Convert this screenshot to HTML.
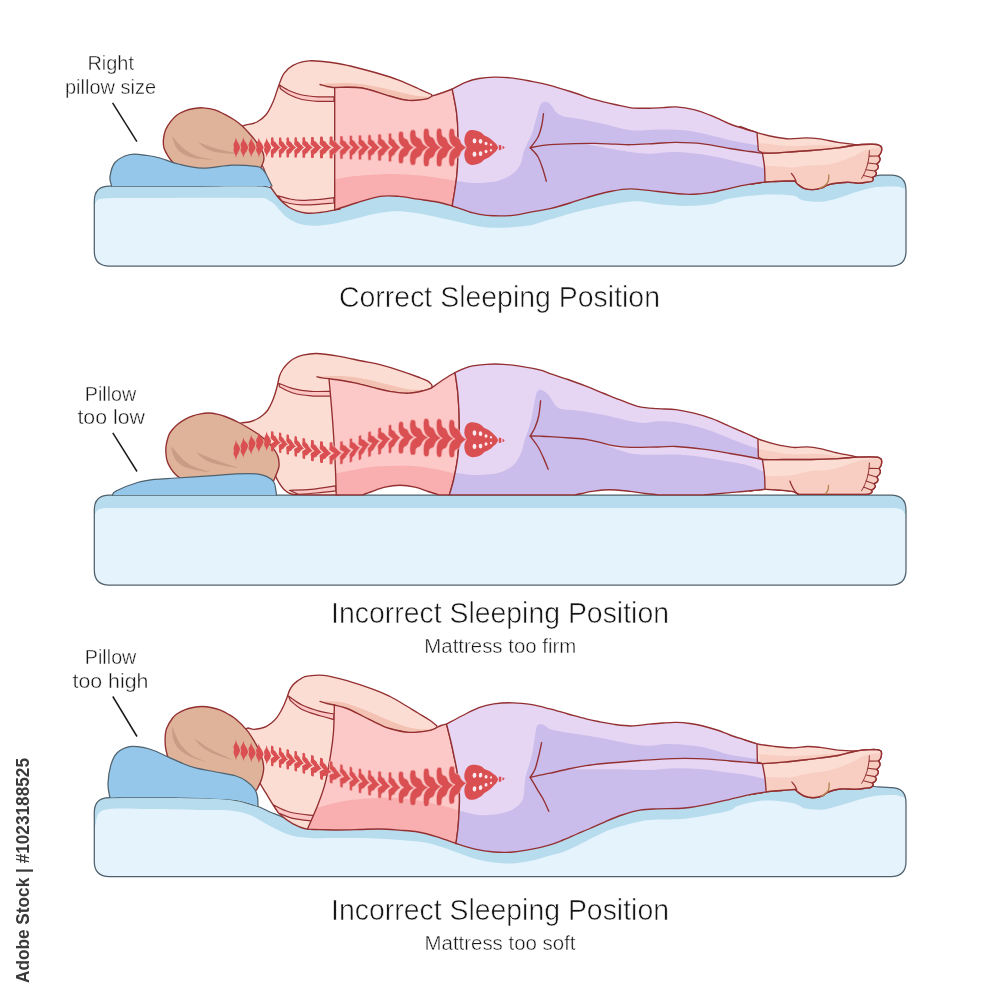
<!DOCTYPE html>
<html><head><meta charset="utf-8"><title>Sleeping positions</title>
<style>
html,body{margin:0;padding:0;background:#fff;}
body{width:1000px;height:1000px;overflow:hidden;font-family:"Liberation Sans",sans-serif;}
svg{display:block;}
svg text{font-family:"Liberation Sans",sans-serif;}
</style></head><body>
<svg width="1000" height="1000" viewBox="0 0 1000 1000">
<rect width="1000" height="1000" fill="#ffffff"/>
<clipPath id="f1mat"><path d="M94.3,201.0 Q94.3,186.0 109.3,186.0 L110.0,186.0 C125.0,186.0 174.7,186.0 200.0,186.0 C225.3,186.0 249.3,184.8 262.0,186.0 C274.7,187.2 271.5,189.8 276.0,193.0 C280.5,196.2 284.2,202.1 289.0,205.0 C293.8,207.9 297.5,210.1 305.0,210.5 C312.5,210.9 325.5,209.2 334.0,207.5 C342.5,205.8 348.0,202.7 356.0,200.5 C364.0,198.3 372.7,195.5 382.0,194.5 C391.3,193.5 402.8,193.7 412.0,194.5 C421.2,195.3 430.3,198.0 437.0,199.5 C443.7,201.0 446.3,201.8 452.0,203.5 C457.7,205.2 465.2,208.4 471.0,210.0 C476.8,211.6 480.0,212.5 487.0,213.0 C494.0,213.5 505.5,213.7 513.0,213.0 C520.5,212.3 525.8,210.2 532.0,209.0 C538.2,207.8 541.0,208.3 550.0,206.0 C559.0,203.7 572.5,198.3 586.0,195.0 C599.5,191.7 619.0,187.0 631.0,186.0 C643.0,185.0 649.0,188.1 658.0,189.0 C667.0,189.9 676.0,191.4 685.0,191.5 C694.0,191.6 704.5,190.4 712.0,189.5 C719.5,188.6 723.7,187.3 730.0,186.0 C736.3,184.7 744.0,183.0 750.0,181.5 C756.0,180.0 759.2,178.6 766.0,177.0 C772.8,175.4 785.3,170.8 791.0,172.0 C796.7,173.2 796.5,181.5 800.0,184.0 C803.5,186.5 807.5,187.2 812.0,187.0 C816.5,186.8 819.7,184.0 827.0,183.0 C834.3,182.0 848.8,182.0 856.0,181.0 C863.2,180.0 866.0,178.0 870.0,177.0 C874.0,176.0 876.6,175.5 880.0,175.2 C883.4,174.9 888.8,175.2 890.5,175.2 L891.0,175.2 Q906.0,175.2 906.0,190.2 L906.0,251.0 Q906.0,266.0 891.0,266.0 L109.3,266.0 Q94.3,266.0 94.3,251.0 Z"/></clipPath>
<path d="M94.3,201.0 Q94.3,186.0 109.3,186.0 L110.0,186.0 C125.0,186.0 174.7,186.0 200.0,186.0 C225.3,186.0 249.3,184.8 262.0,186.0 C274.7,187.2 271.5,189.8 276.0,193.0 C280.5,196.2 284.2,202.1 289.0,205.0 C293.8,207.9 297.5,210.1 305.0,210.5 C312.5,210.9 325.5,209.2 334.0,207.5 C342.5,205.8 348.0,202.7 356.0,200.5 C364.0,198.3 372.7,195.5 382.0,194.5 C391.3,193.5 402.8,193.7 412.0,194.5 C421.2,195.3 430.3,198.0 437.0,199.5 C443.7,201.0 446.3,201.8 452.0,203.5 C457.7,205.2 465.2,208.4 471.0,210.0 C476.8,211.6 480.0,212.5 487.0,213.0 C494.0,213.5 505.5,213.7 513.0,213.0 C520.5,212.3 525.8,210.2 532.0,209.0 C538.2,207.8 541.0,208.3 550.0,206.0 C559.0,203.7 572.5,198.3 586.0,195.0 C599.5,191.7 619.0,187.0 631.0,186.0 C643.0,185.0 649.0,188.1 658.0,189.0 C667.0,189.9 676.0,191.4 685.0,191.5 C694.0,191.6 704.5,190.4 712.0,189.5 C719.5,188.6 723.7,187.3 730.0,186.0 C736.3,184.7 744.0,183.0 750.0,181.5 C756.0,180.0 759.2,178.6 766.0,177.0 C772.8,175.4 785.3,170.8 791.0,172.0 C796.7,173.2 796.5,181.5 800.0,184.0 C803.5,186.5 807.5,187.2 812.0,187.0 C816.5,186.8 819.7,184.0 827.0,183.0 C834.3,182.0 848.8,182.0 856.0,181.0 C863.2,180.0 866.0,178.0 870.0,177.0 C874.0,176.0 876.6,175.5 880.0,175.2 C883.4,174.9 888.8,175.2 890.5,175.2 L891.0,175.2 Q906.0,175.2 906.0,190.2 L906.0,251.0 Q906.0,266.0 891.0,266.0 L109.3,266.0 Q94.3,266.0 94.3,251.0 Z" fill="#e4f3fc"/>
<path d="M92.3,146.0 L908.0,135.2 L908.0,190.0 L908.0,190.0 C906.7,189.5 902.7,187.6 900.0,187.0 C897.3,186.4 896.3,186.4 892.0,186.5 C887.7,186.6 880.0,186.5 874.0,187.4 C868.0,188.3 862.0,190.2 856.0,192.0 C850.0,193.8 844.0,196.6 838.0,198.2 C832.0,199.8 826.0,201.5 820.0,201.8 C814.0,202.1 806.5,201.1 802.0,200.0 C797.5,198.9 799.0,196.4 793.0,195.5 C787.0,194.6 776.5,194.1 766.0,194.6 C755.5,195.1 739.0,196.9 730.0,198.5 C721.0,200.1 719.5,202.8 712.0,204.0 C704.5,205.2 694.0,206.0 685.0,206.0 C676.0,206.0 667.0,204.8 658.0,204.0 C649.0,203.2 643.0,200.5 631.0,201.4 C619.0,202.3 599.5,206.5 586.0,209.5 C572.5,212.5 560.2,216.7 550.0,219.4 C539.8,222.2 535.5,224.7 525.0,226.0 C514.5,227.3 499.5,228.5 487.0,227.5 C474.5,226.5 462.5,222.5 450.0,220.0 C437.5,217.5 423.3,213.8 412.0,212.5 C400.7,211.2 395.3,210.6 382.0,212.5 C368.7,214.4 344.8,221.9 332.0,224.0 C319.2,226.1 312.5,226.1 305.0,225.0 C297.5,223.9 292.8,221.5 287.0,217.5 C281.2,213.5 276.2,204.2 270.0,201.0 C263.8,197.8 270.0,198.5 250.0,198.0 C230.0,197.5 174.3,197.9 150.0,198.0 C125.7,198.1 113.2,197.6 104.0,198.6 C94.8,199.6 97.3,201.1 95.0,204.0 C92.7,206.9 90.8,214.0 90.0,216.0 L92.3,216.0 Z" fill="#b7dcee" clip-path="url(#f1mat)"/>
<path d="M94.3,201.0 Q94.3,186.0 109.3,186.0 L110.0,186.0 C125.0,186.0 174.7,186.0 200.0,186.0 C225.3,186.0 249.3,184.8 262.0,186.0 C274.7,187.2 271.5,189.8 276.0,193.0 C280.5,196.2 284.2,202.1 289.0,205.0 C293.8,207.9 297.5,210.1 305.0,210.5 C312.5,210.9 325.5,209.2 334.0,207.5 C342.5,205.8 348.0,202.7 356.0,200.5 C364.0,198.3 372.7,195.5 382.0,194.5 C391.3,193.5 402.8,193.7 412.0,194.5 C421.2,195.3 430.3,198.0 437.0,199.5 C443.7,201.0 446.3,201.8 452.0,203.5 C457.7,205.2 465.2,208.4 471.0,210.0 C476.8,211.6 480.0,212.5 487.0,213.0 C494.0,213.5 505.5,213.7 513.0,213.0 C520.5,212.3 525.8,210.2 532.0,209.0 C538.2,207.8 541.0,208.3 550.0,206.0 C559.0,203.7 572.5,198.3 586.0,195.0 C599.5,191.7 619.0,187.0 631.0,186.0 C643.0,185.0 649.0,188.1 658.0,189.0 C667.0,189.9 676.0,191.4 685.0,191.5 C694.0,191.6 704.5,190.4 712.0,189.5 C719.5,188.6 723.7,187.3 730.0,186.0 C736.3,184.7 744.0,183.0 750.0,181.5 C756.0,180.0 759.2,178.6 766.0,177.0 C772.8,175.4 785.3,170.8 791.0,172.0 C796.7,173.2 796.5,181.5 800.0,184.0 C803.5,186.5 807.5,187.2 812.0,187.0 C816.5,186.8 819.7,184.0 827.0,183.0 C834.3,182.0 848.8,182.0 856.0,181.0 C863.2,180.0 866.0,178.0 870.0,177.0 C874.0,176.0 876.6,175.5 880.0,175.2 C883.4,174.9 888.8,175.2 890.5,175.2 L891.0,175.2 Q906.0,175.2 906.0,190.2 L906.0,251.0 Q906.0,266.0 891.0,266.0 L109.3,266.0 Q94.3,266.0 94.3,251.0 Z" fill="none" stroke="#50616d" stroke-width="1.25"/>
<path d="M740.0,126.5 C742.8,127.5 751.2,130.8 757.0,132.6 C762.8,134.3 769.6,136.0 775.0,137.0 C780.4,138.0 784.3,138.7 789.4,138.8 C794.5,139.0 800.5,137.9 805.6,137.9 C810.7,137.9 814.6,138.1 820.0,138.8 C825.4,139.6 832.6,141.5 838.0,142.4 C843.4,143.3 848.7,143.5 852.4,144.2 C856.1,144.9 858.7,146.1 860.0,146.5 C859.7,147.4 868.0,150.6 858.0,152.0 C848.0,153.4 819.7,155.3 800.0,155.0 C780.3,154.7 750.0,150.8 740.0,150.0 Z" fill="#fcddd3" stroke="#932f30" stroke-width="1.35" stroke-linejoin="round"/>
<path d="M750.0,152.0 C752.1,152.2 756.7,153.1 762.4,153.2 C768.1,153.2 775.9,152.8 784.0,152.3 C792.1,151.9 802.0,151.2 811.0,150.5 C820.0,149.8 830.5,148.7 838.0,147.8 C845.5,146.9 850.6,145.6 856.0,145.0 C861.4,144.4 866.8,144.3 870.4,144.2 C874.0,144.1 876.4,144.5 877.6,144.6 C878.2,144.9 880.3,145.6 881.0,146.5 C881.7,147.4 881.8,148.8 881.7,150.0 C881.6,151.2 881.0,152.5 880.5,153.5 C880.0,154.5 878.8,155.6 878.5,156.0 C878.8,156.4 879.9,157.6 880.0,158.5 C880.1,159.4 879.9,160.4 879.4,161.3 C878.9,162.2 877.2,163.6 876.7,164.0 C877.0,164.4 878.2,165.5 878.3,166.3 C878.4,167.1 878.0,168.2 877.5,169.0 C877.0,169.8 875.4,170.7 875.0,171.0 C875.2,171.4 876.3,172.5 876.3,173.3 C876.3,174.1 875.7,175.3 875.0,176.0 C874.3,176.7 872.7,177.2 872.2,177.5 C872.4,177.8 873.4,178.8 873.3,179.5 C873.2,180.2 872.4,181.1 871.5,181.5 C870.6,181.9 868.3,181.9 867.7,182.0 C866.2,182.2 861.7,183.2 858.4,183.2 C855.1,183.2 851.4,182.2 848.0,182.2 C844.6,182.2 841.3,182.6 838.0,183.0 C834.7,183.4 830.7,184.0 828.0,184.8 C825.3,185.6 824.5,187.0 822.0,187.8 C819.5,188.6 816.0,189.5 813.0,189.6 C810.0,189.7 806.5,189.2 804.0,188.3 C801.5,187.4 799.2,185.4 797.7,184.2 C796.2,182.9 795.5,181.4 795.0,180.8 C793.5,180.8 789.3,180.9 786.0,181.0 C782.7,181.1 778.5,181.3 775.0,181.5 C771.5,181.7 769.2,181.6 765.0,182.0 C760.8,182.4 752.5,183.8 750.0,184.2 Z" fill="#fcddd3" stroke="#932f30" stroke-width="1.35" stroke-linejoin="round"/>
<path d="M759.0,143.0 C764.2,143.5 779.8,145.7 790.0,146.0 C800.2,146.3 810.8,144.9 820.0,145.0 C829.2,145.1 839.0,146.3 845.0,146.5 C851.0,146.7 856.8,145.7 856.0,146.0 C855.2,146.3 847.5,147.7 840.0,148.5 C832.5,149.3 820.3,150.3 811.0,151.0 C801.7,151.7 792.5,152.5 784.0,152.8 C775.5,153.1 764.0,153.0 760.0,153.0 Z" fill="#f4c4b5" opacity="0.6"/>
<clipPath id="f1ft"><path d="M750.0,152.0 C752.1,152.2 756.7,153.1 762.4,153.2 C768.1,153.2 775.9,152.8 784.0,152.3 C792.1,151.9 802.0,151.2 811.0,150.5 C820.0,149.8 830.5,148.7 838.0,147.8 C845.5,146.9 850.6,145.6 856.0,145.0 C861.4,144.4 866.8,144.3 870.4,144.2 C874.0,144.1 876.4,144.5 877.6,144.6 C878.2,144.9 880.3,145.6 881.0,146.5 C881.7,147.4 881.8,148.8 881.7,150.0 C881.6,151.2 881.0,152.5 880.5,153.5 C880.0,154.5 878.8,155.6 878.5,156.0 C878.8,156.4 879.9,157.6 880.0,158.5 C880.1,159.4 879.9,160.4 879.4,161.3 C878.9,162.2 877.2,163.6 876.7,164.0 C877.0,164.4 878.2,165.5 878.3,166.3 C878.4,167.1 878.0,168.2 877.5,169.0 C877.0,169.8 875.4,170.7 875.0,171.0 C875.2,171.4 876.3,172.5 876.3,173.3 C876.3,174.1 875.7,175.3 875.0,176.0 C874.3,176.7 872.7,177.2 872.2,177.5 C872.4,177.8 873.4,178.8 873.3,179.5 C873.2,180.2 872.4,181.1 871.5,181.5 C870.6,181.9 868.3,181.9 867.7,182.0 C866.2,182.2 861.7,183.2 858.4,183.2 C855.1,183.2 851.4,182.2 848.0,182.2 C844.6,182.2 841.3,182.6 838.0,183.0 C834.7,183.4 830.7,184.0 828.0,184.8 C825.3,185.6 824.5,187.0 822.0,187.8 C819.5,188.6 816.0,189.5 813.0,189.6 C810.0,189.7 806.5,189.2 804.0,188.3 C801.5,187.4 799.2,185.4 797.7,184.2 C796.2,182.9 795.5,181.4 795.0,180.8 C793.5,180.8 789.3,180.9 786.0,181.0 C782.7,181.1 778.5,181.3 775.0,181.5 C771.5,181.7 769.2,181.6 765.0,182.0 C760.8,182.4 752.5,183.8 750.0,184.2 Z"/></clipPath>
<path d="M760.0,165.0 C763.3,165.2 774.5,166.1 780.0,166.5 C785.5,166.9 788.7,167.7 793.0,167.6 C797.3,167.5 799.3,166.4 805.6,165.8 C811.9,165.2 823.0,165.5 830.8,164.0 C838.6,162.5 846.5,159.1 852.4,156.8 C858.3,154.5 860.6,151.6 866.0,150.0 C871.4,148.4 881.8,147.9 885.0,147.5 L885.0,195.0 L760.0,195.0 Z" fill="#f4c4b5" opacity="0.6" clip-path="url(#f1ft)"/>
<path d="M750.0,152.0 C752.1,152.2 756.7,153.1 762.4,153.2 C768.1,153.2 775.9,152.8 784.0,152.3 C792.1,151.9 802.0,151.2 811.0,150.5 C820.0,149.8 830.5,148.7 838.0,147.8 C845.5,146.9 850.6,145.6 856.0,145.0 C861.4,144.4 866.8,144.3 870.4,144.2 C874.0,144.1 876.4,144.5 877.6,144.6 C878.2,144.9 880.3,145.6 881.0,146.5 C881.7,147.4 881.8,148.8 881.7,150.0 C881.6,151.2 881.0,152.5 880.5,153.5 C880.0,154.5 878.8,155.6 878.5,156.0 C878.8,156.4 879.9,157.6 880.0,158.5 C880.1,159.4 879.9,160.4 879.4,161.3 C878.9,162.2 877.2,163.6 876.7,164.0 C877.0,164.4 878.2,165.5 878.3,166.3 C878.4,167.1 878.0,168.2 877.5,169.0 C877.0,169.8 875.4,170.7 875.0,171.0 C875.2,171.4 876.3,172.5 876.3,173.3 C876.3,174.1 875.7,175.3 875.0,176.0 C874.3,176.7 872.7,177.2 872.2,177.5 C872.4,177.8 873.4,178.8 873.3,179.5 C873.2,180.2 872.4,181.1 871.5,181.5 C870.6,181.9 868.3,181.9 867.7,182.0 C866.2,182.2 861.7,183.2 858.4,183.2 C855.1,183.2 851.4,182.2 848.0,182.2 C844.6,182.2 841.3,182.6 838.0,183.0 C834.7,183.4 830.7,184.0 828.0,184.8 C825.3,185.6 824.5,187.0 822.0,187.8 C819.5,188.6 816.0,189.5 813.0,189.6 C810.0,189.7 806.5,189.2 804.0,188.3 C801.5,187.4 799.2,185.4 797.7,184.2 C796.2,182.9 795.5,181.4 795.0,180.8 C793.5,180.8 789.3,180.9 786.0,181.0 C782.7,181.1 778.5,181.3 775.0,181.5 C771.5,181.7 769.2,181.6 765.0,182.0 C760.8,182.4 752.5,183.8 750.0,184.2 Z" fill="none" stroke="#932f30" stroke-width="1.35" stroke-linejoin="round"/>
<path d="M869.4,150.7 C869.3,151.9 869.2,155.3 868.8,157.9 C868.4,160.5 867.8,163.6 867.0,166.3 C866.2,169.0 864.9,172.1 864.0,174.1 C863.1,176.1 862.0,177.6 861.6,178.3" fill="none" stroke="#932f30" stroke-width="1.0" stroke-linecap="round"/>
<path d="M791.4,173.4 C791.8,174.0 793.2,175.7 794.0,177.0 C794.8,178.3 795.7,180.3 796.0,181.0" fill="none" stroke="#932f30" stroke-width="1.25" stroke-linecap="round"/>
<path d="M828.8,175.0 C828.7,176.0 828.9,179.2 828.3,181.0 C827.7,182.8 826.4,184.3 825.0,185.5 C823.6,186.7 820.8,187.8 820.0,188.3" fill="none" stroke="#b5824d" stroke-width="1.3" stroke-linecap="round"/>
<path d="M878.5,156.0 L869.3,156.1" fill="none" stroke="#932f30" stroke-width="1.1" stroke-linecap="round"/>
<path d="M876.7,164.0 L868.0,163.0" fill="none" stroke="#932f30" stroke-width="1.1" stroke-linecap="round"/>
<path d="M875.0,171.0 L866.0,169.7" fill="none" stroke="#932f30" stroke-width="1.1" stroke-linecap="round"/>
<path d="M872.2,177.5 L863.5,175.5" fill="none" stroke="#932f30" stroke-width="1.1" stroke-linecap="round"/>
<path d="M241.0,126.5 C241.8,126.2 243.3,125.7 246.0,124.9 C248.7,124.2 253.7,123.7 257.0,122.0 C260.3,120.3 263.3,118.1 266.0,114.8 C268.7,111.5 270.9,106.8 273.0,102.0 C275.1,97.2 276.8,90.8 278.6,86.0 C280.4,81.2 281.6,76.9 284.0,73.4 C286.4,70.0 288.8,67.4 293.0,65.3 C297.2,63.2 301.5,61.1 309.0,60.8 C316.5,60.5 329.2,62.1 338.0,63.5 C346.8,64.9 353.3,66.8 362.0,69.0 C370.7,71.2 383.7,75.0 390.0,77.0 C396.3,79.0 395.3,78.8 400.0,80.7 C404.7,82.6 412.8,86.2 418.0,88.5 C423.2,90.8 429.2,93.5 431.5,94.5 C431.6,95.0 433.0,96.7 432.0,97.5 C431.0,98.3 429.5,98.7 425.6,99.2 C421.7,99.7 414.5,100.9 408.5,100.4 C402.5,99.9 397.2,98.1 389.5,96.0 C381.8,93.9 370.2,89.5 362.0,88.0 C353.8,86.5 343.7,87.2 340.0,87.0 L340.0,209.0 C336.7,209.6 325.7,211.8 320.0,212.5 C314.3,213.2 310.7,213.8 305.6,213.0 C300.5,212.2 294.2,210.4 289.4,207.5 C284.6,204.6 280.2,199.9 276.8,195.8 C273.4,191.7 271.0,187.8 268.7,183.0 C266.4,178.2 265.3,170.8 263.0,167.0 C260.7,163.2 256.3,161.2 255.0,160.0 Z" fill="#fcddd3" stroke="#932f30" stroke-width="1.35" stroke-linejoin="round"/>
<path d="M321.0,84.0 C325.0,83.8 336.8,82.8 345.0,83.0 C353.2,83.2 361.7,84.2 370.0,85.5 C378.3,86.8 387.7,89.3 395.0,91.0 C402.3,92.7 408.5,94.5 414.0,95.5 C419.5,96.5 426.1,96.5 428.0,97.0 C429.9,97.5 428.9,98.1 425.6,98.6 C422.4,99.0 414.5,100.2 408.5,99.7 C402.5,99.2 397.2,97.4 389.5,95.3 C381.8,93.2 371.2,88.7 362.0,87.3 C352.8,85.9 338.7,87.0 334.0,87.0 Z" fill="#f3c2b3"/>
<path d="M279.5,85.0 C281.2,86.0 286.2,89.3 290.0,91.0 C293.8,92.7 297.3,94.0 302.0,95.0 C306.7,96.0 312.7,96.5 318.0,96.8 C323.3,97.1 331.3,96.8 334.0,96.8 L334.0,101.3 C331.3,101.3 323.3,101.6 318.0,101.3 C312.7,101.0 306.7,100.5 302.0,99.5 C297.3,98.5 293.6,96.8 290.0,95.0 C286.4,93.2 282.0,89.8 280.4,88.7 Z" fill="#fbc6c4" stroke="#932f30" stroke-width="1.2" stroke-linejoin="round"/>
<path d="M277.7,195.8 C279.8,196.3 285.9,198.2 290.0,199.0 C294.1,199.8 297.3,200.2 302.0,200.3 C306.7,200.4 312.7,199.9 318.0,199.5 C323.3,199.1 331.3,197.9 334.0,197.6 L334.0,203.0 C331.3,203.2 323.3,204.0 318.0,204.3 C312.7,204.6 306.7,204.9 302.0,204.8 C297.3,204.7 293.3,204.1 290.0,203.5 C286.7,202.9 283.3,201.4 282.0,201.0 Z" fill="#fbc6c4" stroke="#932f30" stroke-width="1.2" stroke-linejoin="round"/>
<clipPath id="f1pan"><path d="M334.7,87.5 C339.2,87.6 352.9,86.6 362.0,88.0 C371.1,89.4 381.8,93.9 389.5,96.0 C397.2,98.1 402.5,99.9 408.5,100.4 C414.5,100.9 421.7,99.9 425.6,99.2 C429.5,98.5 430.9,96.5 432.0,96.0 C433.3,95.6 436.6,94.7 440.0,93.5 C443.4,92.3 450.2,89.8 452.2,89.0 C452.9,92.8 455.5,104.2 456.5,112.0 C457.5,119.8 457.9,125.2 458.0,135.5 C458.1,145.8 458.0,161.8 457.0,173.5 C456.0,185.2 453.0,200.6 452.2,206.0 C449.7,205.3 442.7,203.1 437.0,202.0 C431.3,200.9 424.3,200.1 418.0,199.2 C411.7,198.3 405.3,196.9 399.0,196.4 C392.7,195.9 387.2,195.3 380.0,196.4 C372.8,197.5 363.6,200.7 356.0,203.0 C348.4,205.3 338.2,208.8 334.7,210.0 Z"/></clipPath>
<path d="M334.7,87.5 C339.2,87.6 352.9,86.6 362.0,88.0 C371.1,89.4 381.8,93.9 389.5,96.0 C397.2,98.1 402.5,99.9 408.5,100.4 C414.5,100.9 421.7,99.9 425.6,99.2 C429.5,98.5 430.9,96.5 432.0,96.0 C433.3,95.6 436.6,94.7 440.0,93.5 C443.4,92.3 450.2,89.8 452.2,89.0 C452.9,92.8 455.5,104.2 456.5,112.0 C457.5,119.8 457.9,125.2 458.0,135.5 C458.1,145.8 458.0,161.8 457.0,173.5 C456.0,185.2 453.0,200.6 452.2,206.0 C449.7,205.3 442.7,203.1 437.0,202.0 C431.3,200.9 424.3,200.1 418.0,199.2 C411.7,198.3 405.3,196.9 399.0,196.4 C392.7,195.9 387.2,195.3 380.0,196.4 C372.8,197.5 363.6,200.7 356.0,203.0 C348.4,205.3 338.2,208.8 334.7,210.0 Z" fill="#fcc9c8"/>
<path d="M328.0,180.5 C328.9,180.3 328.8,180.3 333.5,179.6 C338.2,178.8 346.6,176.9 356.0,176.0 C365.4,175.1 379.3,174.1 390.0,174.0 C400.7,173.9 410.8,174.7 420.0,175.5 C429.2,176.3 438.8,178.0 445.0,179.0 C451.2,180.0 454.2,180.8 457.5,181.5 C460.8,182.2 463.8,182.8 465.0,183.0 L465.0,263.0 L328.0,260.5 Z" fill="#f9afaf" clip-path="url(#f1pan)"/>
<path d="M334.7,87.5 C339.2,87.6 352.9,86.6 362.0,88.0 C371.1,89.4 381.8,93.9 389.5,96.0 C397.2,98.1 402.5,99.9 408.5,100.4 C414.5,100.9 421.7,99.9 425.6,99.2 C429.5,98.5 430.9,96.5 432.0,96.0 C433.3,95.6 436.6,94.7 440.0,93.5 C443.4,92.3 450.2,89.8 452.2,89.0 C452.9,92.8 455.5,104.2 456.5,112.0 C457.5,119.8 457.9,125.2 458.0,135.5 C458.1,145.8 458.0,161.8 457.0,173.5 C456.0,185.2 453.0,200.6 452.2,206.0 C449.7,205.3 442.7,203.1 437.0,202.0 C431.3,200.9 424.3,200.1 418.0,199.2 C411.7,198.3 405.3,196.9 399.0,196.4 C392.7,195.9 387.2,195.3 380.0,196.4 C372.8,197.5 363.6,200.7 356.0,203.0 C348.4,205.3 338.2,208.8 334.7,210.0 Z" fill="none" stroke="#932f30" stroke-width="1.35" stroke-linejoin="round"/>
<path d="M320.0,84.5 C321.2,84.8 324.8,86.0 327.0,86.5 C329.2,87.0 332.4,87.3 333.5,87.5" fill="none" stroke="#932f30" stroke-width="1.35" stroke-linecap="round"/>
<clipPath id="f1pt"><path d="M452.2,89.0 C454.4,87.9 461.1,84.0 465.5,82.3 C469.9,80.5 474.1,79.3 478.9,78.5 C483.6,77.7 488.3,77.3 494.0,77.2 C499.7,77.1 506.7,77.4 513.0,78.1 C519.3,78.8 525.8,80.2 532.0,81.4 C538.2,82.6 542.8,83.4 550.0,85.3 C557.2,87.2 567.5,90.6 575.0,93.0 C582.5,95.4 588.3,97.8 595.0,99.7 C601.7,101.6 609.0,103.2 615.0,104.5 C621.0,105.8 625.3,107.2 631.0,107.8 C636.7,108.4 643.7,108.2 649.0,108.2 C654.3,108.2 658.5,107.8 663.0,107.6 C667.5,107.4 670.8,106.6 676.0,106.9 C681.2,107.2 688.0,108.1 694.0,109.6 C700.0,111.1 706.0,113.5 712.0,115.9 C718.0,118.3 724.5,121.8 730.0,124.0 C735.5,126.2 740.5,127.6 745.0,129.0 C749.5,130.4 755.0,132.0 757.0,132.6 L758.4,150.5 L762.4,153.2 C762.8,155.5 764.1,162.2 764.5,167.0 C764.9,171.8 764.9,179.5 765.0,182.0 C762.5,182.4 755.8,183.1 750.0,184.2 C744.2,185.2 736.3,186.9 730.0,188.3 C723.7,189.7 717.0,191.5 712.0,192.4 C707.0,193.3 704.5,193.5 700.0,193.8 C695.5,194.1 692.0,194.6 685.0,194.2 C678.0,193.8 667.0,192.4 658.0,191.5 C649.0,190.6 639.0,188.8 631.0,188.8 C623.0,188.8 617.5,190.0 610.0,191.5 C602.5,193.0 592.7,195.9 586.0,197.8 C579.3,199.7 576.0,201.2 570.0,203.0 C564.0,204.8 556.3,207.1 550.0,208.6 C543.7,210.1 538.2,210.7 532.0,211.8 C525.8,212.9 520.6,214.8 513.0,215.4 C505.4,216.0 493.4,215.9 486.5,215.4 C479.6,214.9 477.0,214.1 471.3,212.5 C465.6,210.9 455.4,207.1 452.2,206.0 C453.0,200.6 456.0,185.2 457.0,173.5 C458.0,161.8 458.1,145.8 458.0,135.5 C457.9,125.2 457.5,119.8 456.5,112.0 C455.5,104.2 452.9,92.8 452.2,89.0 Z"/></clipPath>
<path d="M452.2,89.0 C454.4,87.9 461.1,84.0 465.5,82.3 C469.9,80.5 474.1,79.3 478.9,78.5 C483.6,77.7 488.3,77.3 494.0,77.2 C499.7,77.1 506.7,77.4 513.0,78.1 C519.3,78.8 525.8,80.2 532.0,81.4 C538.2,82.6 542.8,83.4 550.0,85.3 C557.2,87.2 567.5,90.6 575.0,93.0 C582.5,95.4 588.3,97.8 595.0,99.7 C601.7,101.6 609.0,103.2 615.0,104.5 C621.0,105.8 625.3,107.2 631.0,107.8 C636.7,108.4 643.7,108.2 649.0,108.2 C654.3,108.2 658.5,107.8 663.0,107.6 C667.5,107.4 670.8,106.6 676.0,106.9 C681.2,107.2 688.0,108.1 694.0,109.6 C700.0,111.1 706.0,113.5 712.0,115.9 C718.0,118.3 724.5,121.8 730.0,124.0 C735.5,126.2 740.5,127.6 745.0,129.0 C749.5,130.4 755.0,132.0 757.0,132.6 L758.4,150.5 L762.4,153.2 C762.8,155.5 764.1,162.2 764.5,167.0 C764.9,171.8 764.9,179.5 765.0,182.0 C762.5,182.4 755.8,183.1 750.0,184.2 C744.2,185.2 736.3,186.9 730.0,188.3 C723.7,189.7 717.0,191.5 712.0,192.4 C707.0,193.3 704.5,193.5 700.0,193.8 C695.5,194.1 692.0,194.6 685.0,194.2 C678.0,193.8 667.0,192.4 658.0,191.5 C649.0,190.6 639.0,188.8 631.0,188.8 C623.0,188.8 617.5,190.0 610.0,191.5 C602.5,193.0 592.7,195.9 586.0,197.8 C579.3,199.7 576.0,201.2 570.0,203.0 C564.0,204.8 556.3,207.1 550.0,208.6 C543.7,210.1 538.2,210.7 532.0,211.8 C525.8,212.9 520.6,214.8 513.0,215.4 C505.4,216.0 493.4,215.9 486.5,215.4 C479.6,214.9 477.0,214.1 471.3,212.5 C465.6,210.9 455.4,207.1 452.2,206.0 C453.0,200.6 456.0,185.2 457.0,173.5 C458.0,161.8 458.1,145.8 458.0,135.5 C457.9,125.2 457.5,119.8 456.5,112.0 C455.5,104.2 452.9,92.8 452.2,89.0 Z" fill="#e6d5f3"/>
<path d="M450.0,180.0 C451.2,180.2 452.8,180.5 457.0,181.0 C461.2,181.5 468.2,183.0 475.0,183.0 C481.8,183.0 491.7,182.6 498.0,181.0 C504.3,179.4 509.2,176.3 513.0,173.5 C516.8,170.7 518.9,167.5 520.6,164.0 C522.4,160.5 522.3,156.3 523.5,152.6 C524.7,148.9 526.6,145.2 528.0,142.0 C529.4,138.8 530.8,136.8 532.0,133.6 C533.2,130.4 534.0,126.5 535.0,123.0 C536.0,119.5 537.0,115.5 537.8,112.7 C538.6,109.9 539.2,107.7 540.0,106.0 C540.8,104.3 541.3,103.0 542.5,102.3 C543.7,101.6 545.6,101.5 547.0,102.0 C548.4,102.5 549.3,103.2 551.0,105.0 C552.7,106.8 554.8,111.1 557.0,113.0 C559.2,114.9 560.7,115.6 564.0,116.5 C567.3,117.4 570.3,117.3 577.0,118.6 C583.7,119.8 595.0,122.0 604.0,124.0 C613.0,126.0 622.0,129.4 631.0,130.3 C640.0,131.2 649.0,129.4 658.0,129.4 C667.0,129.4 676.0,129.2 685.0,130.3 C694.0,131.4 704.5,134.0 712.0,135.7 C719.5,137.3 723.7,138.8 730.0,140.2 C736.3,141.6 744.7,143.0 750.0,144.0 C755.3,145.0 760.0,145.7 762.0,146.0 L775.0,146.0 L775.0,230.0 L440.0,230.0 Z" fill="#cbbdeb" clip-path="url(#f1pt)"/>
<path d="M585.0,143.5 C586.7,143.5 590.0,143.3 595.0,143.4 C600.0,143.5 609.0,144.0 615.0,144.2 C621.0,144.4 624.3,144.8 631.0,144.7 C637.7,144.6 647.5,143.9 655.0,143.5 C662.5,143.1 668.0,142.3 676.0,142.4 C684.0,142.5 694.0,142.8 703.0,143.8 C712.0,144.8 722.2,147.2 730.0,148.5 C737.8,149.8 744.6,150.7 750.0,151.5 C755.4,152.3 760.3,152.9 762.4,153.2 L764.0,168.0 C761.7,167.4 755.7,165.8 750.0,164.5 C744.3,163.2 737.8,161.7 730.0,160.0 C722.2,158.3 712.0,155.9 703.0,154.6 C694.0,153.3 685.0,152.2 676.0,152.0 C667.0,151.8 656.5,153.7 649.0,153.7 C641.5,153.7 638.5,153.1 631.0,152.0 C623.5,150.9 611.7,148.8 604.0,147.4 C596.3,146.0 588.2,144.2 585.0,143.5 Z" fill="#e6d5f3" clip-path="url(#f1pt)"/>
<path d="M452.2,89.0 C454.4,87.9 461.1,84.0 465.5,82.3 C469.9,80.5 474.1,79.3 478.9,78.5 C483.6,77.7 488.3,77.3 494.0,77.2 C499.7,77.1 506.7,77.4 513.0,78.1 C519.3,78.8 525.8,80.2 532.0,81.4 C538.2,82.6 542.8,83.4 550.0,85.3 C557.2,87.2 567.5,90.6 575.0,93.0 C582.5,95.4 588.3,97.8 595.0,99.7 C601.7,101.6 609.0,103.2 615.0,104.5 C621.0,105.8 625.3,107.2 631.0,107.8 C636.7,108.4 643.7,108.2 649.0,108.2 C654.3,108.2 658.5,107.8 663.0,107.6 C667.5,107.4 670.8,106.6 676.0,106.9 C681.2,107.2 688.0,108.1 694.0,109.6 C700.0,111.1 706.0,113.5 712.0,115.9 C718.0,118.3 724.5,121.8 730.0,124.0 C735.5,126.2 740.5,127.6 745.0,129.0 C749.5,130.4 755.0,132.0 757.0,132.6 L758.4,150.5 L762.4,153.2 C762.8,155.5 764.1,162.2 764.5,167.0 C764.9,171.8 764.9,179.5 765.0,182.0 C762.5,182.4 755.8,183.1 750.0,184.2 C744.2,185.2 736.3,186.9 730.0,188.3 C723.7,189.7 717.0,191.5 712.0,192.4 C707.0,193.3 704.5,193.5 700.0,193.8 C695.5,194.1 692.0,194.6 685.0,194.2 C678.0,193.8 667.0,192.4 658.0,191.5 C649.0,190.6 639.0,188.8 631.0,188.8 C623.0,188.8 617.5,190.0 610.0,191.5 C602.5,193.0 592.7,195.9 586.0,197.8 C579.3,199.7 576.0,201.2 570.0,203.0 C564.0,204.8 556.3,207.1 550.0,208.6 C543.7,210.1 538.2,210.7 532.0,211.8 C525.8,212.9 520.6,214.8 513.0,215.4 C505.4,216.0 493.4,215.9 486.5,215.4 C479.6,214.9 477.0,214.1 471.3,212.5 C465.6,210.9 455.4,207.1 452.2,206.0 C453.0,200.6 456.0,185.2 457.0,173.5 C458.0,161.8 458.1,145.8 458.0,135.5 C457.9,125.2 457.5,119.8 456.5,112.0 C455.5,104.2 452.9,92.8 452.2,89.0 Z" fill="none" stroke="#932f30" stroke-width="1.35" stroke-linejoin="round"/>
<path d="M530.2,147.8 C531.8,147.5 536.7,146.3 540.0,145.8 C543.3,145.3 544.2,145.1 550.0,144.7 C555.8,144.3 567.5,143.8 575.0,143.6 C582.5,143.4 588.3,143.3 595.0,143.4 C601.7,143.5 609.0,144.0 615.0,144.2 C621.0,144.4 624.3,144.8 631.0,144.7 C637.7,144.6 647.5,143.9 655.0,143.5 C662.5,143.1 668.0,142.3 676.0,142.4 C684.0,142.5 694.0,142.8 703.0,143.8 C712.0,144.8 722.2,147.2 730.0,148.5 C737.8,149.8 744.6,150.7 750.0,151.5 C755.4,152.3 760.3,152.9 762.4,153.2" fill="none" stroke="#932f30" stroke-width="1.35" stroke-linecap="round" stroke-linejoin="round"/>
<path d="M543.5,113.7 C543.2,115.8 542.6,122.0 541.6,126.0 C540.6,130.0 539.7,133.9 537.8,137.5 C535.9,141.1 531.5,146.1 530.2,147.8 C531.5,149.2 535.8,153.1 537.8,156.5 C539.8,159.9 541.1,163.9 542.5,168.0 C543.9,172.1 545.7,179.0 546.3,181.2" fill="none" stroke="#932f30" stroke-width="1.35" stroke-linecap="round" stroke-linejoin="round"/>
<clipPath id="f1hd"><path d="M260.6,168.4 C258.8,168.5 253.6,168.9 250.0,169.0 C246.4,169.1 242.8,168.8 239.0,169.0 C235.2,169.2 231.0,169.7 227.0,170.0 C223.0,170.3 220.0,170.8 215.0,171.0 C210.0,171.2 201.7,171.2 197.0,171.0 C192.3,170.8 190.0,170.6 187.0,170.0 C184.0,169.4 181.3,168.8 179.0,167.5 C176.7,166.2 174.8,164.3 173.0,162.5 C171.2,160.7 169.7,158.8 168.2,156.4 C166.7,154.0 164.8,150.8 164.0,148.0 C163.2,145.2 163.2,142.6 163.4,139.6 C163.7,136.6 164.3,133.0 165.5,130.0 C166.7,127.0 168.7,124.1 170.6,121.6 C172.5,119.1 174.6,116.8 177.0,115.0 C179.4,113.2 182.2,111.9 185.0,110.8 C187.8,109.7 191.0,109.0 194.0,108.5 C197.0,108.0 199.5,107.6 203.0,107.8 C206.5,108.0 211.0,108.5 215.0,109.8 C219.0,111.1 223.8,113.9 227.0,115.6 C230.2,117.3 232.1,118.4 234.5,120.0 C236.9,121.6 239.2,123.2 241.4,125.2 C243.7,127.2 245.8,129.6 248.0,132.0 C250.2,134.4 252.8,137.3 254.6,139.6 C256.4,141.9 257.6,143.8 259.0,146.0 C260.4,148.2 262.2,150.5 263.0,152.8 C263.8,155.1 264.2,157.4 263.8,160.0 C263.4,162.6 261.1,167.0 260.6,168.4 Z"/></clipPath>
<path d="M260.6,168.4 C258.8,168.5 253.6,168.9 250.0,169.0 C246.4,169.1 242.8,168.8 239.0,169.0 C235.2,169.2 231.0,169.7 227.0,170.0 C223.0,170.3 220.0,170.8 215.0,171.0 C210.0,171.2 201.7,171.2 197.0,171.0 C192.3,170.8 190.0,170.6 187.0,170.0 C184.0,169.4 181.3,168.8 179.0,167.5 C176.7,166.2 174.8,164.3 173.0,162.5 C171.2,160.7 169.7,158.8 168.2,156.4 C166.7,154.0 164.8,150.8 164.0,148.0 C163.2,145.2 163.2,142.6 163.4,139.6 C163.7,136.6 164.3,133.0 165.5,130.0 C166.7,127.0 168.7,124.1 170.6,121.6 C172.5,119.1 174.6,116.8 177.0,115.0 C179.4,113.2 182.2,111.9 185.0,110.8 C187.8,109.7 191.0,109.0 194.0,108.5 C197.0,108.0 199.5,107.6 203.0,107.8 C206.5,108.0 211.0,108.5 215.0,109.8 C219.0,111.1 223.8,113.9 227.0,115.6 C230.2,117.3 232.1,118.4 234.5,120.0 C236.9,121.6 239.2,123.2 241.4,125.2 C243.7,127.2 245.8,129.6 248.0,132.0 C250.2,134.4 252.8,137.3 254.6,139.6 C256.4,141.9 257.6,143.8 259.0,146.0 C260.4,148.2 262.2,150.5 263.0,152.8 C263.8,155.1 264.2,157.4 263.8,160.0 C263.4,162.6 261.1,167.0 260.6,168.4 Z" fill="#deb39a"/>
<path d="M172.0,136.0 C172.7,137.8 174.0,143.9 176.0,147.0 C178.0,150.1 180.5,152.6 184.0,154.5 C187.5,156.4 192.2,157.7 197.0,158.5 C201.8,159.3 212.8,159.8 213.0,159.5 C213.2,159.2 202.3,157.9 198.0,156.5 C193.7,155.1 190.0,152.9 187.0,151.0 C184.0,149.1 182.5,147.5 180.0,145.0 C177.5,142.5 173.3,137.5 172.0,136.0 Z" fill="#c99c86" clip-path="url(#f1hd)"/>
<path d="M198.0,142.0 C199.3,143.1 202.7,146.8 206.0,148.5 C209.3,150.2 212.3,151.6 218.0,152.5 C223.7,153.4 239.3,154.4 240.0,154.0 C240.7,153.6 227.0,151.2 222.0,150.0 C217.0,148.8 214.0,147.8 210.0,146.5 C206.0,145.2 200.0,142.8 198.0,142.0 Z" fill="#c99c86" clip-path="url(#f1hd)"/>
<path d="M260.6,168.4 C258.8,168.5 253.6,168.9 250.0,169.0 C246.4,169.1 242.8,168.8 239.0,169.0 C235.2,169.2 231.0,169.7 227.0,170.0 C223.0,170.3 220.0,170.8 215.0,171.0 C210.0,171.2 201.7,171.2 197.0,171.0 C192.3,170.8 190.0,170.6 187.0,170.0 C184.0,169.4 181.3,168.8 179.0,167.5 C176.7,166.2 174.8,164.3 173.0,162.5 C171.2,160.7 169.7,158.8 168.2,156.4 C166.7,154.0 164.8,150.8 164.0,148.0 C163.2,145.2 163.2,142.6 163.4,139.6 C163.7,136.6 164.3,133.0 165.5,130.0 C166.7,127.0 168.7,124.1 170.6,121.6 C172.5,119.1 174.6,116.8 177.0,115.0 C179.4,113.2 182.2,111.9 185.0,110.8 C187.8,109.7 191.0,109.0 194.0,108.5 C197.0,108.0 199.5,107.6 203.0,107.8 C206.5,108.0 211.0,108.5 215.0,109.8 C219.0,111.1 223.8,113.9 227.0,115.6 C230.2,117.3 232.1,118.4 234.5,120.0 C236.9,121.6 239.2,123.2 241.4,125.2 C243.7,127.2 245.8,129.6 248.0,132.0 C250.2,134.4 252.8,137.3 254.6,139.6 C256.4,141.9 257.6,143.8 259.0,146.0 C260.4,148.2 262.2,150.5 263.0,152.8 C263.8,155.1 264.2,157.4 263.8,160.0 C263.4,162.6 261.1,167.0 260.6,168.4 Z" fill="none" stroke="#932f30" stroke-width="1.35" stroke-linejoin="round"/>
<path d="M111.6,186.0 C111.3,184.4 109.4,180.5 110.0,176.6 C110.6,172.7 111.7,166.2 115.0,162.5 C118.3,158.8 124.6,155.7 130.0,154.5 C135.4,153.3 142.5,154.9 147.5,155.5 C152.5,156.1 154.9,156.6 160.0,158.0 C165.1,159.4 171.0,162.3 178.0,164.0 C185.0,165.7 193.0,168.0 202.0,168.2 C211.0,168.4 223.0,165.5 232.0,165.2 C241.0,164.9 251.0,165.8 256.0,166.4 C261.0,167.0 260.4,167.6 262.0,168.8 C263.6,170.0 264.6,171.6 265.8,173.5 C267.0,175.4 268.0,177.9 269.0,180.0 C270.0,182.1 271.5,185.0 272.0,186.0 Z" fill="#94c7ea"/>
<path d="M111.6,186.0 C111.3,184.4 109.4,180.5 110.0,176.6 C110.6,172.7 111.7,166.2 115.0,162.5 C118.3,158.8 124.6,155.7 130.0,154.5 C135.4,153.3 142.5,154.9 147.5,155.5 C152.5,156.1 154.9,156.6 160.0,158.0 C165.1,159.4 171.0,162.3 178.0,164.0 C185.0,165.7 193.0,168.0 202.0,168.2 C211.0,168.4 223.0,165.5 232.0,165.2 C241.0,164.9 251.0,165.8 256.0,166.4 C261.0,167.0 260.4,167.6 262.0,168.8 C263.6,170.0 264.6,171.6 265.8,173.5 C267.0,175.4 268.0,177.9 269.0,180.0 C270.0,182.1 271.5,185.0 272.0,186.0" fill="none" stroke="#50616d" stroke-width="1.25" stroke-linejoin="round" stroke-linecap="round"/>
<path transform="translate(233.0,147.5) skewY(0.0) scale(7.00,10.50)" d="M0.42,-1 C0.46,-0.78 0.56,-0.62 0.74,-0.45 C0.86,-0.33 0.95,-0.15 1.02,0 C0.95,0.15 0.86,0.33 0.74,0.45 C0.56,0.62 0.46,0.78 0.42,1 C0.38,0.78 0.3,0.62 0.16,0.45 C0.06,0.33 0.04,0.15 0.16,0 C0.04,-0.15 0.06,-0.33 0.16,-0.45 C0.3,-0.62 0.38,-0.78 0.42,-1 Z" fill="#d94f52"/>
<path transform="translate(240.0,147.5) skewY(0.0) scale(8.00,10.38)" d="M0.42,-1 C0.46,-0.78 0.56,-0.62 0.74,-0.45 C0.86,-0.33 0.95,-0.15 1.02,0 C0.95,0.15 0.86,0.33 0.74,0.45 C0.56,0.62 0.46,0.78 0.42,1 C0.38,0.78 0.3,0.62 0.16,0.45 C0.06,0.33 0.04,0.15 0.16,0 C0.04,-0.15 0.06,-0.33 0.16,-0.45 C0.3,-0.62 0.38,-0.78 0.42,-1 Z" fill="#d94f52"/>
<path transform="translate(248.0,147.5) skewY(0.0) scale(7.50,10.24)" d="M0.42,-1 C0.46,-0.78 0.56,-0.62 0.74,-0.45 C0.86,-0.33 0.95,-0.15 1.02,0 C0.95,0.15 0.86,0.33 0.74,0.45 C0.56,0.62 0.46,0.78 0.42,1 C0.38,0.78 0.3,0.62 0.16,0.45 C0.06,0.33 0.04,0.15 0.16,0 C0.04,-0.15 0.06,-0.33 0.16,-0.45 C0.3,-0.62 0.38,-0.78 0.42,-1 Z" fill="#d94f52"/>
<path transform="translate(255.5,147.5) skewY(0.0) scale(8.00,10.11)" d="M0.42,-1 C0.46,-0.78 0.56,-0.62 0.74,-0.45 C0.86,-0.33 0.95,-0.15 1.02,0 C0.95,0.15 0.86,0.33 0.74,0.45 C0.56,0.62 0.46,0.78 0.42,1 C0.38,0.78 0.3,0.62 0.16,0.45 C0.06,0.33 0.04,0.15 0.16,0 C0.04,-0.15 0.06,-0.33 0.16,-0.45 C0.3,-0.62 0.38,-0.78 0.42,-1 Z" fill="#d94f52"/>
<path transform="translate(263.5,147.5) skewY(0.0) scale(7.50,9.99)" d="M0.42,-1 C0.46,-0.78 0.56,-0.62 0.74,-0.45 C0.86,-0.33 0.95,-0.15 1.02,0 C0.95,0.15 0.86,0.33 0.74,0.45 C0.56,0.62 0.46,0.78 0.42,1 C0.38,0.78 0.3,0.62 0.16,0.45 C0.06,0.33 0.04,0.15 0.16,0 C0.04,-0.15 0.06,-0.33 0.16,-0.45 C0.3,-0.62 0.38,-0.78 0.42,-1 Z" fill="#d94f52"/>
<path transform="translate(271.0,147.5) skewY(0.0) scale(8.00,9.94)" d="M0.000,-0.930 C0.010,-0.943 0.020,-0.997 0.060,-1.010 C0.100,-1.023 0.198,-1.023 0.240,-1.010 C0.282,-0.997 0.297,-0.982 0.310,-0.930 C0.323,-0.878 0.302,-0.755 0.320,-0.700 C0.338,-0.645 0.377,-0.627 0.420,-0.600 C0.463,-0.573 0.533,-0.577 0.580,-0.540 C0.627,-0.503 0.653,-0.430 0.700,-0.380 C0.747,-0.330 0.810,-0.283 0.860,-0.240 C0.910,-0.197 0.943,-0.160 1.000,-0.120 C1.057,-0.080 1.167,-0.020 1.200,0.000 C1.167,0.020 1.057,0.080 1.000,0.120 C0.943,0.160 0.910,0.197 0.860,0.240 C0.810,0.283 0.747,0.330 0.700,0.380 C0.653,0.430 0.627,0.503 0.580,0.540 C0.533,0.577 0.463,0.573 0.420,0.600 C0.377,0.627 0.338,0.645 0.320,0.700 C0.302,0.755 0.323,0.878 0.310,0.930 C0.297,0.982 0.282,0.997 0.240,1.010 C0.198,1.023 0.100,1.023 0.060,1.010 C0.020,0.997 0.010,0.943 0.000,0.930 C0.000,0.900 0.002,0.813 0.000,0.750 C-0.002,0.687 -0.005,0.622 -0.010,0.550 C-0.015,0.478 -0.057,0.385 -0.030,0.320 C-0.003,0.255 0.078,0.213 0.150,0.160 C0.222,0.107 0.358,0.027 0.400,0.000 C0.358,-0.027 0.222,-0.107 0.150,-0.160 C0.078,-0.213 -0.003,-0.255 -0.030,-0.320 C-0.057,-0.385 -0.015,-0.478 -0.010,-0.550 C-0.005,-0.622 -0.002,-0.687 0.000,-0.750 C0.002,-0.813 0.000,-0.900 0.000,-0.930 Z" fill="#d94f52"/>
<path transform="translate(279.0,147.5) skewY(0.0) scale(7.50,9.88)" d="M0.000,-0.930 C0.010,-0.943 0.020,-0.997 0.060,-1.010 C0.100,-1.023 0.198,-1.023 0.240,-1.010 C0.282,-0.997 0.297,-0.982 0.310,-0.930 C0.323,-0.878 0.302,-0.755 0.320,-0.700 C0.338,-0.645 0.377,-0.627 0.420,-0.600 C0.463,-0.573 0.533,-0.577 0.580,-0.540 C0.627,-0.503 0.653,-0.430 0.700,-0.380 C0.747,-0.330 0.810,-0.283 0.860,-0.240 C0.910,-0.197 0.943,-0.160 1.000,-0.120 C1.057,-0.080 1.167,-0.020 1.200,0.000 C1.167,0.020 1.057,0.080 1.000,0.120 C0.943,0.160 0.910,0.197 0.860,0.240 C0.810,0.283 0.747,0.330 0.700,0.380 C0.653,0.430 0.627,0.503 0.580,0.540 C0.533,0.577 0.463,0.573 0.420,0.600 C0.377,0.627 0.338,0.645 0.320,0.700 C0.302,0.755 0.323,0.878 0.310,0.930 C0.297,0.982 0.282,0.997 0.240,1.010 C0.198,1.023 0.100,1.023 0.060,1.010 C0.020,0.997 0.010,0.943 0.000,0.930 C0.000,0.900 0.002,0.813 0.000,0.750 C-0.002,0.687 -0.005,0.622 -0.010,0.550 C-0.015,0.478 -0.057,0.385 -0.030,0.320 C-0.003,0.255 0.078,0.213 0.150,0.160 C0.222,0.107 0.358,0.027 0.400,0.000 C0.358,-0.027 0.222,-0.107 0.150,-0.160 C0.078,-0.213 -0.003,-0.255 -0.030,-0.320 C-0.057,-0.385 -0.015,-0.478 -0.010,-0.550 C-0.005,-0.622 -0.002,-0.687 0.000,-0.750 C0.002,-0.813 0.000,-0.900 0.000,-0.930 Z" fill="#d94f52"/>
<path transform="translate(286.5,147.5) skewY(0.0) scale(8.00,9.83)" d="M0.000,-0.930 C0.010,-0.943 0.020,-0.997 0.060,-1.010 C0.100,-1.023 0.198,-1.023 0.240,-1.010 C0.282,-0.997 0.297,-0.982 0.310,-0.930 C0.323,-0.878 0.302,-0.755 0.320,-0.700 C0.338,-0.645 0.377,-0.627 0.420,-0.600 C0.463,-0.573 0.533,-0.577 0.580,-0.540 C0.627,-0.503 0.653,-0.430 0.700,-0.380 C0.747,-0.330 0.810,-0.283 0.860,-0.240 C0.910,-0.197 0.943,-0.160 1.000,-0.120 C1.057,-0.080 1.167,-0.020 1.200,0.000 C1.167,0.020 1.057,0.080 1.000,0.120 C0.943,0.160 0.910,0.197 0.860,0.240 C0.810,0.283 0.747,0.330 0.700,0.380 C0.653,0.430 0.627,0.503 0.580,0.540 C0.533,0.577 0.463,0.573 0.420,0.600 C0.377,0.627 0.338,0.645 0.320,0.700 C0.302,0.755 0.323,0.878 0.310,0.930 C0.297,0.982 0.282,0.997 0.240,1.010 C0.198,1.023 0.100,1.023 0.060,1.010 C0.020,0.997 0.010,0.943 0.000,0.930 C0.000,0.900 0.002,0.813 0.000,0.750 C-0.002,0.687 -0.005,0.622 -0.010,0.550 C-0.015,0.478 -0.057,0.385 -0.030,0.320 C-0.003,0.255 0.078,0.213 0.150,0.160 C0.222,0.107 0.358,0.027 0.400,0.000 C0.358,-0.027 0.222,-0.107 0.150,-0.160 C0.078,-0.213 -0.003,-0.255 -0.030,-0.320 C-0.057,-0.385 -0.015,-0.478 -0.010,-0.550 C-0.005,-0.622 -0.002,-0.687 0.000,-0.750 C0.002,-0.813 0.000,-0.900 0.000,-0.930 Z" fill="#d94f52"/>
<path transform="translate(294.5,147.5) skewY(0.0) scale(8.00,9.93)" d="M0.000,-0.930 C0.010,-0.943 0.020,-0.997 0.060,-1.010 C0.100,-1.023 0.198,-1.023 0.240,-1.010 C0.282,-0.997 0.297,-0.982 0.310,-0.930 C0.323,-0.878 0.302,-0.755 0.320,-0.700 C0.338,-0.645 0.377,-0.627 0.420,-0.600 C0.463,-0.573 0.533,-0.577 0.580,-0.540 C0.627,-0.503 0.653,-0.430 0.700,-0.380 C0.747,-0.330 0.810,-0.283 0.860,-0.240 C0.910,-0.197 0.943,-0.160 1.000,-0.120 C1.057,-0.080 1.167,-0.020 1.200,0.000 C1.167,0.020 1.057,0.080 1.000,0.120 C0.943,0.160 0.910,0.197 0.860,0.240 C0.810,0.283 0.747,0.330 0.700,0.380 C0.653,0.430 0.627,0.503 0.580,0.540 C0.533,0.577 0.463,0.573 0.420,0.600 C0.377,0.627 0.338,0.645 0.320,0.700 C0.302,0.755 0.323,0.878 0.310,0.930 C0.297,0.982 0.282,0.997 0.240,1.010 C0.198,1.023 0.100,1.023 0.060,1.010 C0.020,0.997 0.010,0.943 0.000,0.930 C0.000,0.900 0.002,0.813 0.000,0.750 C-0.002,0.687 -0.005,0.622 -0.010,0.550 C-0.015,0.478 -0.057,0.385 -0.030,0.320 C-0.003,0.255 0.078,0.213 0.150,0.160 C0.222,0.107 0.358,0.027 0.400,0.000 C0.358,-0.027 0.222,-0.107 0.150,-0.160 C0.078,-0.213 -0.003,-0.255 -0.030,-0.320 C-0.057,-0.385 -0.015,-0.478 -0.010,-0.550 C-0.005,-0.622 -0.002,-0.687 0.000,-0.750 C0.002,-0.813 0.000,-0.900 0.000,-0.930 Z" fill="#d94f52"/>
<path transform="translate(302.5,147.5) skewY(0.0) scale(8.50,10.16)" d="M0.000,-0.930 C0.010,-0.943 0.020,-0.997 0.060,-1.010 C0.100,-1.023 0.198,-1.023 0.240,-1.010 C0.282,-0.997 0.297,-0.982 0.310,-0.930 C0.323,-0.878 0.302,-0.755 0.320,-0.700 C0.338,-0.645 0.377,-0.627 0.420,-0.600 C0.463,-0.573 0.533,-0.577 0.580,-0.540 C0.627,-0.503 0.653,-0.430 0.700,-0.380 C0.747,-0.330 0.810,-0.283 0.860,-0.240 C0.910,-0.197 0.943,-0.160 1.000,-0.120 C1.057,-0.080 1.167,-0.020 1.200,0.000 C1.167,0.020 1.057,0.080 1.000,0.120 C0.943,0.160 0.910,0.197 0.860,0.240 C0.810,0.283 0.747,0.330 0.700,0.380 C0.653,0.430 0.627,0.503 0.580,0.540 C0.533,0.577 0.463,0.573 0.420,0.600 C0.377,0.627 0.338,0.645 0.320,0.700 C0.302,0.755 0.323,0.878 0.310,0.930 C0.297,0.982 0.282,0.997 0.240,1.010 C0.198,1.023 0.100,1.023 0.060,1.010 C0.020,0.997 0.010,0.943 0.000,0.930 C0.000,0.900 0.002,0.813 0.000,0.750 C-0.002,0.687 -0.005,0.622 -0.010,0.550 C-0.015,0.478 -0.057,0.385 -0.030,0.320 C-0.003,0.255 0.078,0.213 0.150,0.160 C0.222,0.107 0.358,0.027 0.400,0.000 C0.358,-0.027 0.222,-0.107 0.150,-0.160 C0.078,-0.213 -0.003,-0.255 -0.030,-0.320 C-0.057,-0.385 -0.015,-0.478 -0.010,-0.550 C-0.005,-0.622 -0.002,-0.687 0.000,-0.750 C0.002,-0.813 0.000,-0.900 0.000,-0.930 Z" fill="#d94f52"/>
<path transform="translate(311.0,147.5) skewY(0.0) scale(9.00,10.41)" d="M0.000,-0.930 C0.010,-0.943 0.020,-0.997 0.060,-1.010 C0.100,-1.023 0.198,-1.023 0.240,-1.010 C0.282,-0.997 0.297,-0.982 0.310,-0.930 C0.323,-0.878 0.302,-0.755 0.320,-0.700 C0.338,-0.645 0.377,-0.627 0.420,-0.600 C0.463,-0.573 0.533,-0.577 0.580,-0.540 C0.627,-0.503 0.653,-0.430 0.700,-0.380 C0.747,-0.330 0.810,-0.283 0.860,-0.240 C0.910,-0.197 0.943,-0.160 1.000,-0.120 C1.057,-0.080 1.167,-0.020 1.200,0.000 C1.167,0.020 1.057,0.080 1.000,0.120 C0.943,0.160 0.910,0.197 0.860,0.240 C0.810,0.283 0.747,0.330 0.700,0.380 C0.653,0.430 0.627,0.503 0.580,0.540 C0.533,0.577 0.463,0.573 0.420,0.600 C0.377,0.627 0.338,0.645 0.320,0.700 C0.302,0.755 0.323,0.878 0.310,0.930 C0.297,0.982 0.282,0.997 0.240,1.010 C0.198,1.023 0.100,1.023 0.060,1.010 C0.020,0.997 0.010,0.943 0.000,0.930 C0.000,0.900 0.002,0.813 0.000,0.750 C-0.002,0.687 -0.005,0.622 -0.010,0.550 C-0.015,0.478 -0.057,0.385 -0.030,0.320 C-0.003,0.255 0.078,0.213 0.150,0.160 C0.222,0.107 0.358,0.027 0.400,0.000 C0.358,-0.027 0.222,-0.107 0.150,-0.160 C0.078,-0.213 -0.003,-0.255 -0.030,-0.320 C-0.057,-0.385 -0.015,-0.478 -0.010,-0.550 C-0.005,-0.622 -0.002,-0.687 0.000,-0.750 C0.002,-0.813 0.000,-0.900 0.000,-0.930 Z" fill="#d94f52"/>
<path transform="translate(320.0,147.5) skewY(0.0) scale(9.50,10.67)" d="M0.000,-0.930 C0.010,-0.943 0.020,-0.997 0.060,-1.010 C0.100,-1.023 0.198,-1.023 0.240,-1.010 C0.282,-0.997 0.297,-0.982 0.310,-0.930 C0.323,-0.878 0.302,-0.755 0.320,-0.700 C0.338,-0.645 0.377,-0.627 0.420,-0.600 C0.463,-0.573 0.533,-0.577 0.580,-0.540 C0.627,-0.503 0.653,-0.430 0.700,-0.380 C0.747,-0.330 0.810,-0.283 0.860,-0.240 C0.910,-0.197 0.943,-0.160 1.000,-0.120 C1.057,-0.080 1.167,-0.020 1.200,0.000 C1.167,0.020 1.057,0.080 1.000,0.120 C0.943,0.160 0.910,0.197 0.860,0.240 C0.810,0.283 0.747,0.330 0.700,0.380 C0.653,0.430 0.627,0.503 0.580,0.540 C0.533,0.577 0.463,0.573 0.420,0.600 C0.377,0.627 0.338,0.645 0.320,0.700 C0.302,0.755 0.323,0.878 0.310,0.930 C0.297,0.982 0.282,0.997 0.240,1.010 C0.198,1.023 0.100,1.023 0.060,1.010 C0.020,0.997 0.010,0.943 0.000,0.930 C0.000,0.900 0.002,0.813 0.000,0.750 C-0.002,0.687 -0.005,0.622 -0.010,0.550 C-0.015,0.478 -0.057,0.385 -0.030,0.320 C-0.003,0.255 0.078,0.213 0.150,0.160 C0.222,0.107 0.358,0.027 0.400,0.000 C0.358,-0.027 0.222,-0.107 0.150,-0.160 C0.078,-0.213 -0.003,-0.255 -0.030,-0.320 C-0.057,-0.385 -0.015,-0.478 -0.010,-0.550 C-0.005,-0.622 -0.002,-0.687 0.000,-0.750 C0.002,-0.813 0.000,-0.900 0.000,-0.930 Z" fill="#d94f52"/>
<path transform="translate(329.5,147.5) skewY(0.0) scale(10.50,10.94)" d="M0.000,-0.930 C0.010,-0.943 0.020,-0.997 0.060,-1.010 C0.100,-1.023 0.198,-1.023 0.240,-1.010 C0.282,-0.997 0.297,-0.982 0.310,-0.930 C0.323,-0.878 0.302,-0.755 0.320,-0.700 C0.338,-0.645 0.377,-0.627 0.420,-0.600 C0.463,-0.573 0.533,-0.577 0.580,-0.540 C0.627,-0.503 0.653,-0.430 0.700,-0.380 C0.747,-0.330 0.810,-0.283 0.860,-0.240 C0.910,-0.197 0.943,-0.160 1.000,-0.120 C1.057,-0.080 1.167,-0.020 1.200,0.000 C1.167,0.020 1.057,0.080 1.000,0.120 C0.943,0.160 0.910,0.197 0.860,0.240 C0.810,0.283 0.747,0.330 0.700,0.380 C0.653,0.430 0.627,0.503 0.580,0.540 C0.533,0.577 0.463,0.573 0.420,0.600 C0.377,0.627 0.338,0.645 0.320,0.700 C0.302,0.755 0.323,0.878 0.310,0.930 C0.297,0.982 0.282,0.997 0.240,1.010 C0.198,1.023 0.100,1.023 0.060,1.010 C0.020,0.997 0.010,0.943 0.000,0.930 C0.000,0.900 0.002,0.813 0.000,0.750 C-0.002,0.687 -0.005,0.622 -0.010,0.550 C-0.015,0.478 -0.057,0.385 -0.030,0.320 C-0.003,0.255 0.078,0.213 0.150,0.160 C0.222,0.107 0.358,0.027 0.400,0.000 C0.358,-0.027 0.222,-0.107 0.150,-0.160 C0.078,-0.213 -0.003,-0.255 -0.030,-0.320 C-0.057,-0.385 -0.015,-0.478 -0.010,-0.550 C-0.005,-0.622 -0.002,-0.687 0.000,-0.750 C0.002,-0.813 0.000,-0.900 0.000,-0.930 Z" fill="#d94f52" stroke="#f5b4b3" stroke-width="0.7" vector-effect="non-scaling-stroke"/>
<path transform="translate(340.0,147.5) skewY(0.0) scale(9.50,11.38)" d="M0.000,-0.930 C0.010,-0.943 0.020,-0.997 0.060,-1.010 C0.100,-1.023 0.198,-1.023 0.240,-1.010 C0.282,-0.997 0.297,-0.982 0.310,-0.930 C0.323,-0.878 0.302,-0.755 0.320,-0.700 C0.338,-0.645 0.377,-0.627 0.420,-0.600 C0.463,-0.573 0.533,-0.577 0.580,-0.540 C0.627,-0.503 0.653,-0.430 0.700,-0.380 C0.747,-0.330 0.810,-0.283 0.860,-0.240 C0.910,-0.197 0.943,-0.160 1.000,-0.120 C1.057,-0.080 1.167,-0.020 1.200,0.000 C1.167,0.020 1.057,0.080 1.000,0.120 C0.943,0.160 0.910,0.197 0.860,0.240 C0.810,0.283 0.747,0.330 0.700,0.380 C0.653,0.430 0.627,0.503 0.580,0.540 C0.533,0.577 0.463,0.573 0.420,0.600 C0.377,0.627 0.338,0.645 0.320,0.700 C0.302,0.755 0.323,0.878 0.310,0.930 C0.297,0.982 0.282,0.997 0.240,1.010 C0.198,1.023 0.100,1.023 0.060,1.010 C0.020,0.997 0.010,0.943 0.000,0.930 C0.000,0.900 0.002,0.813 0.000,0.750 C-0.002,0.687 -0.005,0.622 -0.010,0.550 C-0.015,0.478 -0.057,0.385 -0.030,0.320 C-0.003,0.255 0.078,0.213 0.150,0.160 C0.222,0.107 0.358,0.027 0.400,0.000 C0.358,-0.027 0.222,-0.107 0.150,-0.160 C0.078,-0.213 -0.003,-0.255 -0.030,-0.320 C-0.057,-0.385 -0.015,-0.478 -0.010,-0.550 C-0.005,-0.622 -0.002,-0.687 0.000,-0.750 C0.002,-0.813 0.000,-0.900 0.000,-0.930 Z" fill="#d94f52" stroke="#f5b4b3" stroke-width="0.7" vector-effect="non-scaling-stroke"/>
<path transform="translate(349.5,147.5) skewY(0.0) scale(9.00,11.80)" d="M0.000,-0.930 C0.010,-0.943 0.020,-0.997 0.060,-1.010 C0.100,-1.023 0.198,-1.023 0.240,-1.010 C0.282,-0.997 0.297,-0.982 0.310,-0.930 C0.323,-0.878 0.302,-0.755 0.320,-0.700 C0.338,-0.645 0.377,-0.627 0.420,-0.600 C0.463,-0.573 0.533,-0.577 0.580,-0.540 C0.627,-0.503 0.653,-0.430 0.700,-0.380 C0.747,-0.330 0.810,-0.283 0.860,-0.240 C0.910,-0.197 0.943,-0.160 1.000,-0.120 C1.057,-0.080 1.167,-0.020 1.200,0.000 C1.167,0.020 1.057,0.080 1.000,0.120 C0.943,0.160 0.910,0.197 0.860,0.240 C0.810,0.283 0.747,0.330 0.700,0.380 C0.653,0.430 0.627,0.503 0.580,0.540 C0.533,0.577 0.463,0.573 0.420,0.600 C0.377,0.627 0.338,0.645 0.320,0.700 C0.302,0.755 0.323,0.878 0.310,0.930 C0.297,0.982 0.282,0.997 0.240,1.010 C0.198,1.023 0.100,1.023 0.060,1.010 C0.020,0.997 0.010,0.943 0.000,0.930 C0.000,0.900 0.002,0.813 0.000,0.750 C-0.002,0.687 -0.005,0.622 -0.010,0.550 C-0.015,0.478 -0.057,0.385 -0.030,0.320 C-0.003,0.255 0.078,0.213 0.150,0.160 C0.222,0.107 0.358,0.027 0.400,0.000 C0.358,-0.027 0.222,-0.107 0.150,-0.160 C0.078,-0.213 -0.003,-0.255 -0.030,-0.320 C-0.057,-0.385 -0.015,-0.478 -0.010,-0.550 C-0.005,-0.622 -0.002,-0.687 0.000,-0.750 C0.002,-0.813 0.000,-0.900 0.000,-0.930 Z" fill="#d94f52" stroke="#f5b4b3" stroke-width="0.7" vector-effect="non-scaling-stroke"/>
<path transform="translate(358.5,147.5) skewY(0.0) scale(9.50,12.14)" d="M0.000,-0.930 C0.010,-0.943 0.020,-0.997 0.060,-1.010 C0.100,-1.023 0.198,-1.023 0.240,-1.010 C0.282,-0.997 0.297,-0.982 0.310,-0.930 C0.323,-0.878 0.302,-0.755 0.320,-0.700 C0.338,-0.645 0.377,-0.627 0.420,-0.600 C0.463,-0.573 0.533,-0.577 0.580,-0.540 C0.627,-0.503 0.653,-0.430 0.700,-0.380 C0.747,-0.330 0.810,-0.283 0.860,-0.240 C0.910,-0.197 0.943,-0.160 1.000,-0.120 C1.057,-0.080 1.167,-0.020 1.200,0.000 C1.167,0.020 1.057,0.080 1.000,0.120 C0.943,0.160 0.910,0.197 0.860,0.240 C0.810,0.283 0.747,0.330 0.700,0.380 C0.653,0.430 0.627,0.503 0.580,0.540 C0.533,0.577 0.463,0.573 0.420,0.600 C0.377,0.627 0.338,0.645 0.320,0.700 C0.302,0.755 0.323,0.878 0.310,0.930 C0.297,0.982 0.282,0.997 0.240,1.010 C0.198,1.023 0.100,1.023 0.060,1.010 C0.020,0.997 0.010,0.943 0.000,0.930 C0.000,0.900 0.002,0.813 0.000,0.750 C-0.002,0.687 -0.005,0.622 -0.010,0.550 C-0.015,0.478 -0.057,0.385 -0.030,0.320 C-0.003,0.255 0.078,0.213 0.150,0.160 C0.222,0.107 0.358,0.027 0.400,0.000 C0.358,-0.027 0.222,-0.107 0.150,-0.160 C0.078,-0.213 -0.003,-0.255 -0.030,-0.320 C-0.057,-0.385 -0.015,-0.478 -0.010,-0.550 C-0.005,-0.622 -0.002,-0.687 0.000,-0.750 C0.002,-0.813 0.000,-0.900 0.000,-0.930 Z" fill="#d94f52" stroke="#f5b4b3" stroke-width="0.7" vector-effect="non-scaling-stroke"/>
<path transform="translate(368.0,147.5) skewY(0.0) scale(10.00,12.50)" d="M0.000,-0.930 C0.010,-0.943 0.020,-0.997 0.060,-1.010 C0.100,-1.023 0.198,-1.023 0.240,-1.010 C0.282,-0.997 0.297,-0.982 0.310,-0.930 C0.323,-0.878 0.302,-0.755 0.320,-0.700 C0.338,-0.645 0.377,-0.627 0.420,-0.600 C0.463,-0.573 0.533,-0.577 0.580,-0.540 C0.627,-0.503 0.653,-0.430 0.700,-0.380 C0.747,-0.330 0.810,-0.283 0.860,-0.240 C0.910,-0.197 0.943,-0.160 1.000,-0.120 C1.057,-0.080 1.167,-0.020 1.200,0.000 C1.167,0.020 1.057,0.080 1.000,0.120 C0.943,0.160 0.910,0.197 0.860,0.240 C0.810,0.283 0.747,0.330 0.700,0.380 C0.653,0.430 0.627,0.503 0.580,0.540 C0.533,0.577 0.463,0.573 0.420,0.600 C0.377,0.627 0.338,0.645 0.320,0.700 C0.302,0.755 0.323,0.878 0.310,0.930 C0.297,0.982 0.282,0.997 0.240,1.010 C0.198,1.023 0.100,1.023 0.060,1.010 C0.020,0.997 0.010,0.943 0.000,0.930 C0.000,0.900 0.002,0.813 0.000,0.750 C-0.002,0.687 -0.005,0.622 -0.010,0.550 C-0.015,0.478 -0.057,0.385 -0.030,0.320 C-0.003,0.255 0.078,0.213 0.150,0.160 C0.222,0.107 0.358,0.027 0.400,0.000 C0.358,-0.027 0.222,-0.107 0.150,-0.160 C0.078,-0.213 -0.003,-0.255 -0.030,-0.320 C-0.057,-0.385 -0.015,-0.478 -0.010,-0.550 C-0.005,-0.622 -0.002,-0.687 0.000,-0.750 C0.002,-0.813 0.000,-0.900 0.000,-0.930 Z" fill="#d94f52" stroke="#f5b4b3" stroke-width="0.7" vector-effect="non-scaling-stroke"/>
<path transform="translate(378.0,147.5) skewY(0.0) scale(10.50,13.23)" d="M0.000,-0.930 C0.010,-0.943 0.020,-0.997 0.060,-1.010 C0.100,-1.023 0.198,-1.023 0.240,-1.010 C0.282,-0.997 0.297,-0.982 0.310,-0.930 C0.323,-0.878 0.302,-0.755 0.320,-0.700 C0.338,-0.645 0.377,-0.627 0.420,-0.600 C0.463,-0.573 0.533,-0.577 0.580,-0.540 C0.627,-0.503 0.653,-0.430 0.700,-0.380 C0.747,-0.330 0.810,-0.283 0.860,-0.240 C0.910,-0.197 0.943,-0.160 1.000,-0.120 C1.057,-0.080 1.167,-0.020 1.200,0.000 C1.167,0.020 1.057,0.080 1.000,0.120 C0.943,0.160 0.910,0.197 0.860,0.240 C0.810,0.283 0.747,0.330 0.700,0.380 C0.653,0.430 0.627,0.503 0.580,0.540 C0.533,0.577 0.463,0.573 0.420,0.600 C0.377,0.627 0.338,0.645 0.320,0.700 C0.302,0.755 0.323,0.878 0.310,0.930 C0.297,0.982 0.282,0.997 0.240,1.010 C0.198,1.023 0.100,1.023 0.060,1.010 C0.020,0.997 0.010,0.943 0.000,0.930 C0.000,0.900 0.002,0.813 0.000,0.750 C-0.002,0.687 -0.005,0.622 -0.010,0.550 C-0.015,0.478 -0.057,0.385 -0.030,0.320 C-0.003,0.255 0.078,0.213 0.150,0.160 C0.222,0.107 0.358,0.027 0.400,0.000 C0.358,-0.027 0.222,-0.107 0.150,-0.160 C0.078,-0.213 -0.003,-0.255 -0.030,-0.320 C-0.057,-0.385 -0.015,-0.478 -0.010,-0.550 C-0.005,-0.622 -0.002,-0.687 0.000,-0.750 C0.002,-0.813 0.000,-0.900 0.000,-0.930 Z" fill="#d94f52" stroke="#f5b4b3" stroke-width="0.7" vector-effect="non-scaling-stroke"/>
<path transform="translate(388.5,147.5) skewY(0.0) scale(10.00,14.00)" d="M0.000,-0.930 C0.010,-0.943 0.020,-0.997 0.060,-1.010 C0.100,-1.023 0.198,-1.023 0.240,-1.010 C0.282,-0.997 0.297,-0.982 0.310,-0.930 C0.323,-0.878 0.302,-0.755 0.320,-0.700 C0.338,-0.645 0.377,-0.627 0.420,-0.600 C0.463,-0.573 0.533,-0.577 0.580,-0.540 C0.627,-0.503 0.653,-0.430 0.700,-0.380 C0.747,-0.330 0.810,-0.283 0.860,-0.240 C0.910,-0.197 0.943,-0.160 1.000,-0.120 C1.057,-0.080 1.167,-0.020 1.200,0.000 C1.167,0.020 1.057,0.080 1.000,0.120 C0.943,0.160 0.910,0.197 0.860,0.240 C0.810,0.283 0.747,0.330 0.700,0.380 C0.653,0.430 0.627,0.503 0.580,0.540 C0.533,0.577 0.463,0.573 0.420,0.600 C0.377,0.627 0.338,0.645 0.320,0.700 C0.302,0.755 0.323,0.878 0.310,0.930 C0.297,0.982 0.282,0.997 0.240,1.010 C0.198,1.023 0.100,1.023 0.060,1.010 C0.020,0.997 0.010,0.943 0.000,0.930 C0.000,0.900 0.002,0.813 0.000,0.750 C-0.002,0.687 -0.005,0.622 -0.010,0.550 C-0.015,0.478 -0.057,0.385 -0.030,0.320 C-0.003,0.255 0.078,0.213 0.150,0.160 C0.222,0.107 0.358,0.027 0.400,0.000 C0.358,-0.027 0.222,-0.107 0.150,-0.160 C0.078,-0.213 -0.003,-0.255 -0.030,-0.320 C-0.057,-0.385 -0.015,-0.478 -0.010,-0.550 C-0.005,-0.622 -0.002,-0.687 0.000,-0.750 C0.002,-0.813 0.000,-0.900 0.000,-0.930 Z" fill="#d94f52" stroke="#f5b4b3" stroke-width="0.7" vector-effect="non-scaling-stroke"/>
<path transform="translate(398.5,147.5) skewY(0.0) scale(11.50,15.57)" d="M0.030,-0.940 C0.045,-0.955 0.072,-1.017 0.120,-1.030 C0.168,-1.043 0.270,-1.038 0.320,-1.020 C0.370,-1.002 0.400,-0.970 0.420,-0.920 C0.440,-0.870 0.423,-0.773 0.440,-0.720 C0.457,-0.667 0.473,-0.630 0.520,-0.600 C0.567,-0.570 0.663,-0.573 0.720,-0.540 C0.777,-0.507 0.822,-0.450 0.860,-0.400 C0.898,-0.350 0.907,-0.288 0.950,-0.240 C0.993,-0.192 1.050,-0.150 1.120,-0.110 C1.190,-0.070 1.328,-0.018 1.370,0.000 C1.328,0.018 1.190,0.070 1.120,0.110 C1.050,0.150 0.993,0.192 0.950,0.240 C0.907,0.288 0.898,0.350 0.860,0.400 C0.822,0.450 0.777,0.507 0.720,0.540 C0.663,0.573 0.567,0.570 0.520,0.600 C0.473,0.630 0.457,0.667 0.440,0.720 C0.423,0.773 0.440,0.870 0.420,0.920 C0.400,0.970 0.370,1.002 0.320,1.020 C0.270,1.038 0.168,1.043 0.120,1.030 C0.072,1.017 0.045,0.955 0.030,0.940 C0.023,0.908 -0.005,0.820 -0.010,0.750 C-0.015,0.680 -0.013,0.595 0.000,0.520 C0.013,0.445 0.030,0.368 0.070,0.300 C0.110,0.232 0.173,0.160 0.240,0.110 C0.307,0.060 0.432,0.018 0.470,0.000 C0.432,-0.018 0.307,-0.060 0.240,-0.110 C0.173,-0.160 0.110,-0.232 0.070,-0.300 C0.030,-0.368 0.013,-0.445 0.000,-0.520 C-0.013,-0.595 -0.015,-0.680 -0.010,-0.750 C-0.005,-0.820 0.023,-0.908 0.030,-0.940 Z" fill="#d94f52" stroke="#f5b4b3" stroke-width="0.7" vector-effect="non-scaling-stroke"/>
<path transform="translate(410.0,147.5) skewY(0.0) scale(13.50,17.05)" d="M0.030,-0.940 C0.045,-0.955 0.072,-1.017 0.120,-1.030 C0.168,-1.043 0.270,-1.038 0.320,-1.020 C0.370,-1.002 0.400,-0.970 0.420,-0.920 C0.440,-0.870 0.423,-0.773 0.440,-0.720 C0.457,-0.667 0.473,-0.630 0.520,-0.600 C0.567,-0.570 0.663,-0.573 0.720,-0.540 C0.777,-0.507 0.822,-0.450 0.860,-0.400 C0.898,-0.350 0.907,-0.288 0.950,-0.240 C0.993,-0.192 1.050,-0.150 1.120,-0.110 C1.190,-0.070 1.328,-0.018 1.370,0.000 C1.328,0.018 1.190,0.070 1.120,0.110 C1.050,0.150 0.993,0.192 0.950,0.240 C0.907,0.288 0.898,0.350 0.860,0.400 C0.822,0.450 0.777,0.507 0.720,0.540 C0.663,0.573 0.567,0.570 0.520,0.600 C0.473,0.630 0.457,0.667 0.440,0.720 C0.423,0.773 0.440,0.870 0.420,0.920 C0.400,0.970 0.370,1.002 0.320,1.020 C0.270,1.038 0.168,1.043 0.120,1.030 C0.072,1.017 0.045,0.955 0.030,0.940 C0.023,0.908 -0.005,0.820 -0.010,0.750 C-0.015,0.680 -0.013,0.595 0.000,0.520 C0.013,0.445 0.030,0.368 0.070,0.300 C0.110,0.232 0.173,0.160 0.240,0.110 C0.307,0.060 0.432,0.018 0.470,0.000 C0.432,-0.018 0.307,-0.060 0.240,-0.110 C0.173,-0.160 0.110,-0.232 0.070,-0.300 C0.030,-0.368 0.013,-0.445 0.000,-0.520 C-0.013,-0.595 -0.015,-0.680 -0.010,-0.750 C-0.005,-0.820 0.023,-0.908 0.030,-0.940 Z" fill="#d94f52" stroke="#f5b4b3" stroke-width="0.7" vector-effect="non-scaling-stroke"/>
<path transform="translate(423.5,147.5) skewY(0.0) scale(13.00,18.38)" d="M0.030,-0.940 C0.045,-0.955 0.072,-1.017 0.120,-1.030 C0.168,-1.043 0.270,-1.038 0.320,-1.020 C0.370,-1.002 0.400,-0.970 0.420,-0.920 C0.440,-0.870 0.423,-0.773 0.440,-0.720 C0.457,-0.667 0.473,-0.630 0.520,-0.600 C0.567,-0.570 0.663,-0.573 0.720,-0.540 C0.777,-0.507 0.822,-0.450 0.860,-0.400 C0.898,-0.350 0.907,-0.288 0.950,-0.240 C0.993,-0.192 1.050,-0.150 1.120,-0.110 C1.190,-0.070 1.328,-0.018 1.370,0.000 C1.328,0.018 1.190,0.070 1.120,0.110 C1.050,0.150 0.993,0.192 0.950,0.240 C0.907,0.288 0.898,0.350 0.860,0.400 C0.822,0.450 0.777,0.507 0.720,0.540 C0.663,0.573 0.567,0.570 0.520,0.600 C0.473,0.630 0.457,0.667 0.440,0.720 C0.423,0.773 0.440,0.870 0.420,0.920 C0.400,0.970 0.370,1.002 0.320,1.020 C0.270,1.038 0.168,1.043 0.120,1.030 C0.072,1.017 0.045,0.955 0.030,0.940 C0.023,0.908 -0.005,0.820 -0.010,0.750 C-0.015,0.680 -0.013,0.595 0.000,0.520 C0.013,0.445 0.030,0.368 0.070,0.300 C0.110,0.232 0.173,0.160 0.240,0.110 C0.307,0.060 0.432,0.018 0.470,0.000 C0.432,-0.018 0.307,-0.060 0.240,-0.110 C0.173,-0.160 0.110,-0.232 0.070,-0.300 C0.030,-0.368 0.013,-0.445 0.000,-0.520 C-0.013,-0.595 -0.015,-0.680 -0.010,-0.750 C-0.005,-0.820 0.023,-0.908 0.030,-0.940 Z" fill="#d94f52" stroke="#f5b4b3" stroke-width="0.7" vector-effect="non-scaling-stroke"/>
<path transform="translate(436.5,147.5) skewY(0.0) scale(12.50,18.50)" d="M0.030,-0.940 C0.045,-0.955 0.072,-1.017 0.120,-1.030 C0.168,-1.043 0.270,-1.038 0.320,-1.020 C0.370,-1.002 0.400,-0.970 0.420,-0.920 C0.440,-0.870 0.423,-0.773 0.440,-0.720 C0.457,-0.667 0.473,-0.630 0.520,-0.600 C0.567,-0.570 0.663,-0.573 0.720,-0.540 C0.777,-0.507 0.822,-0.450 0.860,-0.400 C0.898,-0.350 0.907,-0.288 0.950,-0.240 C0.993,-0.192 1.050,-0.150 1.120,-0.110 C1.190,-0.070 1.328,-0.018 1.370,0.000 C1.328,0.018 1.190,0.070 1.120,0.110 C1.050,0.150 0.993,0.192 0.950,0.240 C0.907,0.288 0.898,0.350 0.860,0.400 C0.822,0.450 0.777,0.507 0.720,0.540 C0.663,0.573 0.567,0.570 0.520,0.600 C0.473,0.630 0.457,0.667 0.440,0.720 C0.423,0.773 0.440,0.870 0.420,0.920 C0.400,0.970 0.370,1.002 0.320,1.020 C0.270,1.038 0.168,1.043 0.120,1.030 C0.072,1.017 0.045,0.955 0.030,0.940 C0.023,0.908 -0.005,0.820 -0.010,0.750 C-0.015,0.680 -0.013,0.595 0.000,0.520 C0.013,0.445 0.030,0.368 0.070,0.300 C0.110,0.232 0.173,0.160 0.240,0.110 C0.307,0.060 0.432,0.018 0.470,0.000 C0.432,-0.018 0.307,-0.060 0.240,-0.110 C0.173,-0.160 0.110,-0.232 0.070,-0.300 C0.030,-0.368 0.013,-0.445 0.000,-0.520 C-0.013,-0.595 -0.015,-0.680 -0.010,-0.750 C-0.005,-0.820 0.023,-0.908 0.030,-0.940 Z" fill="#d94f52" stroke="#f5b4b3" stroke-width="0.7" vector-effect="non-scaling-stroke"/>
<path transform="translate(449.0,147.5) skewY(0.0) scale(13.00,18.20)" d="M0.030,-0.940 C0.045,-0.955 0.072,-1.017 0.120,-1.030 C0.168,-1.043 0.270,-1.038 0.320,-1.020 C0.370,-1.002 0.400,-0.970 0.420,-0.920 C0.440,-0.870 0.423,-0.773 0.440,-0.720 C0.457,-0.667 0.473,-0.630 0.520,-0.600 C0.567,-0.570 0.663,-0.573 0.720,-0.540 C0.777,-0.507 0.822,-0.450 0.860,-0.400 C0.898,-0.350 0.907,-0.288 0.950,-0.240 C0.993,-0.192 1.050,-0.150 1.120,-0.110 C1.190,-0.070 1.328,-0.018 1.370,0.000 C1.328,0.018 1.190,0.070 1.120,0.110 C1.050,0.150 0.993,0.192 0.950,0.240 C0.907,0.288 0.898,0.350 0.860,0.400 C0.822,0.450 0.777,0.507 0.720,0.540 C0.663,0.573 0.567,0.570 0.520,0.600 C0.473,0.630 0.457,0.667 0.440,0.720 C0.423,0.773 0.440,0.870 0.420,0.920 C0.400,0.970 0.370,1.002 0.320,1.020 C0.270,1.038 0.168,1.043 0.120,1.030 C0.072,1.017 0.045,0.955 0.030,0.940 C0.023,0.908 -0.005,0.820 -0.010,0.750 C-0.015,0.680 -0.013,0.595 0.000,0.520 C0.013,0.445 0.030,0.368 0.070,0.300 C0.110,0.232 0.173,0.160 0.240,0.110 C0.307,0.060 0.432,0.018 0.470,0.000 C0.432,-0.018 0.307,-0.060 0.240,-0.110 C0.173,-0.160 0.110,-0.232 0.070,-0.300 C0.030,-0.368 0.013,-0.445 0.000,-0.520 C-0.013,-0.595 -0.015,-0.680 -0.010,-0.750 C-0.005,-0.820 0.023,-0.908 0.030,-0.940 Z" fill="#d94f52" stroke="#f5b4b3" stroke-width="0.7" vector-effect="non-scaling-stroke"/>
<g transform="translate(464.6,147.5) skewY(0.0) scale(41.00,18.20)"><path d="M0.054,0.000 C0.045,-0.041 0.009,-0.153 0.000,-0.245 C-0.009,-0.337 -0.009,-0.453 0.000,-0.550 C0.009,-0.647 0.027,-0.757 0.054,-0.825 C0.081,-0.892 0.121,-0.938 0.161,-0.955 C0.201,-0.972 0.255,-0.947 0.295,-0.925 C0.335,-0.903 0.371,-0.869 0.402,-0.825 C0.433,-0.781 0.456,-0.702 0.483,-0.660 C0.510,-0.618 0.536,-0.609 0.563,-0.575 C0.590,-0.541 0.619,-0.499 0.644,-0.455 C0.669,-0.411 0.691,-0.351 0.711,-0.310 C0.731,-0.269 0.749,-0.250 0.765,-0.210 C0.781,-0.170 0.796,-0.105 0.805,-0.070 C0.814,-0.035 0.818,-0.012 0.820,0.000 C0.818,0.012 0.814,0.035 0.805,0.070 C0.796,0.105 0.781,0.170 0.765,0.210 C0.749,0.250 0.731,0.269 0.711,0.310 C0.691,0.351 0.669,0.411 0.644,0.455 C0.619,0.499 0.590,0.541 0.563,0.575 C0.536,0.609 0.510,0.618 0.483,0.660 C0.456,0.702 0.433,0.781 0.402,0.825 C0.371,0.869 0.335,0.903 0.295,0.925 C0.255,0.947 0.201,0.972 0.161,0.955 C0.121,0.938 0.081,0.892 0.054,0.825 C0.027,0.757 0.009,0.647 0.000,0.550 C-0.009,0.453 -0.009,0.337 0.000,0.245 C0.009,0.153 0.045,0.041 0.054,0.000 Z" fill="#d94f52"/><path d="M0.835,-0.15 L0.895,-0.13 L0.895,0.13 L0.835,0.15 Z M0.925,-0.085 L0.962,-0.055 L0.962,0.055 L0.925,0.085 Z M0.975,-0.035 L0.995,0 L0.975,0.035 Z" fill="#d94f52"/><ellipse cx="0.241" cy="-0.370" rx="0.046" ry="0.145" fill="#fbeaf0"/><ellipse cx="0.241" cy="0.370" rx="0.046" ry="0.145" fill="#fbeaf0"/><ellipse cx="0.389" cy="-0.340" rx="0.044" ry="0.130" fill="#fbeaf0"/><ellipse cx="0.389" cy="0.340" rx="0.044" ry="0.130" fill="#fbeaf0"/><ellipse cx="0.523" cy="-0.220" rx="0.036" ry="0.100" fill="#fbeaf0"/><ellipse cx="0.523" cy="0.220" rx="0.036" ry="0.100" fill="#fbeaf0"/><ellipse cx="0.644" cy="-0.155" rx="0.025" ry="0.068" fill="#fbeaf0"/><ellipse cx="0.644" cy="0.155" rx="0.025" ry="0.068" fill="#fbeaf0"/></g>
<line x1="112.6" y1="102.8" x2="136.9" y2="141.6" stroke="#1a1a1a" stroke-width="1.5"/>
<clipPath id="f2mat"><path d="M94.3,510.0 Q94.3,495.0 109.3,495.0 L110.0,495.0 C240.1,495.0 760.4,495.0 890.5,495.0 L891.0,495.0 Q906.0,495.0 906.0,510.0 L906.0,570.0 Q906.0,585.0 891.0,585.0 L109.3,585.0 Q94.3,585.0 94.3,570.0 Z"/></clipPath>
<path d="M94.3,510.0 Q94.3,495.0 109.3,495.0 L110.0,495.0 C240.1,495.0 760.4,495.0 890.5,495.0 L891.0,495.0 Q906.0,495.0 906.0,510.0 L906.0,570.0 Q906.0,585.0 891.0,585.0 L109.3,585.0 Q94.3,585.0 94.3,570.0 Z" fill="#e4f3fc"/>
<path d="M92.3,455.0 L908.0,455.0 L908.0,526.0 L910.0,526.0 C909.2,524.0 907.3,516.9 905.0,514.0 C902.7,511.1 905.2,509.6 896.0,508.6 C886.8,507.6 974.3,508.1 850.0,508.0 C725.7,507.9 274.3,507.9 150.0,508.0 C25.7,508.1 113.2,507.6 104.0,508.6 C94.8,509.6 97.3,511.1 95.0,514.0 C92.7,516.9 90.8,524.0 90.0,526.0 L92.3,526.0 Z" fill="#b7dcee" clip-path="url(#f2mat)"/>
<path d="M94.3,510.0 Q94.3,495.0 109.3,495.0 L110.0,495.0 C240.1,495.0 760.4,495.0 890.5,495.0 L891.0,495.0 Q906.0,495.0 906.0,510.0 L906.0,570.0 Q906.0,585.0 891.0,585.0 L109.3,585.0 Q94.3,585.0 94.3,570.0 Z" fill="none" stroke="#50616d" stroke-width="1.25"/>
<path d="M740.0,431.0 C743.0,432.3 752.1,436.6 757.9,438.8 C763.7,441.0 769.1,442.8 775.0,444.2 C780.9,445.6 787.6,446.9 793.0,447.4 C798.4,447.8 802.9,446.7 807.4,446.9 C811.9,447.1 814.9,447.6 820.0,448.7 C825.1,449.8 832.6,452.0 838.0,453.2 C843.4,454.4 848.7,455.0 852.4,455.9 C856.1,456.8 858.7,458.1 860.0,458.5 C859.7,459.4 868.0,462.8 858.0,464.0 C848.0,465.2 819.7,466.7 800.0,466.0 C780.3,465.3 750.0,461.0 740.0,460.0 Z" fill="#fcddd3" stroke="#932f30" stroke-width="1.35" stroke-linejoin="round"/>
<path d="M750.0,458.0 C752.1,458.2 756.7,459.2 762.4,459.5 C768.1,459.8 775.9,459.5 784.0,459.5 C792.1,459.5 802.0,459.6 811.0,459.5 C820.0,459.4 830.5,459.0 838.0,458.6 C845.5,458.2 850.6,457.5 856.0,457.2 C861.4,456.9 866.8,456.8 870.4,456.8 C874.0,456.8 876.4,457.1 877.6,457.2 C878.2,457.5 880.3,458.2 881.0,459.0 C881.7,459.8 881.7,460.8 881.7,462.0 C881.7,463.2 881.2,464.9 880.8,466.0 C880.3,467.1 879.3,468.1 879.0,468.5 C879.2,468.9 880.2,470.1 880.3,471.0 C880.4,471.9 880.2,473.0 879.6,474.0 C879.0,475.0 877.2,476.5 876.7,477.0 C876.9,477.4 878.0,478.7 878.0,479.5 C878.0,480.3 877.7,481.3 877.0,482.0 C876.3,482.7 874.5,483.5 874.0,483.8 C874.2,484.2 875.3,485.2 875.3,486.0 C875.3,486.8 874.7,487.8 874.0,488.5 C873.3,489.2 871.8,489.8 871.3,490.1 C871.4,490.4 872.3,491.4 872.0,492.0 C871.7,492.6 870.7,493.4 869.5,493.8 C868.3,494.2 865.8,494.3 865.0,494.4 L799.0,494.4 C798.5,494.1 797.0,493.3 796.0,492.8 C795.0,492.3 795.5,492.0 793.2,491.6 C790.9,491.2 786.7,490.8 782.0,490.4 C777.3,490.0 770.3,489.3 765.0,489.4 C759.7,489.5 752.5,490.7 750.0,491.0 Z" fill="#fcddd3" stroke="#932f30" stroke-width="1.35" stroke-linejoin="round"/>
<path d="M759.0,449.0 C764.2,449.8 779.8,453.2 790.0,454.0 C800.2,454.8 810.8,453.4 820.0,454.0 C829.2,454.6 839.0,456.8 845.0,457.5 C851.0,458.2 857.2,457.7 856.0,458.0 C854.8,458.3 845.5,458.9 838.0,459.3 C830.5,459.7 820.0,460.1 811.0,460.2 C802.0,460.3 792.5,460.2 784.0,460.2 C775.5,460.2 764.0,460.0 760.0,460.0 Z" fill="#f4c4b5" opacity="0.6"/>
<clipPath id="f2ft"><path d="M750.0,458.0 C752.1,458.2 756.7,459.2 762.4,459.5 C768.1,459.8 775.9,459.5 784.0,459.5 C792.1,459.5 802.0,459.6 811.0,459.5 C820.0,459.4 830.5,459.0 838.0,458.6 C845.5,458.2 850.6,457.5 856.0,457.2 C861.4,456.9 866.8,456.8 870.4,456.8 C874.0,456.8 876.4,457.1 877.6,457.2 C878.2,457.5 880.3,458.2 881.0,459.0 C881.7,459.8 881.7,460.8 881.7,462.0 C881.7,463.2 881.2,464.9 880.8,466.0 C880.3,467.1 879.3,468.1 879.0,468.5 C879.2,468.9 880.2,470.1 880.3,471.0 C880.4,471.9 880.2,473.0 879.6,474.0 C879.0,475.0 877.2,476.5 876.7,477.0 C876.9,477.4 878.0,478.7 878.0,479.5 C878.0,480.3 877.7,481.3 877.0,482.0 C876.3,482.7 874.5,483.5 874.0,483.8 C874.2,484.2 875.3,485.2 875.3,486.0 C875.3,486.8 874.7,487.8 874.0,488.5 C873.3,489.2 871.8,489.8 871.3,490.1 C871.4,490.4 872.3,491.4 872.0,492.0 C871.7,492.6 870.7,493.4 869.5,493.8 C868.3,494.2 865.8,494.3 865.0,494.4 L799.0,494.4 C798.5,494.1 797.0,493.3 796.0,492.8 C795.0,492.3 795.5,492.0 793.2,491.6 C790.9,491.2 786.7,490.8 782.0,490.4 C777.3,490.0 770.3,489.3 765.0,489.4 C759.7,489.5 752.5,490.7 750.0,491.0 Z"/></clipPath>
<path d="M760.0,476.0 C763.3,476.0 774.5,476.2 780.0,476.0 C785.5,475.8 787.8,475.8 793.0,475.0 C798.2,474.2 804.7,471.9 811.0,471.0 C817.3,470.1 823.9,470.8 830.8,469.5 C837.7,468.2 846.5,464.7 852.4,463.0 C858.3,461.3 860.6,460.3 866.0,459.5 C871.4,458.7 881.8,458.2 885.0,458.0 L885.0,500.0 L760.0,500.0 Z" fill="#f4c4b5" opacity="0.6" clip-path="url(#f2ft)"/>
<path d="M750.0,458.0 C752.1,458.2 756.7,459.2 762.4,459.5 C768.1,459.8 775.9,459.5 784.0,459.5 C792.1,459.5 802.0,459.6 811.0,459.5 C820.0,459.4 830.5,459.0 838.0,458.6 C845.5,458.2 850.6,457.5 856.0,457.2 C861.4,456.9 866.8,456.8 870.4,456.8 C874.0,456.8 876.4,457.1 877.6,457.2 C878.2,457.5 880.3,458.2 881.0,459.0 C881.7,459.8 881.7,460.8 881.7,462.0 C881.7,463.2 881.2,464.9 880.8,466.0 C880.3,467.1 879.3,468.1 879.0,468.5 C879.2,468.9 880.2,470.1 880.3,471.0 C880.4,471.9 880.2,473.0 879.6,474.0 C879.0,475.0 877.2,476.5 876.7,477.0 C876.9,477.4 878.0,478.7 878.0,479.5 C878.0,480.3 877.7,481.3 877.0,482.0 C876.3,482.7 874.5,483.5 874.0,483.8 C874.2,484.2 875.3,485.2 875.3,486.0 C875.3,486.8 874.7,487.8 874.0,488.5 C873.3,489.2 871.8,489.8 871.3,490.1 C871.4,490.4 872.3,491.4 872.0,492.0 C871.7,492.6 870.7,493.4 869.5,493.8 C868.3,494.2 865.8,494.3 865.0,494.4 L799.0,494.4 C798.5,494.1 797.0,493.3 796.0,492.8 C795.0,492.3 795.5,492.0 793.2,491.6 C790.9,491.2 786.7,490.8 782.0,490.4 C777.3,490.0 770.3,489.3 765.0,489.4 C759.7,489.5 752.5,490.7 750.0,491.0 Z" fill="none" stroke="#932f30" stroke-width="1.35" stroke-linejoin="round"/>
<path d="M869.4,463.0 C869.3,464.2 869.2,467.6 868.8,470.2 C868.4,472.8 867.8,475.9 867.0,478.6 C866.2,481.3 864.9,484.4 864.0,486.4 C863.1,488.4 862.0,489.9 861.6,490.6" fill="none" stroke="#932f30" stroke-width="1.0" stroke-linecap="round"/>
<path d="M790.0,481.2 C790.2,481.8 790.9,483.7 791.5,485.0 C792.1,486.3 792.8,487.8 793.5,489.0 C794.2,490.2 795.2,491.6 796.0,492.5 C796.8,493.4 798.1,494.1 798.5,494.4" fill="none" stroke="#932f30" stroke-width="1.25" stroke-linecap="round"/>
<path d="M828.5,485.5 C828.4,486.2 828.5,488.6 828.0,490.0 C827.5,491.4 825.8,493.2 825.4,493.8" fill="none" stroke="#b5824d" stroke-width="1.3" stroke-linecap="round"/>
<path d="M879.0,468.5 L869.3,468.4" fill="none" stroke="#932f30" stroke-width="1.1" stroke-linecap="round"/>
<path d="M876.7,477.0 L868.0,474.5" fill="none" stroke="#932f30" stroke-width="1.1" stroke-linecap="round"/>
<path d="M874.0,483.8 L866.0,481.0" fill="none" stroke="#932f30" stroke-width="1.1" stroke-linecap="round"/>
<path d="M871.3,490.1 L863.5,487.0" fill="none" stroke="#932f30" stroke-width="1.1" stroke-linecap="round"/>
<path d="M238.0,424.5 C238.6,424.2 239.7,423.2 241.5,422.8 C243.3,422.4 246.4,422.6 249.0,422.0 C251.6,421.4 254.7,420.2 257.0,419.0 C259.3,417.8 261.2,416.5 263.0,415.0 C264.8,413.5 266.3,412.2 267.8,410.0 C269.3,407.8 270.8,404.7 272.0,402.0 C273.2,399.3 274.1,396.8 275.0,394.0 C275.9,391.2 276.8,388.0 277.5,385.0 C278.2,382.0 278.6,378.7 279.5,376.0 C280.4,373.3 281.6,371.1 283.0,369.0 C284.4,366.9 285.8,365.1 287.6,363.4 C289.4,361.6 291.6,359.9 294.0,358.5 C296.4,357.1 298.3,356.1 302.0,355.3 C305.7,354.5 310.4,353.4 316.4,353.5 C322.4,353.6 330.4,354.9 338.0,356.2 C345.6,357.4 355.0,359.6 362.0,361.0 C369.0,362.4 373.8,363.1 380.0,364.7 C386.2,366.3 392.7,368.3 399.0,370.4 C405.3,372.4 413.2,375.2 418.0,377.0 C422.8,378.8 425.2,379.6 427.5,380.9 C429.8,382.2 431.0,384.1 431.7,384.7 C431.7,385.2 432.8,387.0 431.5,388.0 C430.2,389.0 427.5,389.7 423.7,390.6 C419.9,391.5 414.2,393.1 408.5,393.2 C402.8,393.3 395.2,392.2 389.5,391.3 C383.8,390.4 379.6,389.1 374.0,387.7 C368.4,386.3 361.3,384.4 356.0,383.2 C350.7,382.0 345.0,381.0 342.0,380.5 C339.0,380.0 338.7,380.1 338.0,380.0 L340.0,494.8 C336.7,494.8 326.7,494.8 320.0,494.8 C313.3,494.8 304.8,494.7 300.0,494.6 C295.2,494.5 293.9,494.9 291.2,494.0 C288.5,493.1 286.1,491.4 284.0,489.4 C281.9,487.4 280.1,484.4 278.6,482.0 C277.1,479.6 275.6,476.2 275.0,475.0 Z" fill="#fcddd3" stroke="#932f30" stroke-width="1.35" stroke-linejoin="round"/>
<path d="M318.0,376.5 C322.0,376.4 334.2,375.6 342.0,376.0 C349.8,376.4 357.0,377.5 365.0,379.0 C373.0,380.5 382.5,383.2 390.0,385.0 C397.5,386.8 404.0,388.8 410.0,389.5 C416.0,390.2 423.7,389.4 426.0,389.5 C428.3,389.6 426.6,389.5 423.7,390.0 C420.8,390.5 414.2,392.4 408.5,392.5 C402.8,392.6 395.2,391.5 389.5,390.6 C383.8,389.7 379.6,388.4 374.0,387.0 C368.4,385.6 363.5,384.0 356.0,382.5 C348.5,381.0 333.5,378.8 329.0,378.0 Z" fill="#f3c2b3"/>
<path d="M278.6,383.2 C281.0,384.1 287.6,387.2 293.0,388.6 C298.4,390.0 304.7,390.9 311.0,391.3 C317.3,391.8 327.7,391.3 331.0,391.3 L331.5,396.2 C328.1,396.1 317.4,396.3 311.0,395.8 C304.6,395.3 298.2,394.5 293.0,393.0 C287.8,391.5 281.8,387.8 279.5,386.8 Z" fill="#fbc6c4" stroke="#932f30" stroke-width="1.2" stroke-linejoin="round"/>
<path d="M289.4,490.3 C293.0,490.1 303.3,490.1 311.0,489.4 C318.7,488.6 331.4,486.4 335.5,485.8 L336.0,490.8 C332.7,491.2 322.7,492.4 316.4,493.0 C310.1,493.6 301.4,494.2 298.4,494.4 Z" fill="#fbc6c4" stroke="#932f30" stroke-width="1.2" stroke-linejoin="round"/>
<clipPath id="f2pan"><path d="M329.0,378.7 C331.2,379.0 337.5,379.8 342.0,380.5 C346.5,381.2 350.7,382.0 356.0,383.2 C361.3,384.4 368.4,386.3 374.0,387.7 C379.6,389.1 383.8,390.4 389.5,391.3 C395.2,392.2 402.8,393.3 408.5,393.2 C414.2,393.1 419.9,391.5 423.7,390.6 C427.5,389.7 430.2,388.4 431.5,388.0 C433.4,386.7 438.8,382.6 442.7,380.0 C446.6,377.4 452.9,373.8 455.0,372.5 C455.5,376.2 457.3,386.2 458.0,395.0 C458.7,403.8 459.3,415.0 459.3,425.0 C459.3,435.0 458.9,446.2 458.0,455.0 C457.1,463.8 455.4,471.4 454.0,478.0 C452.6,484.6 450.2,492.0 449.4,494.8 L438.4,494.8 C436.7,494.2 431.9,492.8 428.0,491.5 C424.1,490.2 419.7,488.2 415.0,487.2 C410.3,486.1 405.0,485.2 400.0,485.2 C395.0,485.2 389.7,486.1 385.0,487.2 C380.3,488.2 375.7,490.2 372.0,491.5 C368.3,492.8 364.3,494.2 362.8,494.8 L336.2,494.8 C336.1,490.0 335.9,478.3 335.3,466.0 C334.7,453.7 333.7,435.6 332.6,421.0 C331.6,406.4 329.6,385.8 329.0,378.7 Z"/></clipPath>
<path d="M329.0,378.7 C331.2,379.0 337.5,379.8 342.0,380.5 C346.5,381.2 350.7,382.0 356.0,383.2 C361.3,384.4 368.4,386.3 374.0,387.7 C379.6,389.1 383.8,390.4 389.5,391.3 C395.2,392.2 402.8,393.3 408.5,393.2 C414.2,393.1 419.9,391.5 423.7,390.6 C427.5,389.7 430.2,388.4 431.5,388.0 C433.4,386.7 438.8,382.6 442.7,380.0 C446.6,377.4 452.9,373.8 455.0,372.5 C455.5,376.2 457.3,386.2 458.0,395.0 C458.7,403.8 459.3,415.0 459.3,425.0 C459.3,435.0 458.9,446.2 458.0,455.0 C457.1,463.8 455.4,471.4 454.0,478.0 C452.6,484.6 450.2,492.0 449.4,494.8 L438.4,494.8 C436.7,494.2 431.9,492.8 428.0,491.5 C424.1,490.2 419.7,488.2 415.0,487.2 C410.3,486.1 405.0,485.2 400.0,485.2 C395.0,485.2 389.7,486.1 385.0,487.2 C380.3,488.2 375.7,490.2 372.0,491.5 C368.3,492.8 364.3,494.2 362.8,494.8 L336.2,494.8 C336.1,490.0 335.9,478.3 335.3,466.0 C334.7,453.7 333.7,435.6 332.6,421.0 C331.6,406.4 329.6,385.8 329.0,378.7 Z" fill="#fcc9c8"/>
<path d="M326.0,474.0 C327.7,473.9 331.2,473.9 336.2,473.2 C341.2,472.4 349.4,470.6 356.0,469.5 C362.6,468.4 366.7,467.2 376.0,466.6 C385.3,466.0 402.2,465.6 412.0,466.0 C421.8,466.4 429.0,468.0 435.0,469.0 C441.0,470.0 443.0,470.7 448.0,472.0 C453.0,473.3 462.2,476.2 465.0,477.0 L465.0,557.0 L326.0,554.0 Z" fill="#f9afaf" clip-path="url(#f2pan)"/>
<path d="M329.0,378.7 C331.2,379.0 337.5,379.8 342.0,380.5 C346.5,381.2 350.7,382.0 356.0,383.2 C361.3,384.4 368.4,386.3 374.0,387.7 C379.6,389.1 383.8,390.4 389.5,391.3 C395.2,392.2 402.8,393.3 408.5,393.2 C414.2,393.1 419.9,391.5 423.7,390.6 C427.5,389.7 430.2,388.4 431.5,388.0 C433.4,386.7 438.8,382.6 442.7,380.0 C446.6,377.4 452.9,373.8 455.0,372.5 C455.5,376.2 457.3,386.2 458.0,395.0 C458.7,403.8 459.3,415.0 459.3,425.0 C459.3,435.0 458.9,446.2 458.0,455.0 C457.1,463.8 455.4,471.4 454.0,478.0 C452.6,484.6 450.2,492.0 449.4,494.8 L438.4,494.8 C436.7,494.2 431.9,492.8 428.0,491.5 C424.1,490.2 419.7,488.2 415.0,487.2 C410.3,486.1 405.0,485.2 400.0,485.2 C395.0,485.2 389.7,486.1 385.0,487.2 C380.3,488.2 375.7,490.2 372.0,491.5 C368.3,492.8 364.3,494.2 362.8,494.8 L336.2,494.8 C336.1,490.0 335.9,478.3 335.3,466.0 C334.7,453.7 333.7,435.6 332.6,421.0 C331.6,406.4 329.6,385.8 329.0,378.7 Z" fill="none" stroke="#932f30" stroke-width="1.35" stroke-linejoin="round"/>
<path d="M317.0,376.8 C317.8,377.0 320.0,377.6 322.0,377.9 C324.0,378.2 327.8,378.6 329.0,378.7" fill="none" stroke="#932f30" stroke-width="1.35" stroke-linecap="round"/>
<clipPath id="f2pt"><path d="M455.0,372.5 C457.4,371.5 464.1,368.0 469.4,366.6 C474.6,365.2 480.8,364.7 486.5,364.3 C492.2,363.9 497.6,363.9 503.6,364.3 C509.6,364.7 516.3,365.6 522.6,366.6 C528.9,367.6 537.0,369.2 541.6,370.4 C546.2,371.6 545.6,372.1 550.0,373.6 C554.4,375.1 562.0,377.4 568.0,379.5 C574.0,381.6 580.0,383.9 586.0,386.2 C592.0,388.5 598.0,391.1 604.0,393.5 C610.0,395.9 616.0,398.4 622.0,400.6 C628.0,402.8 634.0,405.5 640.0,406.9 C646.0,408.2 652.0,408.2 658.0,408.7 C664.0,409.1 670.0,408.9 676.0,409.6 C682.0,410.4 688.0,411.7 694.0,413.2 C700.0,414.7 706.0,416.4 712.0,418.6 C718.0,420.8 724.5,424.1 730.0,426.5 C735.5,428.9 740.4,430.9 745.0,433.0 C749.6,435.1 755.8,437.8 757.9,438.8 L758.4,457.2 L762.4,459.5 C762.8,462.1 764.1,470.1 764.5,475.0 C764.9,479.9 764.9,486.8 765.0,489.2 C762.2,489.5 753.8,490.4 748.0,491.0 C742.2,491.6 735.5,492.1 730.0,492.6 C724.5,493.1 719.5,493.6 715.0,494.0 C710.5,494.4 705.0,494.7 703.0,494.8 L658.0,494.8 C655.8,494.6 649.7,494.1 645.0,493.5 C640.3,492.9 635.9,491.9 630.0,491.3 C624.1,490.7 615.7,489.7 609.4,489.7 C603.1,489.7 596.6,490.7 592.0,491.3 C587.4,491.9 584.8,492.9 582.0,493.5 C579.2,494.1 576.2,494.6 575.0,494.8 L449.4,494.8 C450.2,492.0 452.6,484.6 454.0,478.0 C455.4,471.4 457.1,463.8 458.0,455.0 C458.9,446.2 459.3,435.0 459.3,425.0 C459.3,415.0 458.7,403.8 458.0,395.0 C457.3,386.2 455.5,376.2 455.0,372.5 Z"/></clipPath>
<path d="M455.0,372.5 C457.4,371.5 464.1,368.0 469.4,366.6 C474.6,365.2 480.8,364.7 486.5,364.3 C492.2,363.9 497.6,363.9 503.6,364.3 C509.6,364.7 516.3,365.6 522.6,366.6 C528.9,367.6 537.0,369.2 541.6,370.4 C546.2,371.6 545.6,372.1 550.0,373.6 C554.4,375.1 562.0,377.4 568.0,379.5 C574.0,381.6 580.0,383.9 586.0,386.2 C592.0,388.5 598.0,391.1 604.0,393.5 C610.0,395.9 616.0,398.4 622.0,400.6 C628.0,402.8 634.0,405.5 640.0,406.9 C646.0,408.2 652.0,408.2 658.0,408.7 C664.0,409.1 670.0,408.9 676.0,409.6 C682.0,410.4 688.0,411.7 694.0,413.2 C700.0,414.7 706.0,416.4 712.0,418.6 C718.0,420.8 724.5,424.1 730.0,426.5 C735.5,428.9 740.4,430.9 745.0,433.0 C749.6,435.1 755.8,437.8 757.9,438.8 L758.4,457.2 L762.4,459.5 C762.8,462.1 764.1,470.1 764.5,475.0 C764.9,479.9 764.9,486.8 765.0,489.2 C762.2,489.5 753.8,490.4 748.0,491.0 C742.2,491.6 735.5,492.1 730.0,492.6 C724.5,493.1 719.5,493.6 715.0,494.0 C710.5,494.4 705.0,494.7 703.0,494.8 L658.0,494.8 C655.8,494.6 649.7,494.1 645.0,493.5 C640.3,492.9 635.9,491.9 630.0,491.3 C624.1,490.7 615.7,489.7 609.4,489.7 C603.1,489.7 596.6,490.7 592.0,491.3 C587.4,491.9 584.8,492.9 582.0,493.5 C579.2,494.1 576.2,494.6 575.0,494.8 L449.4,494.8 C450.2,492.0 452.6,484.6 454.0,478.0 C455.4,471.4 457.1,463.8 458.0,455.0 C458.9,446.2 459.3,435.0 459.3,425.0 C459.3,415.0 458.7,403.8 458.0,395.0 C457.3,386.2 455.5,376.2 455.0,372.5 Z" fill="#e6d5f3"/>
<path d="M449.0,473.0 C450.2,473.0 451.7,472.7 456.0,473.0 C460.3,473.3 468.0,475.0 475.0,475.0 C482.0,475.0 491.7,474.6 498.0,473.0 C504.3,471.4 509.2,468.7 513.0,465.5 C516.8,462.3 518.8,458.1 520.7,454.0 C522.6,449.9 523.4,444.5 524.5,440.8 C525.6,437.1 526.5,434.9 527.5,432.0 C528.5,429.1 529.4,426.7 530.2,423.7 C531.0,420.7 531.7,417.2 532.3,414.0 C532.9,410.8 533.5,407.4 534.0,404.6 C534.5,401.9 535.0,399.6 535.5,397.5 C536.0,395.4 536.2,393.6 536.8,392.3 C537.4,391.1 538.2,390.4 539.0,390.0 C539.8,389.6 540.4,389.6 541.6,390.0 C542.8,390.4 544.6,391.3 546.0,392.5 C547.4,393.7 548.2,394.6 550.0,397.0 C551.8,399.4 554.5,404.9 557.0,407.0 C559.5,409.1 561.7,408.9 565.0,409.5 C568.3,410.1 570.5,409.6 577.0,410.5 C583.5,411.4 595.0,413.2 604.0,415.0 C613.0,416.8 624.4,420.0 631.0,421.3 C637.6,422.6 639.1,423.0 643.6,423.0 C648.1,423.0 652.6,421.4 658.0,421.3 C663.4,421.2 670.0,421.4 676.0,422.2 C682.0,422.9 688.0,424.3 694.0,425.8 C700.0,427.3 706.0,429.1 712.0,431.2 C718.0,433.3 723.7,435.9 730.0,438.4 C736.3,440.9 744.2,444.0 750.0,446.0 C755.8,448.0 762.5,449.8 765.0,450.5 L775.0,450.5 L775.0,510.0 L440.0,510.0 Z" fill="#cbbdeb" clip-path="url(#f2pt)"/>
<path d="M596.0,441.3 C596.7,441.5 597.2,441.6 600.0,442.3 C602.8,443.0 607.8,444.8 613.0,445.6 C618.2,446.5 623.5,447.2 631.0,447.4 C638.5,447.6 650.5,447.1 658.0,447.0 C665.5,446.9 668.5,446.1 676.0,446.5 C683.5,446.9 694.0,448.0 703.0,449.2 C712.0,450.4 722.2,452.2 730.0,453.5 C737.8,454.8 744.6,456.0 750.0,457.0 C755.4,458.0 760.3,459.1 762.4,459.5 L764.0,472.0 C761.7,471.0 755.7,467.7 750.0,466.0 C744.3,464.3 737.8,463.2 730.0,461.8 C722.2,460.4 712.0,458.5 703.0,457.3 C694.0,456.1 686.5,455.1 676.0,454.6 C665.5,454.2 649.0,455.2 640.0,454.6 C631.0,454.0 629.3,453.2 622.0,451.0 C614.7,448.8 600.3,442.9 596.0,441.3 Z" fill="#e6d5f3" clip-path="url(#f2pt)"/>
<path d="M455.0,372.5 C457.4,371.5 464.1,368.0 469.4,366.6 C474.6,365.2 480.8,364.7 486.5,364.3 C492.2,363.9 497.6,363.9 503.6,364.3 C509.6,364.7 516.3,365.6 522.6,366.6 C528.9,367.6 537.0,369.2 541.6,370.4 C546.2,371.6 545.6,372.1 550.0,373.6 C554.4,375.1 562.0,377.4 568.0,379.5 C574.0,381.6 580.0,383.9 586.0,386.2 C592.0,388.5 598.0,391.1 604.0,393.5 C610.0,395.9 616.0,398.4 622.0,400.6 C628.0,402.8 634.0,405.5 640.0,406.9 C646.0,408.2 652.0,408.2 658.0,408.7 C664.0,409.1 670.0,408.9 676.0,409.6 C682.0,410.4 688.0,411.7 694.0,413.2 C700.0,414.7 706.0,416.4 712.0,418.6 C718.0,420.8 724.5,424.1 730.0,426.5 C735.5,428.9 740.4,430.9 745.0,433.0 C749.6,435.1 755.8,437.8 757.9,438.8 L758.4,457.2 L762.4,459.5 C762.8,462.1 764.1,470.1 764.5,475.0 C764.9,479.9 764.9,486.8 765.0,489.2 C762.2,489.5 753.8,490.4 748.0,491.0 C742.2,491.6 735.5,492.1 730.0,492.6 C724.5,493.1 719.5,493.6 715.0,494.0 C710.5,494.4 705.0,494.7 703.0,494.8 L658.0,494.8 C655.8,494.6 649.7,494.1 645.0,493.5 C640.3,492.9 635.9,491.9 630.0,491.3 C624.1,490.7 615.7,489.7 609.4,489.7 C603.1,489.7 596.6,490.7 592.0,491.3 C587.4,491.9 584.8,492.9 582.0,493.5 C579.2,494.1 576.2,494.6 575.0,494.8 L449.4,494.8 C450.2,492.0 452.6,484.6 454.0,478.0 C455.4,471.4 457.1,463.8 458.0,455.0 C458.9,446.2 459.3,435.0 459.3,425.0 C459.3,415.0 458.7,403.8 458.0,395.0 C457.3,386.2 455.5,376.2 455.0,372.5 Z" fill="none" stroke="#932f30" stroke-width="1.35" stroke-linejoin="round"/>
<path d="M530.2,436.0 C531.8,436.0 536.7,436.1 540.0,436.2 C543.3,436.3 545.0,436.3 550.0,436.6 C555.0,436.9 564.0,437.6 570.0,438.0 C576.0,438.4 581.0,438.6 586.0,439.3 C591.0,440.0 595.5,441.2 600.0,442.3 C604.5,443.4 607.8,444.8 613.0,445.6 C618.2,446.5 623.5,447.2 631.0,447.4 C638.5,447.6 650.5,447.1 658.0,447.0 C665.5,446.9 668.5,446.1 676.0,446.5 C683.5,446.9 694.0,448.0 703.0,449.2 C712.0,450.4 722.2,452.2 730.0,453.5 C737.8,454.8 744.6,456.0 750.0,457.0 C755.4,458.0 760.3,459.1 762.4,459.5" fill="none" stroke="#932f30" stroke-width="1.35" stroke-linecap="round" stroke-linejoin="round"/>
<path d="M540.6,400.8 C540.3,403.3 539.6,411.6 538.7,416.0 C537.8,420.4 536.4,424.1 535.0,427.4 C533.6,430.7 531.0,434.6 530.2,436.0 C531.5,437.8 535.6,442.9 537.8,446.5 C540.0,450.1 541.8,454.1 543.5,457.9 C545.2,461.7 547.4,467.4 548.2,469.3" fill="none" stroke="#932f30" stroke-width="1.35" stroke-linecap="round" stroke-linejoin="round"/>
<clipPath id="f2hd"><path d="M273.8,480.6 C271.5,480.8 267.3,481.6 260.0,482.0 C252.7,482.4 240.0,483.0 230.0,483.0 C220.0,483.0 208.3,482.8 200.0,482.0 C191.7,481.2 185.2,480.9 180.0,478.0 C174.8,475.1 170.9,469.1 168.5,464.4 C166.1,459.7 165.8,454.3 165.8,449.6 C165.8,444.9 167.4,439.4 168.5,436.0 C169.6,432.6 170.9,431.5 172.5,429.5 C174.1,427.5 175.9,425.7 178.0,424.0 C180.1,422.3 182.5,420.7 185.0,419.3 C187.5,417.9 190.2,416.7 192.8,415.8 C195.4,414.9 197.8,414.3 200.5,413.8 C203.2,413.3 206.2,412.9 209.0,413.0 C211.8,413.1 214.3,413.6 217.0,414.2 C219.7,414.8 221.6,415.1 225.2,416.5 C228.8,417.9 233.7,419.9 238.7,422.5 C243.7,425.1 251.0,429.5 255.0,432.0 C259.0,434.5 260.0,435.5 262.5,437.5 C265.0,439.5 267.8,441.9 269.8,444.0 C271.8,446.1 273.1,447.9 274.5,450.0 C275.9,452.1 277.1,454.2 277.9,456.3 C278.6,458.4 278.9,460.5 279.0,462.5 C279.1,464.5 279.4,465.5 278.5,468.5 C277.6,471.5 274.6,478.6 273.8,480.6 Z"/></clipPath>
<path d="M273.8,480.6 C271.5,480.8 267.3,481.6 260.0,482.0 C252.7,482.4 240.0,483.0 230.0,483.0 C220.0,483.0 208.3,482.8 200.0,482.0 C191.7,481.2 185.2,480.9 180.0,478.0 C174.8,475.1 170.9,469.1 168.5,464.4 C166.1,459.7 165.8,454.3 165.8,449.6 C165.8,444.9 167.4,439.4 168.5,436.0 C169.6,432.6 170.9,431.5 172.5,429.5 C174.1,427.5 175.9,425.7 178.0,424.0 C180.1,422.3 182.5,420.7 185.0,419.3 C187.5,417.9 190.2,416.7 192.8,415.8 C195.4,414.9 197.8,414.3 200.5,413.8 C203.2,413.3 206.2,412.9 209.0,413.0 C211.8,413.1 214.3,413.6 217.0,414.2 C219.7,414.8 221.6,415.1 225.2,416.5 C228.8,417.9 233.7,419.9 238.7,422.5 C243.7,425.1 251.0,429.5 255.0,432.0 C259.0,434.5 260.0,435.5 262.5,437.5 C265.0,439.5 267.8,441.9 269.8,444.0 C271.8,446.1 273.1,447.9 274.5,450.0 C275.9,452.1 277.1,454.2 277.9,456.3 C278.6,458.4 278.9,460.5 279.0,462.5 C279.1,464.5 279.4,465.5 278.5,468.5 C277.6,471.5 274.6,478.6 273.8,480.6 Z" fill="#deb39a"/>
<path d="M171.0,446.0 C171.5,447.8 172.3,453.8 174.0,457.0 C175.7,460.2 177.8,462.9 181.0,465.0 C184.2,467.1 188.2,468.3 193.0,469.5 C197.8,470.7 209.5,472.3 210.0,472.0 C210.5,471.7 200.0,469.2 196.0,467.5 C192.0,465.8 188.8,464.1 186.0,462.0 C183.2,459.9 181.5,457.7 179.0,455.0 C176.5,452.3 172.3,447.5 171.0,446.0 Z" fill="#c99c86" clip-path="url(#f2hd)"/>
<path d="M196.0,452.0 C197.3,453.2 200.7,457.0 204.0,459.0 C207.3,461.0 210.3,462.5 216.0,464.0 C221.7,465.5 237.2,468.3 238.0,468.0 C238.8,467.7 225.8,463.8 221.0,462.0 C216.2,460.2 213.2,459.2 209.0,457.5 C204.8,455.8 198.2,452.9 196.0,452.0 Z" fill="#c99c86" clip-path="url(#f2hd)"/>
<path d="M273.8,480.6 C271.5,480.8 267.3,481.6 260.0,482.0 C252.7,482.4 240.0,483.0 230.0,483.0 C220.0,483.0 208.3,482.8 200.0,482.0 C191.7,481.2 185.2,480.9 180.0,478.0 C174.8,475.1 170.9,469.1 168.5,464.4 C166.1,459.7 165.8,454.3 165.8,449.6 C165.8,444.9 167.4,439.4 168.5,436.0 C169.6,432.6 170.9,431.5 172.5,429.5 C174.1,427.5 175.9,425.7 178.0,424.0 C180.1,422.3 182.5,420.7 185.0,419.3 C187.5,417.9 190.2,416.7 192.8,415.8 C195.4,414.9 197.8,414.3 200.5,413.8 C203.2,413.3 206.2,412.9 209.0,413.0 C211.8,413.1 214.3,413.6 217.0,414.2 C219.7,414.8 221.6,415.1 225.2,416.5 C228.8,417.9 233.7,419.9 238.7,422.5 C243.7,425.1 251.0,429.5 255.0,432.0 C259.0,434.5 260.0,435.5 262.5,437.5 C265.0,439.5 267.8,441.9 269.8,444.0 C271.8,446.1 273.1,447.9 274.5,450.0 C275.9,452.1 277.1,454.2 277.9,456.3 C278.6,458.4 278.9,460.5 279.0,462.5 C279.1,464.5 279.4,465.5 278.5,468.5 C277.6,471.5 274.6,478.6 273.8,480.6 Z" fill="none" stroke="#932f30" stroke-width="1.35" stroke-linejoin="round"/>
<path d="M112.5,495.0 C113.1,494.3 111.8,493.1 116.0,491.0 C120.2,488.9 131.0,484.4 137.5,482.5 C144.0,480.6 148.5,480.1 155.0,479.3 C161.5,478.6 167.6,478.6 176.6,478.0 C185.6,477.4 199.1,476.6 209.0,475.9 C218.9,475.2 228.1,474.2 236.0,473.9 C243.9,473.6 251.1,473.4 256.3,473.9 C261.5,474.3 264.1,475.2 267.0,476.6 C269.9,478.0 272.3,479.8 273.8,482.0 C275.3,484.2 275.4,487.8 275.8,490.0 C276.2,492.2 276.4,494.2 276.5,495.0 Z" fill="#94c7ea"/>
<path d="M112.5,495.0 C113.1,494.3 111.8,493.1 116.0,491.0 C120.2,488.9 131.0,484.4 137.5,482.5 C144.0,480.6 148.5,480.1 155.0,479.3 C161.5,478.6 167.6,478.6 176.6,478.0 C185.6,477.4 199.1,476.6 209.0,475.9 C218.9,475.2 228.1,474.2 236.0,473.9 C243.9,473.6 251.1,473.4 256.3,473.9 C261.5,474.3 264.1,475.2 267.0,476.6 C269.9,478.0 272.3,479.8 273.8,482.0 C275.3,484.2 275.4,487.8 275.8,490.0 C276.2,492.2 276.4,494.2 276.5,495.0" fill="none" stroke="#50616d" stroke-width="1.25" stroke-linejoin="round" stroke-linecap="round"/>
<path transform="translate(233.0,451.2) skewY(-19.1) scale(7.00,10.50)" d="M0.42,-1 C0.46,-0.78 0.56,-0.62 0.74,-0.45 C0.86,-0.33 0.95,-0.15 1.02,0 C0.95,0.15 0.86,0.33 0.74,0.45 C0.56,0.62 0.46,0.78 0.42,1 C0.38,0.78 0.3,0.62 0.16,0.45 C0.06,0.33 0.04,0.15 0.16,0 C0.04,-0.15 0.06,-0.33 0.16,-0.45 C0.3,-0.62 0.38,-0.78 0.42,-1 Z" fill="#d94f52"/>
<path transform="translate(240.0,448.8) skewY(-20.6) scale(8.00,10.38)" d="M0.42,-1 C0.46,-0.78 0.56,-0.62 0.74,-0.45 C0.86,-0.33 0.95,-0.15 1.02,0 C0.95,0.15 0.86,0.33 0.74,0.45 C0.56,0.62 0.46,0.78 0.42,1 C0.38,0.78 0.3,0.62 0.16,0.45 C0.06,0.33 0.04,0.15 0.16,0 C0.04,-0.15 0.06,-0.33 0.16,-0.45 C0.3,-0.62 0.38,-0.78 0.42,-1 Z" fill="#d94f52"/>
<path transform="translate(248.0,445.8) skewY(-18.0) scale(7.50,10.24)" d="M0.42,-1 C0.46,-0.78 0.56,-0.62 0.74,-0.45 C0.86,-0.33 0.95,-0.15 1.02,0 C0.95,0.15 0.86,0.33 0.74,0.45 C0.56,0.62 0.46,0.78 0.42,1 C0.38,0.78 0.3,0.62 0.16,0.45 C0.06,0.33 0.04,0.15 0.16,0 C0.04,-0.15 0.06,-0.33 0.16,-0.45 C0.3,-0.62 0.38,-0.78 0.42,-1 Z" fill="#d94f52"/>
<path transform="translate(255.5,443.4) skewY(-13.5) scale(8.00,10.11)" d="M0.42,-1 C0.46,-0.78 0.56,-0.62 0.74,-0.45 C0.86,-0.33 0.95,-0.15 1.02,0 C0.95,0.15 0.86,0.33 0.74,0.45 C0.56,0.62 0.46,0.78 0.42,1 C0.38,0.78 0.3,0.62 0.16,0.45 C0.06,0.33 0.04,0.15 0.16,0 C0.04,-0.15 0.06,-0.33 0.16,-0.45 C0.3,-0.62 0.38,-0.78 0.42,-1 Z" fill="#d94f52"/>
<path transform="translate(263.5,441.5) skewY(-2.8) scale(7.50,9.99)" d="M0.42,-1 C0.46,-0.78 0.56,-0.62 0.74,-0.45 C0.86,-0.33 0.95,-0.15 1.02,0 C0.95,0.15 0.86,0.33 0.74,0.45 C0.56,0.62 0.46,0.78 0.42,1 C0.38,0.78 0.3,0.62 0.16,0.45 C0.06,0.33 0.04,0.15 0.16,0 C0.04,-0.15 0.06,-0.33 0.16,-0.45 C0.3,-0.62 0.38,-0.78 0.42,-1 Z" fill="#d94f52"/>
<path transform="translate(271.0,441.1) skewY(10.1) scale(8.00,9.94)" d="M0.000,-0.930 C0.010,-0.943 0.020,-0.997 0.060,-1.010 C0.100,-1.023 0.198,-1.023 0.240,-1.010 C0.282,-0.997 0.297,-0.982 0.310,-0.930 C0.323,-0.878 0.302,-0.755 0.320,-0.700 C0.338,-0.645 0.377,-0.627 0.420,-0.600 C0.463,-0.573 0.533,-0.577 0.580,-0.540 C0.627,-0.503 0.653,-0.430 0.700,-0.380 C0.747,-0.330 0.810,-0.283 0.860,-0.240 C0.910,-0.197 0.943,-0.160 1.000,-0.120 C1.057,-0.080 1.167,-0.020 1.200,0.000 C1.167,0.020 1.057,0.080 1.000,0.120 C0.943,0.160 0.910,0.197 0.860,0.240 C0.810,0.283 0.747,0.330 0.700,0.380 C0.653,0.430 0.627,0.503 0.580,0.540 C0.533,0.577 0.463,0.573 0.420,0.600 C0.377,0.627 0.338,0.645 0.320,0.700 C0.302,0.755 0.323,0.878 0.310,0.930 C0.297,0.982 0.282,0.997 0.240,1.010 C0.198,1.023 0.100,1.023 0.060,1.010 C0.020,0.997 0.010,0.943 0.000,0.930 C0.000,0.900 0.002,0.813 0.000,0.750 C-0.002,0.687 -0.005,0.622 -0.010,0.550 C-0.015,0.478 -0.057,0.385 -0.030,0.320 C-0.003,0.255 0.078,0.213 0.150,0.160 C0.222,0.107 0.358,0.027 0.400,0.000 C0.358,-0.027 0.222,-0.107 0.150,-0.160 C0.078,-0.213 -0.003,-0.255 -0.030,-0.320 C-0.057,-0.385 -0.015,-0.478 -0.010,-0.550 C-0.005,-0.622 -0.002,-0.687 0.000,-0.750 C0.002,-0.813 0.000,-0.900 0.000,-0.930 Z" fill="#d94f52"/>
<path transform="translate(279.0,442.5) skewY(12.5) scale(7.50,9.88)" d="M0.000,-0.930 C0.010,-0.943 0.020,-0.997 0.060,-1.010 C0.100,-1.023 0.198,-1.023 0.240,-1.010 C0.282,-0.997 0.297,-0.982 0.310,-0.930 C0.323,-0.878 0.302,-0.755 0.320,-0.700 C0.338,-0.645 0.377,-0.627 0.420,-0.600 C0.463,-0.573 0.533,-0.577 0.580,-0.540 C0.627,-0.503 0.653,-0.430 0.700,-0.380 C0.747,-0.330 0.810,-0.283 0.860,-0.240 C0.910,-0.197 0.943,-0.160 1.000,-0.120 C1.057,-0.080 1.167,-0.020 1.200,0.000 C1.167,0.020 1.057,0.080 1.000,0.120 C0.943,0.160 0.910,0.197 0.860,0.240 C0.810,0.283 0.747,0.330 0.700,0.380 C0.653,0.430 0.627,0.503 0.580,0.540 C0.533,0.577 0.463,0.573 0.420,0.600 C0.377,0.627 0.338,0.645 0.320,0.700 C0.302,0.755 0.323,0.878 0.310,0.930 C0.297,0.982 0.282,0.997 0.240,1.010 C0.198,1.023 0.100,1.023 0.060,1.010 C0.020,0.997 0.010,0.943 0.000,0.930 C0.000,0.900 0.002,0.813 0.000,0.750 C-0.002,0.687 -0.005,0.622 -0.010,0.550 C-0.015,0.478 -0.057,0.385 -0.030,0.320 C-0.003,0.255 0.078,0.213 0.150,0.160 C0.222,0.107 0.358,0.027 0.400,0.000 C0.358,-0.027 0.222,-0.107 0.150,-0.160 C0.078,-0.213 -0.003,-0.255 -0.030,-0.320 C-0.057,-0.385 -0.015,-0.478 -0.010,-0.550 C-0.005,-0.622 -0.002,-0.687 0.000,-0.750 C0.002,-0.813 0.000,-0.900 0.000,-0.930 Z" fill="#d94f52"/>
<path transform="translate(286.5,444.2) skewY(13.7) scale(8.00,9.83)" d="M0.000,-0.930 C0.010,-0.943 0.020,-0.997 0.060,-1.010 C0.100,-1.023 0.198,-1.023 0.240,-1.010 C0.282,-0.997 0.297,-0.982 0.310,-0.930 C0.323,-0.878 0.302,-0.755 0.320,-0.700 C0.338,-0.645 0.377,-0.627 0.420,-0.600 C0.463,-0.573 0.533,-0.577 0.580,-0.540 C0.627,-0.503 0.653,-0.430 0.700,-0.380 C0.747,-0.330 0.810,-0.283 0.860,-0.240 C0.910,-0.197 0.943,-0.160 1.000,-0.120 C1.057,-0.080 1.167,-0.020 1.200,0.000 C1.167,0.020 1.057,0.080 1.000,0.120 C0.943,0.160 0.910,0.197 0.860,0.240 C0.810,0.283 0.747,0.330 0.700,0.380 C0.653,0.430 0.627,0.503 0.580,0.540 C0.533,0.577 0.463,0.573 0.420,0.600 C0.377,0.627 0.338,0.645 0.320,0.700 C0.302,0.755 0.323,0.878 0.310,0.930 C0.297,0.982 0.282,0.997 0.240,1.010 C0.198,1.023 0.100,1.023 0.060,1.010 C0.020,0.997 0.010,0.943 0.000,0.930 C0.000,0.900 0.002,0.813 0.000,0.750 C-0.002,0.687 -0.005,0.622 -0.010,0.550 C-0.015,0.478 -0.057,0.385 -0.030,0.320 C-0.003,0.255 0.078,0.213 0.150,0.160 C0.222,0.107 0.358,0.027 0.400,0.000 C0.358,-0.027 0.222,-0.107 0.150,-0.160 C0.078,-0.213 -0.003,-0.255 -0.030,-0.320 C-0.057,-0.385 -0.015,-0.478 -0.010,-0.550 C-0.005,-0.622 -0.002,-0.687 0.000,-0.750 C0.002,-0.813 0.000,-0.900 0.000,-0.930 Z" fill="#d94f52"/>
<path transform="translate(294.5,446.1) skewY(14.4) scale(8.00,9.93)" d="M0.000,-0.930 C0.010,-0.943 0.020,-0.997 0.060,-1.010 C0.100,-1.023 0.198,-1.023 0.240,-1.010 C0.282,-0.997 0.297,-0.982 0.310,-0.930 C0.323,-0.878 0.302,-0.755 0.320,-0.700 C0.338,-0.645 0.377,-0.627 0.420,-0.600 C0.463,-0.573 0.533,-0.577 0.580,-0.540 C0.627,-0.503 0.653,-0.430 0.700,-0.380 C0.747,-0.330 0.810,-0.283 0.860,-0.240 C0.910,-0.197 0.943,-0.160 1.000,-0.120 C1.057,-0.080 1.167,-0.020 1.200,0.000 C1.167,0.020 1.057,0.080 1.000,0.120 C0.943,0.160 0.910,0.197 0.860,0.240 C0.810,0.283 0.747,0.330 0.700,0.380 C0.653,0.430 0.627,0.503 0.580,0.540 C0.533,0.577 0.463,0.573 0.420,0.600 C0.377,0.627 0.338,0.645 0.320,0.700 C0.302,0.755 0.323,0.878 0.310,0.930 C0.297,0.982 0.282,0.997 0.240,1.010 C0.198,1.023 0.100,1.023 0.060,1.010 C0.020,0.997 0.010,0.943 0.000,0.930 C0.000,0.900 0.002,0.813 0.000,0.750 C-0.002,0.687 -0.005,0.622 -0.010,0.550 C-0.015,0.478 -0.057,0.385 -0.030,0.320 C-0.003,0.255 0.078,0.213 0.150,0.160 C0.222,0.107 0.358,0.027 0.400,0.000 C0.358,-0.027 0.222,-0.107 0.150,-0.160 C0.078,-0.213 -0.003,-0.255 -0.030,-0.320 C-0.057,-0.385 -0.015,-0.478 -0.010,-0.550 C-0.005,-0.622 -0.002,-0.687 0.000,-0.750 C0.002,-0.813 0.000,-0.900 0.000,-0.930 Z" fill="#d94f52"/>
<path transform="translate(302.5,448.2) skewY(14.8) scale(8.50,10.16)" d="M0.000,-0.930 C0.010,-0.943 0.020,-0.997 0.060,-1.010 C0.100,-1.023 0.198,-1.023 0.240,-1.010 C0.282,-0.997 0.297,-0.982 0.310,-0.930 C0.323,-0.878 0.302,-0.755 0.320,-0.700 C0.338,-0.645 0.377,-0.627 0.420,-0.600 C0.463,-0.573 0.533,-0.577 0.580,-0.540 C0.627,-0.503 0.653,-0.430 0.700,-0.380 C0.747,-0.330 0.810,-0.283 0.860,-0.240 C0.910,-0.197 0.943,-0.160 1.000,-0.120 C1.057,-0.080 1.167,-0.020 1.200,0.000 C1.167,0.020 1.057,0.080 1.000,0.120 C0.943,0.160 0.910,0.197 0.860,0.240 C0.810,0.283 0.747,0.330 0.700,0.380 C0.653,0.430 0.627,0.503 0.580,0.540 C0.533,0.577 0.463,0.573 0.420,0.600 C0.377,0.627 0.338,0.645 0.320,0.700 C0.302,0.755 0.323,0.878 0.310,0.930 C0.297,0.982 0.282,0.997 0.240,1.010 C0.198,1.023 0.100,1.023 0.060,1.010 C0.020,0.997 0.010,0.943 0.000,0.930 C0.000,0.900 0.002,0.813 0.000,0.750 C-0.002,0.687 -0.005,0.622 -0.010,0.550 C-0.015,0.478 -0.057,0.385 -0.030,0.320 C-0.003,0.255 0.078,0.213 0.150,0.160 C0.222,0.107 0.358,0.027 0.400,0.000 C0.358,-0.027 0.222,-0.107 0.150,-0.160 C0.078,-0.213 -0.003,-0.255 -0.030,-0.320 C-0.057,-0.385 -0.015,-0.478 -0.010,-0.550 C-0.005,-0.622 -0.002,-0.687 0.000,-0.750 C0.002,-0.813 0.000,-0.900 0.000,-0.930 Z" fill="#d94f52"/>
<path transform="translate(311.0,450.4) skewY(10.2) scale(9.00,10.41)" d="M0.000,-0.930 C0.010,-0.943 0.020,-0.997 0.060,-1.010 C0.100,-1.023 0.198,-1.023 0.240,-1.010 C0.282,-0.997 0.297,-0.982 0.310,-0.930 C0.323,-0.878 0.302,-0.755 0.320,-0.700 C0.338,-0.645 0.377,-0.627 0.420,-0.600 C0.463,-0.573 0.533,-0.577 0.580,-0.540 C0.627,-0.503 0.653,-0.430 0.700,-0.380 C0.747,-0.330 0.810,-0.283 0.860,-0.240 C0.910,-0.197 0.943,-0.160 1.000,-0.120 C1.057,-0.080 1.167,-0.020 1.200,0.000 C1.167,0.020 1.057,0.080 1.000,0.120 C0.943,0.160 0.910,0.197 0.860,0.240 C0.810,0.283 0.747,0.330 0.700,0.380 C0.653,0.430 0.627,0.503 0.580,0.540 C0.533,0.577 0.463,0.573 0.420,0.600 C0.377,0.627 0.338,0.645 0.320,0.700 C0.302,0.755 0.323,0.878 0.310,0.930 C0.297,0.982 0.282,0.997 0.240,1.010 C0.198,1.023 0.100,1.023 0.060,1.010 C0.020,0.997 0.010,0.943 0.000,0.930 C0.000,0.900 0.002,0.813 0.000,0.750 C-0.002,0.687 -0.005,0.622 -0.010,0.550 C-0.015,0.478 -0.057,0.385 -0.030,0.320 C-0.003,0.255 0.078,0.213 0.150,0.160 C0.222,0.107 0.358,0.027 0.400,0.000 C0.358,-0.027 0.222,-0.107 0.150,-0.160 C0.078,-0.213 -0.003,-0.255 -0.030,-0.320 C-0.057,-0.385 -0.015,-0.478 -0.010,-0.550 C-0.005,-0.622 -0.002,-0.687 0.000,-0.750 C0.002,-0.813 0.000,-0.900 0.000,-0.930 Z" fill="#d94f52"/>
<path transform="translate(320.0,452.0) skewY(7.7) scale(9.50,10.67)" d="M0.000,-0.930 C0.010,-0.943 0.020,-0.997 0.060,-1.010 C0.100,-1.023 0.198,-1.023 0.240,-1.010 C0.282,-0.997 0.297,-0.982 0.310,-0.930 C0.323,-0.878 0.302,-0.755 0.320,-0.700 C0.338,-0.645 0.377,-0.627 0.420,-0.600 C0.463,-0.573 0.533,-0.577 0.580,-0.540 C0.627,-0.503 0.653,-0.430 0.700,-0.380 C0.747,-0.330 0.810,-0.283 0.860,-0.240 C0.910,-0.197 0.943,-0.160 1.000,-0.120 C1.057,-0.080 1.167,-0.020 1.200,0.000 C1.167,0.020 1.057,0.080 1.000,0.120 C0.943,0.160 0.910,0.197 0.860,0.240 C0.810,0.283 0.747,0.330 0.700,0.380 C0.653,0.430 0.627,0.503 0.580,0.540 C0.533,0.577 0.463,0.573 0.420,0.600 C0.377,0.627 0.338,0.645 0.320,0.700 C0.302,0.755 0.323,0.878 0.310,0.930 C0.297,0.982 0.282,0.997 0.240,1.010 C0.198,1.023 0.100,1.023 0.060,1.010 C0.020,0.997 0.010,0.943 0.000,0.930 C0.000,0.900 0.002,0.813 0.000,0.750 C-0.002,0.687 -0.005,0.622 -0.010,0.550 C-0.015,0.478 -0.057,0.385 -0.030,0.320 C-0.003,0.255 0.078,0.213 0.150,0.160 C0.222,0.107 0.358,0.027 0.400,0.000 C0.358,-0.027 0.222,-0.107 0.150,-0.160 C0.078,-0.213 -0.003,-0.255 -0.030,-0.320 C-0.057,-0.385 -0.015,-0.478 -0.010,-0.550 C-0.005,-0.622 -0.002,-0.687 0.000,-0.750 C0.002,-0.813 0.000,-0.900 0.000,-0.930 Z" fill="#d94f52"/>
<path transform="translate(329.5,453.3) skewY(-1.8) scale(10.50,10.94)" d="M0.000,-0.930 C0.010,-0.943 0.020,-0.997 0.060,-1.010 C0.100,-1.023 0.198,-1.023 0.240,-1.010 C0.282,-0.997 0.297,-0.982 0.310,-0.930 C0.323,-0.878 0.302,-0.755 0.320,-0.700 C0.338,-0.645 0.377,-0.627 0.420,-0.600 C0.463,-0.573 0.533,-0.577 0.580,-0.540 C0.627,-0.503 0.653,-0.430 0.700,-0.380 C0.747,-0.330 0.810,-0.283 0.860,-0.240 C0.910,-0.197 0.943,-0.160 1.000,-0.120 C1.057,-0.080 1.167,-0.020 1.200,0.000 C1.167,0.020 1.057,0.080 1.000,0.120 C0.943,0.160 0.910,0.197 0.860,0.240 C0.810,0.283 0.747,0.330 0.700,0.380 C0.653,0.430 0.627,0.503 0.580,0.540 C0.533,0.577 0.463,0.573 0.420,0.600 C0.377,0.627 0.338,0.645 0.320,0.700 C0.302,0.755 0.323,0.878 0.310,0.930 C0.297,0.982 0.282,0.997 0.240,1.010 C0.198,1.023 0.100,1.023 0.060,1.010 C0.020,0.997 0.010,0.943 0.000,0.930 C0.000,0.900 0.002,0.813 0.000,0.750 C-0.002,0.687 -0.005,0.622 -0.010,0.550 C-0.015,0.478 -0.057,0.385 -0.030,0.320 C-0.003,0.255 0.078,0.213 0.150,0.160 C0.222,0.107 0.358,0.027 0.400,0.000 C0.358,-0.027 0.222,-0.107 0.150,-0.160 C0.078,-0.213 -0.003,-0.255 -0.030,-0.320 C-0.057,-0.385 -0.015,-0.478 -0.010,-0.550 C-0.005,-0.622 -0.002,-0.687 0.000,-0.750 C0.002,-0.813 0.000,-0.900 0.000,-0.930 Z" fill="#d94f52" stroke="#f5b4b3" stroke-width="0.7" vector-effect="non-scaling-stroke"/>
<path transform="translate(340.0,453.0) skewY(-13.3) scale(9.50,11.38)" d="M0.000,-0.930 C0.010,-0.943 0.020,-0.997 0.060,-1.010 C0.100,-1.023 0.198,-1.023 0.240,-1.010 C0.282,-0.997 0.297,-0.982 0.310,-0.930 C0.323,-0.878 0.302,-0.755 0.320,-0.700 C0.338,-0.645 0.377,-0.627 0.420,-0.600 C0.463,-0.573 0.533,-0.577 0.580,-0.540 C0.627,-0.503 0.653,-0.430 0.700,-0.380 C0.747,-0.330 0.810,-0.283 0.860,-0.240 C0.910,-0.197 0.943,-0.160 1.000,-0.120 C1.057,-0.080 1.167,-0.020 1.200,0.000 C1.167,0.020 1.057,0.080 1.000,0.120 C0.943,0.160 0.910,0.197 0.860,0.240 C0.810,0.283 0.747,0.330 0.700,0.380 C0.653,0.430 0.627,0.503 0.580,0.540 C0.533,0.577 0.463,0.573 0.420,0.600 C0.377,0.627 0.338,0.645 0.320,0.700 C0.302,0.755 0.323,0.878 0.310,0.930 C0.297,0.982 0.282,0.997 0.240,1.010 C0.198,1.023 0.100,1.023 0.060,1.010 C0.020,0.997 0.010,0.943 0.000,0.930 C0.000,0.900 0.002,0.813 0.000,0.750 C-0.002,0.687 -0.005,0.622 -0.010,0.550 C-0.015,0.478 -0.057,0.385 -0.030,0.320 C-0.003,0.255 0.078,0.213 0.150,0.160 C0.222,0.107 0.358,0.027 0.400,0.000 C0.358,-0.027 0.222,-0.107 0.150,-0.160 C0.078,-0.213 -0.003,-0.255 -0.030,-0.320 C-0.057,-0.385 -0.015,-0.478 -0.010,-0.550 C-0.005,-0.622 -0.002,-0.687 0.000,-0.750 C0.002,-0.813 0.000,-0.900 0.000,-0.930 Z" fill="#d94f52" stroke="#f5b4b3" stroke-width="0.7" vector-effect="non-scaling-stroke"/>
<path transform="translate(349.5,450.7) skewY(-16.5) scale(9.00,11.80)" d="M0.000,-0.930 C0.010,-0.943 0.020,-0.997 0.060,-1.010 C0.100,-1.023 0.198,-1.023 0.240,-1.010 C0.282,-0.997 0.297,-0.982 0.310,-0.930 C0.323,-0.878 0.302,-0.755 0.320,-0.700 C0.338,-0.645 0.377,-0.627 0.420,-0.600 C0.463,-0.573 0.533,-0.577 0.580,-0.540 C0.627,-0.503 0.653,-0.430 0.700,-0.380 C0.747,-0.330 0.810,-0.283 0.860,-0.240 C0.910,-0.197 0.943,-0.160 1.000,-0.120 C1.057,-0.080 1.167,-0.020 1.200,0.000 C1.167,0.020 1.057,0.080 1.000,0.120 C0.943,0.160 0.910,0.197 0.860,0.240 C0.810,0.283 0.747,0.330 0.700,0.380 C0.653,0.430 0.627,0.503 0.580,0.540 C0.533,0.577 0.463,0.573 0.420,0.600 C0.377,0.627 0.338,0.645 0.320,0.700 C0.302,0.755 0.323,0.878 0.310,0.930 C0.297,0.982 0.282,0.997 0.240,1.010 C0.198,1.023 0.100,1.023 0.060,1.010 C0.020,0.997 0.010,0.943 0.000,0.930 C0.000,0.900 0.002,0.813 0.000,0.750 C-0.002,0.687 -0.005,0.622 -0.010,0.550 C-0.015,0.478 -0.057,0.385 -0.030,0.320 C-0.003,0.255 0.078,0.213 0.150,0.160 C0.222,0.107 0.358,0.027 0.400,0.000 C0.358,-0.027 0.222,-0.107 0.150,-0.160 C0.078,-0.213 -0.003,-0.255 -0.030,-0.320 C-0.057,-0.385 -0.015,-0.478 -0.010,-0.550 C-0.005,-0.622 -0.002,-0.687 0.000,-0.750 C0.002,-0.813 0.000,-0.900 0.000,-0.930 Z" fill="#d94f52" stroke="#f5b4b3" stroke-width="0.7" vector-effect="non-scaling-stroke"/>
<path transform="translate(358.5,448.1) skewY(-20.2) scale(9.50,12.14)" d="M0.000,-0.930 C0.010,-0.943 0.020,-0.997 0.060,-1.010 C0.100,-1.023 0.198,-1.023 0.240,-1.010 C0.282,-0.997 0.297,-0.982 0.310,-0.930 C0.323,-0.878 0.302,-0.755 0.320,-0.700 C0.338,-0.645 0.377,-0.627 0.420,-0.600 C0.463,-0.573 0.533,-0.577 0.580,-0.540 C0.627,-0.503 0.653,-0.430 0.700,-0.380 C0.747,-0.330 0.810,-0.283 0.860,-0.240 C0.910,-0.197 0.943,-0.160 1.000,-0.120 C1.057,-0.080 1.167,-0.020 1.200,0.000 C1.167,0.020 1.057,0.080 1.000,0.120 C0.943,0.160 0.910,0.197 0.860,0.240 C0.810,0.283 0.747,0.330 0.700,0.380 C0.653,0.430 0.627,0.503 0.580,0.540 C0.533,0.577 0.463,0.573 0.420,0.600 C0.377,0.627 0.338,0.645 0.320,0.700 C0.302,0.755 0.323,0.878 0.310,0.930 C0.297,0.982 0.282,0.997 0.240,1.010 C0.198,1.023 0.100,1.023 0.060,1.010 C0.020,0.997 0.010,0.943 0.000,0.930 C0.000,0.900 0.002,0.813 0.000,0.750 C-0.002,0.687 -0.005,0.622 -0.010,0.550 C-0.015,0.478 -0.057,0.385 -0.030,0.320 C-0.003,0.255 0.078,0.213 0.150,0.160 C0.222,0.107 0.358,0.027 0.400,0.000 C0.358,-0.027 0.222,-0.107 0.150,-0.160 C0.078,-0.213 -0.003,-0.255 -0.030,-0.320 C-0.057,-0.385 -0.015,-0.478 -0.010,-0.550 C-0.005,-0.622 -0.002,-0.687 0.000,-0.750 C0.002,-0.813 0.000,-0.900 0.000,-0.930 Z" fill="#d94f52" stroke="#f5b4b3" stroke-width="0.7" vector-effect="non-scaling-stroke"/>
<path transform="translate(368.0,444.6) skewY(-17.2) scale(10.00,12.50)" d="M0.000,-0.930 C0.010,-0.943 0.020,-0.997 0.060,-1.010 C0.100,-1.023 0.198,-1.023 0.240,-1.010 C0.282,-0.997 0.297,-0.982 0.310,-0.930 C0.323,-0.878 0.302,-0.755 0.320,-0.700 C0.338,-0.645 0.377,-0.627 0.420,-0.600 C0.463,-0.573 0.533,-0.577 0.580,-0.540 C0.627,-0.503 0.653,-0.430 0.700,-0.380 C0.747,-0.330 0.810,-0.283 0.860,-0.240 C0.910,-0.197 0.943,-0.160 1.000,-0.120 C1.057,-0.080 1.167,-0.020 1.200,0.000 C1.167,0.020 1.057,0.080 1.000,0.120 C0.943,0.160 0.910,0.197 0.860,0.240 C0.810,0.283 0.747,0.330 0.700,0.380 C0.653,0.430 0.627,0.503 0.580,0.540 C0.533,0.577 0.463,0.573 0.420,0.600 C0.377,0.627 0.338,0.645 0.320,0.700 C0.302,0.755 0.323,0.878 0.310,0.930 C0.297,0.982 0.282,0.997 0.240,1.010 C0.198,1.023 0.100,1.023 0.060,1.010 C0.020,0.997 0.010,0.943 0.000,0.930 C0.000,0.900 0.002,0.813 0.000,0.750 C-0.002,0.687 -0.005,0.622 -0.010,0.550 C-0.015,0.478 -0.057,0.385 -0.030,0.320 C-0.003,0.255 0.078,0.213 0.150,0.160 C0.222,0.107 0.358,0.027 0.400,0.000 C0.358,-0.027 0.222,-0.107 0.150,-0.160 C0.078,-0.213 -0.003,-0.255 -0.030,-0.320 C-0.057,-0.385 -0.015,-0.478 -0.010,-0.550 C-0.005,-0.622 -0.002,-0.687 0.000,-0.750 C0.002,-0.813 0.000,-0.900 0.000,-0.930 Z" fill="#d94f52" stroke="#f5b4b3" stroke-width="0.7" vector-effect="non-scaling-stroke"/>
<path transform="translate(378.0,441.5) skewY(-12.4) scale(10.50,13.23)" d="M0.000,-0.930 C0.010,-0.943 0.020,-0.997 0.060,-1.010 C0.100,-1.023 0.198,-1.023 0.240,-1.010 C0.282,-0.997 0.297,-0.982 0.310,-0.930 C0.323,-0.878 0.302,-0.755 0.320,-0.700 C0.338,-0.645 0.377,-0.627 0.420,-0.600 C0.463,-0.573 0.533,-0.577 0.580,-0.540 C0.627,-0.503 0.653,-0.430 0.700,-0.380 C0.747,-0.330 0.810,-0.283 0.860,-0.240 C0.910,-0.197 0.943,-0.160 1.000,-0.120 C1.057,-0.080 1.167,-0.020 1.200,0.000 C1.167,0.020 1.057,0.080 1.000,0.120 C0.943,0.160 0.910,0.197 0.860,0.240 C0.810,0.283 0.747,0.330 0.700,0.380 C0.653,0.430 0.627,0.503 0.580,0.540 C0.533,0.577 0.463,0.573 0.420,0.600 C0.377,0.627 0.338,0.645 0.320,0.700 C0.302,0.755 0.323,0.878 0.310,0.930 C0.297,0.982 0.282,0.997 0.240,1.010 C0.198,1.023 0.100,1.023 0.060,1.010 C0.020,0.997 0.010,0.943 0.000,0.930 C0.000,0.900 0.002,0.813 0.000,0.750 C-0.002,0.687 -0.005,0.622 -0.010,0.550 C-0.015,0.478 -0.057,0.385 -0.030,0.320 C-0.003,0.255 0.078,0.213 0.150,0.160 C0.222,0.107 0.358,0.027 0.400,0.000 C0.358,-0.027 0.222,-0.107 0.150,-0.160 C0.078,-0.213 -0.003,-0.255 -0.030,-0.320 C-0.057,-0.385 -0.015,-0.478 -0.010,-0.550 C-0.005,-0.622 -0.002,-0.687 0.000,-0.750 C0.002,-0.813 0.000,-0.900 0.000,-0.930 Z" fill="#d94f52" stroke="#f5b4b3" stroke-width="0.7" vector-effect="non-scaling-stroke"/>
<path transform="translate(388.5,439.2) skewY(-7.7) scale(10.00,14.00)" d="M0.000,-0.930 C0.010,-0.943 0.020,-0.997 0.060,-1.010 C0.100,-1.023 0.198,-1.023 0.240,-1.010 C0.282,-0.997 0.297,-0.982 0.310,-0.930 C0.323,-0.878 0.302,-0.755 0.320,-0.700 C0.338,-0.645 0.377,-0.627 0.420,-0.600 C0.463,-0.573 0.533,-0.577 0.580,-0.540 C0.627,-0.503 0.653,-0.430 0.700,-0.380 C0.747,-0.330 0.810,-0.283 0.860,-0.240 C0.910,-0.197 0.943,-0.160 1.000,-0.120 C1.057,-0.080 1.167,-0.020 1.200,0.000 C1.167,0.020 1.057,0.080 1.000,0.120 C0.943,0.160 0.910,0.197 0.860,0.240 C0.810,0.283 0.747,0.330 0.700,0.380 C0.653,0.430 0.627,0.503 0.580,0.540 C0.533,0.577 0.463,0.573 0.420,0.600 C0.377,0.627 0.338,0.645 0.320,0.700 C0.302,0.755 0.323,0.878 0.310,0.930 C0.297,0.982 0.282,0.997 0.240,1.010 C0.198,1.023 0.100,1.023 0.060,1.010 C0.020,0.997 0.010,0.943 0.000,0.930 C0.000,0.900 0.002,0.813 0.000,0.750 C-0.002,0.687 -0.005,0.622 -0.010,0.550 C-0.015,0.478 -0.057,0.385 -0.030,0.320 C-0.003,0.255 0.078,0.213 0.150,0.160 C0.222,0.107 0.358,0.027 0.400,0.000 C0.358,-0.027 0.222,-0.107 0.150,-0.160 C0.078,-0.213 -0.003,-0.255 -0.030,-0.320 C-0.057,-0.385 -0.015,-0.478 -0.010,-0.550 C-0.005,-0.622 -0.002,-0.687 0.000,-0.750 C0.002,-0.813 0.000,-0.900 0.000,-0.930 Z" fill="#d94f52" stroke="#f5b4b3" stroke-width="0.7" vector-effect="non-scaling-stroke"/>
<path transform="translate(398.5,437.8) skewY(-2.4) scale(11.50,15.57)" d="M0.030,-0.940 C0.045,-0.955 0.072,-1.017 0.120,-1.030 C0.168,-1.043 0.270,-1.038 0.320,-1.020 C0.370,-1.002 0.400,-0.970 0.420,-0.920 C0.440,-0.870 0.423,-0.773 0.440,-0.720 C0.457,-0.667 0.473,-0.630 0.520,-0.600 C0.567,-0.570 0.663,-0.573 0.720,-0.540 C0.777,-0.507 0.822,-0.450 0.860,-0.400 C0.898,-0.350 0.907,-0.288 0.950,-0.240 C0.993,-0.192 1.050,-0.150 1.120,-0.110 C1.190,-0.070 1.328,-0.018 1.370,0.000 C1.328,0.018 1.190,0.070 1.120,0.110 C1.050,0.150 0.993,0.192 0.950,0.240 C0.907,0.288 0.898,0.350 0.860,0.400 C0.822,0.450 0.777,0.507 0.720,0.540 C0.663,0.573 0.567,0.570 0.520,0.600 C0.473,0.630 0.457,0.667 0.440,0.720 C0.423,0.773 0.440,0.870 0.420,0.920 C0.400,0.970 0.370,1.002 0.320,1.020 C0.270,1.038 0.168,1.043 0.120,1.030 C0.072,1.017 0.045,0.955 0.030,0.940 C0.023,0.908 -0.005,0.820 -0.010,0.750 C-0.015,0.680 -0.013,0.595 0.000,0.520 C0.013,0.445 0.030,0.368 0.070,0.300 C0.110,0.232 0.173,0.160 0.240,0.110 C0.307,0.060 0.432,0.018 0.470,0.000 C0.432,-0.018 0.307,-0.060 0.240,-0.110 C0.173,-0.160 0.110,-0.232 0.070,-0.300 C0.030,-0.368 0.013,-0.445 0.000,-0.520 C-0.013,-0.595 -0.015,-0.680 -0.010,-0.750 C-0.005,-0.820 0.023,-0.908 0.030,-0.940 Z" fill="#d94f52" stroke="#f5b4b3" stroke-width="0.7" vector-effect="non-scaling-stroke"/>
<path transform="translate(410.0,437.4) skewY(0.6) scale(13.50,17.05)" d="M0.030,-0.940 C0.045,-0.955 0.072,-1.017 0.120,-1.030 C0.168,-1.043 0.270,-1.038 0.320,-1.020 C0.370,-1.002 0.400,-0.970 0.420,-0.920 C0.440,-0.870 0.423,-0.773 0.440,-0.720 C0.457,-0.667 0.473,-0.630 0.520,-0.600 C0.567,-0.570 0.663,-0.573 0.720,-0.540 C0.777,-0.507 0.822,-0.450 0.860,-0.400 C0.898,-0.350 0.907,-0.288 0.950,-0.240 C0.993,-0.192 1.050,-0.150 1.120,-0.110 C1.190,-0.070 1.328,-0.018 1.370,0.000 C1.328,0.018 1.190,0.070 1.120,0.110 C1.050,0.150 0.993,0.192 0.950,0.240 C0.907,0.288 0.898,0.350 0.860,0.400 C0.822,0.450 0.777,0.507 0.720,0.540 C0.663,0.573 0.567,0.570 0.520,0.600 C0.473,0.630 0.457,0.667 0.440,0.720 C0.423,0.773 0.440,0.870 0.420,0.920 C0.400,0.970 0.370,1.002 0.320,1.020 C0.270,1.038 0.168,1.043 0.120,1.030 C0.072,1.017 0.045,0.955 0.030,0.940 C0.023,0.908 -0.005,0.820 -0.010,0.750 C-0.015,0.680 -0.013,0.595 0.000,0.520 C0.013,0.445 0.030,0.368 0.070,0.300 C0.110,0.232 0.173,0.160 0.240,0.110 C0.307,0.060 0.432,0.018 0.470,0.000 C0.432,-0.018 0.307,-0.060 0.240,-0.110 C0.173,-0.160 0.110,-0.232 0.070,-0.300 C0.030,-0.368 0.013,-0.445 0.000,-0.520 C-0.013,-0.595 -0.015,-0.680 -0.010,-0.750 C-0.005,-0.820 0.023,-0.908 0.030,-0.940 Z" fill="#d94f52" stroke="#f5b4b3" stroke-width="0.7" vector-effect="non-scaling-stroke"/>
<path transform="translate(423.5,437.5) skewY(1.7) scale(13.00,18.38)" d="M0.030,-0.940 C0.045,-0.955 0.072,-1.017 0.120,-1.030 C0.168,-1.043 0.270,-1.038 0.320,-1.020 C0.370,-1.002 0.400,-0.970 0.420,-0.920 C0.440,-0.870 0.423,-0.773 0.440,-0.720 C0.457,-0.667 0.473,-0.630 0.520,-0.600 C0.567,-0.570 0.663,-0.573 0.720,-0.540 C0.777,-0.507 0.822,-0.450 0.860,-0.400 C0.898,-0.350 0.907,-0.288 0.950,-0.240 C0.993,-0.192 1.050,-0.150 1.120,-0.110 C1.190,-0.070 1.328,-0.018 1.370,0.000 C1.328,0.018 1.190,0.070 1.120,0.110 C1.050,0.150 0.993,0.192 0.950,0.240 C0.907,0.288 0.898,0.350 0.860,0.400 C0.822,0.450 0.777,0.507 0.720,0.540 C0.663,0.573 0.567,0.570 0.520,0.600 C0.473,0.630 0.457,0.667 0.440,0.720 C0.423,0.773 0.440,0.870 0.420,0.920 C0.400,0.970 0.370,1.002 0.320,1.020 C0.270,1.038 0.168,1.043 0.120,1.030 C0.072,1.017 0.045,0.955 0.030,0.940 C0.023,0.908 -0.005,0.820 -0.010,0.750 C-0.015,0.680 -0.013,0.595 0.000,0.520 C0.013,0.445 0.030,0.368 0.070,0.300 C0.110,0.232 0.173,0.160 0.240,0.110 C0.307,0.060 0.432,0.018 0.470,0.000 C0.432,-0.018 0.307,-0.060 0.240,-0.110 C0.173,-0.160 0.110,-0.232 0.070,-0.300 C0.030,-0.368 0.013,-0.445 0.000,-0.520 C-0.013,-0.595 -0.015,-0.680 -0.010,-0.750 C-0.005,-0.820 0.023,-0.908 0.030,-0.940 Z" fill="#d94f52" stroke="#f5b4b3" stroke-width="0.7" vector-effect="non-scaling-stroke"/>
<path transform="translate(436.5,437.9) skewY(3.0) scale(12.50,18.50)" d="M0.030,-0.940 C0.045,-0.955 0.072,-1.017 0.120,-1.030 C0.168,-1.043 0.270,-1.038 0.320,-1.020 C0.370,-1.002 0.400,-0.970 0.420,-0.920 C0.440,-0.870 0.423,-0.773 0.440,-0.720 C0.457,-0.667 0.473,-0.630 0.520,-0.600 C0.567,-0.570 0.663,-0.573 0.720,-0.540 C0.777,-0.507 0.822,-0.450 0.860,-0.400 C0.898,-0.350 0.907,-0.288 0.950,-0.240 C0.993,-0.192 1.050,-0.150 1.120,-0.110 C1.190,-0.070 1.328,-0.018 1.370,0.000 C1.328,0.018 1.190,0.070 1.120,0.110 C1.050,0.150 0.993,0.192 0.950,0.240 C0.907,0.288 0.898,0.350 0.860,0.400 C0.822,0.450 0.777,0.507 0.720,0.540 C0.663,0.573 0.567,0.570 0.520,0.600 C0.473,0.630 0.457,0.667 0.440,0.720 C0.423,0.773 0.440,0.870 0.420,0.920 C0.400,0.970 0.370,1.002 0.320,1.020 C0.270,1.038 0.168,1.043 0.120,1.030 C0.072,1.017 0.045,0.955 0.030,0.940 C0.023,0.908 -0.005,0.820 -0.010,0.750 C-0.015,0.680 -0.013,0.595 0.000,0.520 C0.013,0.445 0.030,0.368 0.070,0.300 C0.110,0.232 0.173,0.160 0.240,0.110 C0.307,0.060 0.432,0.018 0.470,0.000 C0.432,-0.018 0.307,-0.060 0.240,-0.110 C0.173,-0.160 0.110,-0.232 0.070,-0.300 C0.030,-0.368 0.013,-0.445 0.000,-0.520 C-0.013,-0.595 -0.015,-0.680 -0.010,-0.750 C-0.005,-0.820 0.023,-0.908 0.030,-0.940 Z" fill="#d94f52" stroke="#f5b4b3" stroke-width="0.7" vector-effect="non-scaling-stroke"/>
<path transform="translate(449.0,438.5) skewY(3.5) scale(13.00,18.20)" d="M0.030,-0.940 C0.045,-0.955 0.072,-1.017 0.120,-1.030 C0.168,-1.043 0.270,-1.038 0.320,-1.020 C0.370,-1.002 0.400,-0.970 0.420,-0.920 C0.440,-0.870 0.423,-0.773 0.440,-0.720 C0.457,-0.667 0.473,-0.630 0.520,-0.600 C0.567,-0.570 0.663,-0.573 0.720,-0.540 C0.777,-0.507 0.822,-0.450 0.860,-0.400 C0.898,-0.350 0.907,-0.288 0.950,-0.240 C0.993,-0.192 1.050,-0.150 1.120,-0.110 C1.190,-0.070 1.328,-0.018 1.370,0.000 C1.328,0.018 1.190,0.070 1.120,0.110 C1.050,0.150 0.993,0.192 0.950,0.240 C0.907,0.288 0.898,0.350 0.860,0.400 C0.822,0.450 0.777,0.507 0.720,0.540 C0.663,0.573 0.567,0.570 0.520,0.600 C0.473,0.630 0.457,0.667 0.440,0.720 C0.423,0.773 0.440,0.870 0.420,0.920 C0.400,0.970 0.370,1.002 0.320,1.020 C0.270,1.038 0.168,1.043 0.120,1.030 C0.072,1.017 0.045,0.955 0.030,0.940 C0.023,0.908 -0.005,0.820 -0.010,0.750 C-0.015,0.680 -0.013,0.595 0.000,0.520 C0.013,0.445 0.030,0.368 0.070,0.300 C0.110,0.232 0.173,0.160 0.240,0.110 C0.307,0.060 0.432,0.018 0.470,0.000 C0.432,-0.018 0.307,-0.060 0.240,-0.110 C0.173,-0.160 0.110,-0.232 0.070,-0.300 C0.030,-0.368 0.013,-0.445 0.000,-0.520 C-0.013,-0.595 -0.015,-0.680 -0.010,-0.750 C-0.005,-0.820 0.023,-0.908 0.030,-0.940 Z" fill="#d94f52" stroke="#f5b4b3" stroke-width="0.7" vector-effect="non-scaling-stroke"/>
<g transform="translate(464.6,439.5) skewY(1.4) scale(41.00,18.20)"><path d="M0.054,0.000 C0.045,-0.041 0.009,-0.153 0.000,-0.245 C-0.009,-0.337 -0.009,-0.453 0.000,-0.550 C0.009,-0.647 0.027,-0.757 0.054,-0.825 C0.081,-0.892 0.121,-0.938 0.161,-0.955 C0.201,-0.972 0.255,-0.947 0.295,-0.925 C0.335,-0.903 0.371,-0.869 0.402,-0.825 C0.433,-0.781 0.456,-0.702 0.483,-0.660 C0.510,-0.618 0.536,-0.609 0.563,-0.575 C0.590,-0.541 0.619,-0.499 0.644,-0.455 C0.669,-0.411 0.691,-0.351 0.711,-0.310 C0.731,-0.269 0.749,-0.250 0.765,-0.210 C0.781,-0.170 0.796,-0.105 0.805,-0.070 C0.814,-0.035 0.818,-0.012 0.820,0.000 C0.818,0.012 0.814,0.035 0.805,0.070 C0.796,0.105 0.781,0.170 0.765,0.210 C0.749,0.250 0.731,0.269 0.711,0.310 C0.691,0.351 0.669,0.411 0.644,0.455 C0.619,0.499 0.590,0.541 0.563,0.575 C0.536,0.609 0.510,0.618 0.483,0.660 C0.456,0.702 0.433,0.781 0.402,0.825 C0.371,0.869 0.335,0.903 0.295,0.925 C0.255,0.947 0.201,0.972 0.161,0.955 C0.121,0.938 0.081,0.892 0.054,0.825 C0.027,0.757 0.009,0.647 0.000,0.550 C-0.009,0.453 -0.009,0.337 0.000,0.245 C0.009,0.153 0.045,0.041 0.054,0.000 Z" fill="#d94f52"/><path d="M0.835,-0.15 L0.895,-0.13 L0.895,0.13 L0.835,0.15 Z M0.925,-0.085 L0.962,-0.055 L0.962,0.055 L0.925,0.085 Z M0.975,-0.035 L0.995,0 L0.975,0.035 Z" fill="#d94f52"/><ellipse cx="0.241" cy="-0.370" rx="0.046" ry="0.145" fill="#fbeaf0"/><ellipse cx="0.241" cy="0.370" rx="0.046" ry="0.145" fill="#fbeaf0"/><ellipse cx="0.389" cy="-0.340" rx="0.044" ry="0.130" fill="#fbeaf0"/><ellipse cx="0.389" cy="0.340" rx="0.044" ry="0.130" fill="#fbeaf0"/><ellipse cx="0.523" cy="-0.220" rx="0.036" ry="0.100" fill="#fbeaf0"/><ellipse cx="0.523" cy="0.220" rx="0.036" ry="0.100" fill="#fbeaf0"/><ellipse cx="0.644" cy="-0.155" rx="0.025" ry="0.068" fill="#fbeaf0"/><ellipse cx="0.644" cy="0.155" rx="0.025" ry="0.068" fill="#fbeaf0"/></g>
<line x1="112.8" y1="432.8" x2="137.0" y2="471.5" stroke="#1a1a1a" stroke-width="1.5"/>
<clipPath id="f3mat"><path d="M94.3,812.5 Q94.3,797.5 109.3,797.5 L110.0,797.5 C121.7,797.5 160.0,797.2 180.0,797.5 C200.0,797.8 217.5,798.2 230.0,799.5 C242.5,800.8 248.3,803.4 255.0,805.5 C261.7,807.6 265.8,810.2 270.0,812.0 C274.2,813.8 276.2,814.4 280.0,816.0 C283.8,817.6 288.4,819.8 293.0,821.5 C297.6,823.2 299.9,825.5 307.4,826.5 C314.9,827.5 325.9,827.5 338.0,827.5 C350.1,827.5 369.8,826.5 380.0,826.5 C390.2,826.5 392.7,827.0 399.0,827.5 C405.3,828.0 411.7,828.4 418.0,829.5 C424.3,830.6 430.7,832.1 437.0,834.0 C443.3,835.9 449.7,838.9 456.0,841.0 C462.3,843.1 468.7,845.1 475.0,846.5 C481.3,847.9 487.7,849.0 494.0,849.5 C500.3,850.0 506.7,850.0 513.0,849.5 C519.3,849.0 525.8,847.8 532.0,846.5 C538.2,845.2 542.5,844.5 550.0,842.0 C557.5,839.5 568.0,835.2 577.0,831.5 C586.0,827.8 596.5,823.2 604.0,820.0 C611.5,816.8 616.0,814.5 622.0,812.5 C628.0,810.5 634.0,808.7 640.0,807.7 C646.0,806.7 650.5,806.7 658.0,806.3 C665.5,805.9 676.0,806.4 685.0,805.5 C694.0,804.6 704.5,802.5 712.0,801.0 C719.5,799.5 724.0,797.8 730.0,796.5 C736.0,795.2 742.0,794.8 748.0,793.5 C754.0,792.2 758.7,791.2 766.0,789.0 C773.3,786.8 786.5,779.7 792.0,780.0 C797.5,780.3 796.7,788.6 799.3,791.0 C801.9,793.4 804.5,793.8 807.4,794.5 C810.2,795.2 812.8,795.7 816.4,795.0 C820.0,794.3 822.4,791.8 829.0,790.5 C835.6,789.2 849.8,787.8 856.0,787.0 C862.2,786.2 862.3,786.0 866.0,786.0 C869.7,786.0 873.9,786.5 878.0,786.8 C882.1,787.0 888.4,787.4 890.5,787.5 L891.0,787.5 Q906.0,787.5 906.0,802.5 L906.0,861.5 Q906.0,876.5 891.0,876.5 L109.3,876.5 Q94.3,876.5 94.3,861.5 Z"/></clipPath>
<path d="M94.3,812.5 Q94.3,797.5 109.3,797.5 L110.0,797.5 C121.7,797.5 160.0,797.2 180.0,797.5 C200.0,797.8 217.5,798.2 230.0,799.5 C242.5,800.8 248.3,803.4 255.0,805.5 C261.7,807.6 265.8,810.2 270.0,812.0 C274.2,813.8 276.2,814.4 280.0,816.0 C283.8,817.6 288.4,819.8 293.0,821.5 C297.6,823.2 299.9,825.5 307.4,826.5 C314.9,827.5 325.9,827.5 338.0,827.5 C350.1,827.5 369.8,826.5 380.0,826.5 C390.2,826.5 392.7,827.0 399.0,827.5 C405.3,828.0 411.7,828.4 418.0,829.5 C424.3,830.6 430.7,832.1 437.0,834.0 C443.3,835.9 449.7,838.9 456.0,841.0 C462.3,843.1 468.7,845.1 475.0,846.5 C481.3,847.9 487.7,849.0 494.0,849.5 C500.3,850.0 506.7,850.0 513.0,849.5 C519.3,849.0 525.8,847.8 532.0,846.5 C538.2,845.2 542.5,844.5 550.0,842.0 C557.5,839.5 568.0,835.2 577.0,831.5 C586.0,827.8 596.5,823.2 604.0,820.0 C611.5,816.8 616.0,814.5 622.0,812.5 C628.0,810.5 634.0,808.7 640.0,807.7 C646.0,806.7 650.5,806.7 658.0,806.3 C665.5,805.9 676.0,806.4 685.0,805.5 C694.0,804.6 704.5,802.5 712.0,801.0 C719.5,799.5 724.0,797.8 730.0,796.5 C736.0,795.2 742.0,794.8 748.0,793.5 C754.0,792.2 758.7,791.2 766.0,789.0 C773.3,786.8 786.5,779.7 792.0,780.0 C797.5,780.3 796.7,788.6 799.3,791.0 C801.9,793.4 804.5,793.8 807.4,794.5 C810.2,795.2 812.8,795.7 816.4,795.0 C820.0,794.3 822.4,791.8 829.0,790.5 C835.6,789.2 849.8,787.8 856.0,787.0 C862.2,786.2 862.3,786.0 866.0,786.0 C869.7,786.0 873.9,786.5 878.0,786.8 C882.1,787.0 888.4,787.4 890.5,787.5 L891.0,787.5 Q906.0,787.5 906.0,802.5 L906.0,861.5 Q906.0,876.5 891.0,876.5 L109.3,876.5 Q94.3,876.5 94.3,861.5 Z" fill="#e4f3fc"/>
<path d="M92.3,757.5 L908.0,747.5 L908.0,799.0 L908.0,799.0 C906.7,798.5 902.7,796.7 900.0,796.0 C897.3,795.3 896.3,795.0 892.0,795.0 C887.7,795.0 879.4,795.2 874.0,796.0 C868.6,796.8 865.0,798.1 859.6,799.6 C854.2,801.1 847.6,803.4 841.6,805.0 C835.6,806.6 829.6,808.9 823.6,809.5 C817.6,810.1 810.7,809.6 805.6,808.6 C800.5,807.6 799.6,804.6 793.0,803.2 C786.4,801.9 775.0,800.1 766.0,800.5 C757.0,800.9 745.0,803.8 739.0,805.5 C733.0,807.2 734.5,809.1 730.0,810.6 C725.5,812.1 719.5,812.9 712.0,814.2 C704.5,815.6 694.0,817.8 685.0,818.7 C676.0,819.6 665.5,819.2 658.0,819.6 C650.5,820.0 646.0,820.3 640.0,821.4 C634.0,822.5 628.0,824.2 622.0,826.0 C616.0,827.8 613.0,828.2 604.0,832.2 C595.0,836.2 577.0,846.1 568.0,850.0 C559.0,853.9 556.0,853.8 550.0,855.6 C544.0,857.4 538.2,859.3 532.0,860.6 C525.8,861.9 519.3,863.2 513.0,863.5 C506.7,863.8 500.3,863.3 494.0,862.5 C487.7,861.7 481.3,860.5 475.0,858.7 C468.7,857.0 462.3,854.2 456.0,852.0 C449.7,849.8 443.3,847.1 437.0,845.4 C430.7,843.7 427.5,842.7 418.0,841.6 C408.5,840.5 393.3,839.3 380.0,838.7 C366.7,838.1 349.7,838.1 338.0,838.0 C326.3,837.9 318.0,838.5 310.0,838.0 C302.0,837.5 296.7,837.0 290.0,835.0 C283.3,833.0 276.7,829.3 270.0,826.0 C263.3,822.7 256.7,817.6 250.0,815.0 C243.3,812.4 237.5,811.3 230.0,810.5 C222.5,809.7 218.3,810.2 205.0,810.0 C191.7,809.8 166.8,809.0 150.0,809.0 C133.2,809.0 113.2,807.2 104.0,810.0 C94.8,812.8 97.3,821.3 95.0,826.0 C92.7,830.7 90.8,836.0 90.0,838.0 L92.3,838.0 Z" fill="#b7dcee" clip-path="url(#f3mat)"/>
<path d="M94.3,812.5 Q94.3,797.5 109.3,797.5 L110.0,797.5 C121.7,797.5 160.0,797.2 180.0,797.5 C200.0,797.8 217.5,798.2 230.0,799.5 C242.5,800.8 248.3,803.4 255.0,805.5 C261.7,807.6 265.8,810.2 270.0,812.0 C274.2,813.8 276.2,814.4 280.0,816.0 C283.8,817.6 288.4,819.8 293.0,821.5 C297.6,823.2 299.9,825.5 307.4,826.5 C314.9,827.5 325.9,827.5 338.0,827.5 C350.1,827.5 369.8,826.5 380.0,826.5 C390.2,826.5 392.7,827.0 399.0,827.5 C405.3,828.0 411.7,828.4 418.0,829.5 C424.3,830.6 430.7,832.1 437.0,834.0 C443.3,835.9 449.7,838.9 456.0,841.0 C462.3,843.1 468.7,845.1 475.0,846.5 C481.3,847.9 487.7,849.0 494.0,849.5 C500.3,850.0 506.7,850.0 513.0,849.5 C519.3,849.0 525.8,847.8 532.0,846.5 C538.2,845.2 542.5,844.5 550.0,842.0 C557.5,839.5 568.0,835.2 577.0,831.5 C586.0,827.8 596.5,823.2 604.0,820.0 C611.5,816.8 616.0,814.5 622.0,812.5 C628.0,810.5 634.0,808.7 640.0,807.7 C646.0,806.7 650.5,806.7 658.0,806.3 C665.5,805.9 676.0,806.4 685.0,805.5 C694.0,804.6 704.5,802.5 712.0,801.0 C719.5,799.5 724.0,797.8 730.0,796.5 C736.0,795.2 742.0,794.8 748.0,793.5 C754.0,792.2 758.7,791.2 766.0,789.0 C773.3,786.8 786.5,779.7 792.0,780.0 C797.5,780.3 796.7,788.6 799.3,791.0 C801.9,793.4 804.5,793.8 807.4,794.5 C810.2,795.2 812.8,795.7 816.4,795.0 C820.0,794.3 822.4,791.8 829.0,790.5 C835.6,789.2 849.8,787.8 856.0,787.0 C862.2,786.2 862.3,786.0 866.0,786.0 C869.7,786.0 873.9,786.5 878.0,786.8 C882.1,787.0 888.4,787.4 890.5,787.5 L891.0,787.5 Q906.0,787.5 906.0,802.5 L906.0,861.5 Q906.0,876.5 891.0,876.5 L109.3,876.5 Q94.3,876.5 94.3,861.5 Z" fill="none" stroke="#50616d" stroke-width="1.25"/>
<path d="M740.0,738.5 C742.8,739.4 751.2,742.5 757.0,743.8 C762.8,745.1 769.0,745.8 775.0,746.5 C781.0,747.2 787.6,747.8 793.0,747.8 C798.4,747.8 802.9,746.6 807.4,746.5 C811.9,746.4 814.9,746.8 820.0,747.4 C825.1,748.0 832.6,749.5 838.0,750.1 C843.4,750.7 848.7,750.6 852.4,751.0 C856.1,751.4 858.7,752.2 860.0,752.5 C859.7,753.8 868.0,757.8 858.0,760.0 C848.0,762.2 819.7,765.2 800.0,766.0 C780.3,766.8 750.0,765.2 740.0,765.0 Z" fill="#fcddd3" stroke="#932f30" stroke-width="1.35" stroke-linejoin="round"/>
<path d="M750.0,762.5 C752.1,762.7 756.7,763.6 762.4,763.6 C768.1,763.6 775.9,763.0 784.0,762.2 C792.1,761.5 802.0,760.2 811.0,759.1 C820.0,758.0 830.5,756.9 838.0,755.5 C845.5,754.1 850.6,752.0 856.0,751.0 C861.4,750.0 866.8,749.8 870.4,749.6 C874.0,749.4 876.4,749.6 877.6,749.6 C878.2,749.9 880.4,750.4 881.0,751.2 C881.6,752.0 881.6,753.3 881.5,754.5 C881.4,755.7 881.0,757.4 880.5,758.5 C880.0,759.6 878.8,760.6 878.5,761.0 C878.8,761.4 879.9,762.6 880.0,763.5 C880.1,764.4 879.9,765.5 879.4,766.5 C878.9,767.5 877.2,768.9 876.7,769.4 C877.0,769.8 878.2,770.9 878.3,771.8 C878.4,772.6 878.0,773.7 877.5,774.5 C877.0,775.3 875.4,776.2 875.0,776.6 C875.2,777.0 876.2,778.0 876.2,778.8 C876.2,779.6 875.7,780.8 875.0,781.5 C874.3,782.2 872.7,782.8 872.2,783.0 C872.4,783.3 873.4,784.3 873.2,785.0 C873.0,785.7 872.1,786.8 871.0,787.3 C869.9,787.8 867.5,787.9 866.8,788.0 C865.0,788.2 860.5,789.0 856.0,789.2 C851.5,789.4 844.6,788.5 840.0,789.0 C835.4,789.5 831.3,790.8 828.3,792.0 C825.3,793.2 824.5,795.0 822.0,796.0 C819.5,797.0 816.0,797.7 813.0,797.7 C810.0,797.7 806.5,797.0 804.0,796.0 C801.5,795.0 799.2,793.0 797.7,791.9 C796.2,790.8 795.5,789.8 795.0,789.4 C792.8,789.6 786.3,790.1 781.5,790.5 C776.7,790.9 771.5,791.2 766.2,791.9 C761.0,792.6 752.7,794.1 750.0,794.6 Z" fill="#fcddd3" stroke="#932f30" stroke-width="1.35" stroke-linejoin="round"/>
<path d="M759.0,754.0 C764.2,754.3 779.8,755.9 790.0,756.0 C800.2,756.1 810.8,754.9 820.0,754.5 C829.2,754.1 839.0,753.9 845.0,753.5 C851.0,753.1 857.2,751.5 856.0,752.0 C854.8,752.5 845.5,754.9 838.0,756.2 C830.5,757.5 820.0,758.7 811.0,759.8 C802.0,760.9 792.5,762.1 784.0,762.8 C775.5,763.5 764.0,763.6 760.0,763.8 Z" fill="#f4c4b5" opacity="0.6"/>
<clipPath id="f3ft"><path d="M750.0,762.5 C752.1,762.7 756.7,763.6 762.4,763.6 C768.1,763.6 775.9,763.0 784.0,762.2 C792.1,761.5 802.0,760.2 811.0,759.1 C820.0,758.0 830.5,756.9 838.0,755.5 C845.5,754.1 850.6,752.0 856.0,751.0 C861.4,750.0 866.8,749.8 870.4,749.6 C874.0,749.4 876.4,749.6 877.6,749.6 C878.2,749.9 880.4,750.4 881.0,751.2 C881.6,752.0 881.6,753.3 881.5,754.5 C881.4,755.7 881.0,757.4 880.5,758.5 C880.0,759.6 878.8,760.6 878.5,761.0 C878.8,761.4 879.9,762.6 880.0,763.5 C880.1,764.4 879.9,765.5 879.4,766.5 C878.9,767.5 877.2,768.9 876.7,769.4 C877.0,769.8 878.2,770.9 878.3,771.8 C878.4,772.6 878.0,773.7 877.5,774.5 C877.0,775.3 875.4,776.2 875.0,776.6 C875.2,777.0 876.2,778.0 876.2,778.8 C876.2,779.6 875.7,780.8 875.0,781.5 C874.3,782.2 872.7,782.8 872.2,783.0 C872.4,783.3 873.4,784.3 873.2,785.0 C873.0,785.7 872.1,786.8 871.0,787.3 C869.9,787.8 867.5,787.9 866.8,788.0 C865.0,788.2 860.5,789.0 856.0,789.2 C851.5,789.4 844.6,788.5 840.0,789.0 C835.4,789.5 831.3,790.8 828.3,792.0 C825.3,793.2 824.5,795.0 822.0,796.0 C819.5,797.0 816.0,797.7 813.0,797.7 C810.0,797.7 806.5,797.0 804.0,796.0 C801.5,795.0 799.2,793.0 797.7,791.9 C796.2,790.8 795.5,789.8 795.0,789.4 C792.8,789.6 786.3,790.1 781.5,790.5 C776.7,790.9 771.5,791.2 766.2,791.9 C761.0,792.6 752.7,794.1 750.0,794.6 Z"/></clipPath>
<path d="M760.0,777.0 C763.3,777.1 774.5,777.5 780.0,777.5 C785.5,777.5 788.7,777.6 793.0,777.0 C797.3,776.4 799.3,775.2 805.6,774.0 C811.9,772.8 823.0,772.0 830.8,770.0 C838.6,768.0 846.5,764.5 852.4,762.0 C858.3,759.5 860.6,756.6 866.0,755.0 C871.4,753.4 881.8,752.9 885.0,752.5 L885.0,805.0 L760.0,805.0 Z" fill="#f4c4b5" opacity="0.6" clip-path="url(#f3ft)"/>
<path d="M750.0,762.5 C752.1,762.7 756.7,763.6 762.4,763.6 C768.1,763.6 775.9,763.0 784.0,762.2 C792.1,761.5 802.0,760.2 811.0,759.1 C820.0,758.0 830.5,756.9 838.0,755.5 C845.5,754.1 850.6,752.0 856.0,751.0 C861.4,750.0 866.8,749.8 870.4,749.6 C874.0,749.4 876.4,749.6 877.6,749.6 C878.2,749.9 880.4,750.4 881.0,751.2 C881.6,752.0 881.6,753.3 881.5,754.5 C881.4,755.7 881.0,757.4 880.5,758.5 C880.0,759.6 878.8,760.6 878.5,761.0 C878.8,761.4 879.9,762.6 880.0,763.5 C880.1,764.4 879.9,765.5 879.4,766.5 C878.9,767.5 877.2,768.9 876.7,769.4 C877.0,769.8 878.2,770.9 878.3,771.8 C878.4,772.6 878.0,773.7 877.5,774.5 C877.0,775.3 875.4,776.2 875.0,776.6 C875.2,777.0 876.2,778.0 876.2,778.8 C876.2,779.6 875.7,780.8 875.0,781.5 C874.3,782.2 872.7,782.8 872.2,783.0 C872.4,783.3 873.4,784.3 873.2,785.0 C873.0,785.7 872.1,786.8 871.0,787.3 C869.9,787.8 867.5,787.9 866.8,788.0 C865.0,788.2 860.5,789.0 856.0,789.2 C851.5,789.4 844.6,788.5 840.0,789.0 C835.4,789.5 831.3,790.8 828.3,792.0 C825.3,793.2 824.5,795.0 822.0,796.0 C819.5,797.0 816.0,797.7 813.0,797.7 C810.0,797.7 806.5,797.0 804.0,796.0 C801.5,795.0 799.2,793.0 797.7,791.9 C796.2,790.8 795.5,789.8 795.0,789.4 C792.8,789.6 786.3,790.1 781.5,790.5 C776.7,790.9 771.5,791.2 766.2,791.9 C761.0,792.6 752.7,794.1 750.0,794.6 Z" fill="none" stroke="#932f30" stroke-width="1.35" stroke-linejoin="round"/>
<path d="M869.4,755.7 C869.3,756.9 869.2,760.3 868.8,762.9 C868.4,765.5 867.8,768.6 867.0,771.3 C866.2,774.0 864.9,777.1 864.0,779.1 C863.1,781.1 862.0,782.6 861.6,783.3" fill="none" stroke="#932f30" stroke-width="1.0" stroke-linecap="round"/>
<path d="M791.9,782.0 C792.4,782.7 794.2,784.7 795.0,786.0 C795.8,787.3 796.5,789.2 796.8,789.8" fill="none" stroke="#932f30" stroke-width="1.25" stroke-linecap="round"/>
<path d="M829.2,783.0 C829.1,784.2 829.2,788.2 828.5,790.0 C827.8,791.8 826.2,793.0 825.0,794.0 C823.8,795.0 821.7,795.9 821.0,796.3" fill="none" stroke="#b5824d" stroke-width="1.3" stroke-linecap="round"/>
<path d="M878.5,761.0 L869.3,761.1" fill="none" stroke="#932f30" stroke-width="1.1" stroke-linecap="round"/>
<path d="M876.7,769.4 L868.0,768.2" fill="none" stroke="#932f30" stroke-width="1.1" stroke-linecap="round"/>
<path d="M875.0,776.6 L866.0,775.0" fill="none" stroke="#932f30" stroke-width="1.1" stroke-linecap="round"/>
<path d="M872.2,783.0 L863.5,780.8" fill="none" stroke="#932f30" stroke-width="1.1" stroke-linecap="round"/>
<path d="M245.0,730.0 C245.5,729.7 246.6,728.1 248.0,728.0 C249.4,727.9 251.4,729.2 253.4,729.3 C255.4,729.4 257.9,729.0 260.0,728.5 C262.1,728.0 264.0,727.6 266.0,726.6 C268.0,725.6 270.2,724.0 272.0,722.5 C273.8,721.0 275.3,719.5 276.8,717.6 C278.3,715.7 279.8,713.1 281.0,711.0 C282.2,708.9 283.0,707.2 284.0,705.0 C285.0,702.8 286.1,699.9 287.0,697.5 C287.9,695.1 288.5,692.6 289.4,690.6 C290.3,688.6 291.3,687.0 292.5,685.5 C293.7,684.0 295.1,682.8 296.6,681.6 C298.1,680.4 299.7,679.2 301.5,678.3 C303.3,677.4 303.7,676.7 307.4,676.2 C311.1,675.7 317.0,674.5 323.6,675.3 C330.2,676.0 338.6,678.3 347.0,680.7 C355.4,683.1 366.8,687.1 374.0,689.7 C381.2,692.3 385.8,694.5 390.0,696.5 C394.2,698.5 394.3,698.8 399.0,701.5 C403.7,704.2 412.9,709.9 418.0,713.0 C423.1,716.1 426.3,717.9 429.4,720.0 C432.5,722.1 435.5,724.7 436.7,725.6 C436.6,726.1 437.5,727.6 436.0,728.5 C434.5,729.4 432.1,730.2 427.5,730.8 C422.9,731.4 414.8,732.7 408.5,732.3 C402.2,731.9 394.2,729.8 389.5,728.5 C384.8,727.2 384.5,726.8 380.0,724.7 C375.5,722.6 368.0,718.7 362.5,716.0 C357.0,713.3 350.2,710.0 347.0,708.5 C343.8,707.0 343.7,707.2 343.0,707.0 L332.0,829.0 C327.9,829.0 313.9,830.1 307.4,829.2 C300.9,828.3 297.5,826.2 293.0,823.8 C288.5,821.4 283.7,817.9 280.4,814.8 C277.1,811.7 275.6,808.6 273.2,805.0 C270.8,801.4 268.1,796.7 266.0,793.2 C263.9,789.7 262.1,787.1 260.6,784.2 C259.1,781.3 257.6,777.4 257.0,776.0 Z" fill="#fcddd3" stroke="#932f30" stroke-width="1.35" stroke-linejoin="round"/>
<path d="M322.0,701.5 C325.0,701.6 333.7,700.9 340.0,702.0 C346.3,703.1 353.3,705.6 360.0,708.0 C366.7,710.4 373.7,713.8 380.0,716.5 C386.3,719.2 392.3,722.0 398.0,724.0 C403.7,726.0 409.0,727.6 414.0,728.5 C419.0,729.4 425.8,729.2 428.0,729.5 C430.2,729.8 430.8,729.9 427.5,730.2 C424.2,730.6 414.8,732.0 408.5,731.6 C402.2,731.2 394.2,729.1 389.5,727.8 C384.8,726.5 384.5,726.1 380.0,724.0 C375.5,721.9 368.0,718.0 362.5,715.3 C357.0,712.6 351.7,709.6 347.0,707.8 C342.3,706.0 336.5,705.0 334.4,704.5 Z" fill="#f3c2b3"/>
<path d="M288.5,696.0 C290.8,697.5 296.8,702.5 302.0,705.0 C307.2,707.5 314.6,709.8 320.0,711.3 C325.4,712.8 331.8,713.5 334.2,714.0 L333.7,719.4 C331.4,718.8 325.3,717.4 320.0,715.8 C314.7,714.1 306.9,712.0 302.0,709.5 C297.1,707.0 292.2,702.0 290.3,700.5 Z" fill="#fbc6c4" stroke="#932f30" stroke-width="1.2" stroke-linejoin="round"/>
<path d="M273.2,804.9 C275.9,806.1 282.6,810.2 289.4,812.0 C296.2,813.8 309.8,815.1 313.9,815.7 L312.0,821.0 C308.8,820.6 298.6,819.7 293.0,818.4 C287.4,817.1 281.0,813.9 278.6,813.0 Z" fill="#fbc6c4" stroke="#932f30" stroke-width="1.2" stroke-linejoin="round"/>
<clipPath id="f3pan"><path d="M334.4,705.0 C336.5,705.6 342.3,706.7 347.0,708.5 C351.7,710.3 357.0,713.3 362.5,716.0 C368.0,718.7 375.5,722.6 380.0,724.7 C384.5,726.8 384.8,727.2 389.5,728.5 C394.2,729.8 402.2,731.9 408.5,732.3 C414.8,732.7 422.9,731.5 427.5,730.8 C432.1,730.1 434.6,728.5 436.0,728.0 C436.8,727.6 439.2,726.2 441.0,725.5 C442.8,724.8 445.6,724.2 446.5,724.0 C447.2,726.7 449.2,734.7 450.5,740.0 C451.8,745.3 452.9,750.8 454.0,756.0 C455.1,761.2 456.2,765.9 457.0,771.0 C457.8,776.1 458.6,781.7 459.0,786.5 C459.4,791.3 459.5,795.6 459.5,800.0 C459.5,804.4 459.2,808.3 459.0,813.0 C458.8,817.7 458.5,822.9 458.0,828.0 C457.5,833.1 456.3,840.9 456.0,843.5 C452.8,842.4 443.3,838.7 437.0,836.8 C430.7,834.9 424.3,833.1 418.0,832.0 C411.7,830.9 405.3,830.7 399.0,830.2 C392.7,829.7 386.5,829.1 380.0,829.0 C373.5,828.9 367.0,829.3 360.0,829.5 C353.0,829.7 344.7,830.0 338.0,830.0 C331.3,830.0 325.1,829.7 320.0,829.6 C314.9,829.5 309.5,829.3 307.4,829.2 C309.2,825.0 315.2,811.8 318.2,804.0 C321.2,796.2 323.3,790.8 325.4,782.4 C327.5,774.0 329.4,762.0 330.8,753.6 C332.2,745.2 332.9,740.1 333.5,732.0 C334.1,723.9 334.2,709.5 334.4,705.0 Z"/></clipPath>
<path d="M334.4,705.0 C336.5,705.6 342.3,706.7 347.0,708.5 C351.7,710.3 357.0,713.3 362.5,716.0 C368.0,718.7 375.5,722.6 380.0,724.7 C384.5,726.8 384.8,727.2 389.5,728.5 C394.2,729.8 402.2,731.9 408.5,732.3 C414.8,732.7 422.9,731.5 427.5,730.8 C432.1,730.1 434.6,728.5 436.0,728.0 C436.8,727.6 439.2,726.2 441.0,725.5 C442.8,724.8 445.6,724.2 446.5,724.0 C447.2,726.7 449.2,734.7 450.5,740.0 C451.8,745.3 452.9,750.8 454.0,756.0 C455.1,761.2 456.2,765.9 457.0,771.0 C457.8,776.1 458.6,781.7 459.0,786.5 C459.4,791.3 459.5,795.6 459.5,800.0 C459.5,804.4 459.2,808.3 459.0,813.0 C458.8,817.7 458.5,822.9 458.0,828.0 C457.5,833.1 456.3,840.9 456.0,843.5 C452.8,842.4 443.3,838.7 437.0,836.8 C430.7,834.9 424.3,833.1 418.0,832.0 C411.7,830.9 405.3,830.7 399.0,830.2 C392.7,829.7 386.5,829.1 380.0,829.0 C373.5,828.9 367.0,829.3 360.0,829.5 C353.0,829.7 344.7,830.0 338.0,830.0 C331.3,830.0 325.1,829.7 320.0,829.6 C314.9,829.5 309.5,829.3 307.4,829.2 C309.2,825.0 315.2,811.8 318.2,804.0 C321.2,796.2 323.3,790.8 325.4,782.4 C327.5,774.0 329.4,762.0 330.8,753.6 C332.2,745.2 332.9,740.1 333.5,732.0 C334.1,723.9 334.2,709.5 334.4,705.0 Z" fill="#fcc9c8"/>
<path d="M300.0,814.0 C303.0,812.9 311.9,809.6 318.2,807.6 C324.5,805.6 330.2,803.7 338.0,802.2 C345.8,800.7 356.3,799.4 365.0,798.6 C373.7,797.9 381.7,797.5 390.0,797.7 C398.3,797.9 406.7,798.8 415.0,800.0 C423.3,801.2 432.5,803.2 440.0,805.0 C447.5,806.8 455.1,809.3 459.8,811.0 C464.5,812.7 466.6,814.3 468.0,815.0 L468.0,895.0 L300.0,894.0 Z" fill="#f9afaf" clip-path="url(#f3pan)"/>
<path d="M334.4,705.0 C336.5,705.6 342.3,706.7 347.0,708.5 C351.7,710.3 357.0,713.3 362.5,716.0 C368.0,718.7 375.5,722.6 380.0,724.7 C384.5,726.8 384.8,727.2 389.5,728.5 C394.2,729.8 402.2,731.9 408.5,732.3 C414.8,732.7 422.9,731.5 427.5,730.8 C432.1,730.1 434.6,728.5 436.0,728.0 C436.8,727.6 439.2,726.2 441.0,725.5 C442.8,724.8 445.6,724.2 446.5,724.0 C447.2,726.7 449.2,734.7 450.5,740.0 C451.8,745.3 452.9,750.8 454.0,756.0 C455.1,761.2 456.2,765.9 457.0,771.0 C457.8,776.1 458.6,781.7 459.0,786.5 C459.4,791.3 459.5,795.6 459.5,800.0 C459.5,804.4 459.2,808.3 459.0,813.0 C458.8,817.7 458.5,822.9 458.0,828.0 C457.5,833.1 456.3,840.9 456.0,843.5 C452.8,842.4 443.3,838.7 437.0,836.8 C430.7,834.9 424.3,833.1 418.0,832.0 C411.7,830.9 405.3,830.7 399.0,830.2 C392.7,829.7 386.5,829.1 380.0,829.0 C373.5,828.9 367.0,829.3 360.0,829.5 C353.0,829.7 344.7,830.0 338.0,830.0 C331.3,830.0 325.1,829.7 320.0,829.6 C314.9,829.5 309.5,829.3 307.4,829.2 C309.2,825.0 315.2,811.8 318.2,804.0 C321.2,796.2 323.3,790.8 325.4,782.4 C327.5,774.0 329.4,762.0 330.8,753.6 C332.2,745.2 332.9,740.1 333.5,732.0 C334.1,723.9 334.2,709.5 334.4,705.0 Z" fill="none" stroke="#932f30" stroke-width="1.35" stroke-linejoin="round"/>
<path d="M320.0,701.4 C321.2,701.8 324.6,702.9 327.0,703.5 C329.4,704.1 333.2,704.8 334.4,705.0" fill="none" stroke="#932f30" stroke-width="1.35" stroke-linecap="round"/>
<clipPath id="f3pt"><path d="M446.5,724.0 C449.0,722.7 456.3,718.7 461.7,716.0 C467.1,713.3 473.5,709.6 478.9,707.6 C484.3,705.6 488.3,704.6 494.0,703.8 C499.7,703.0 506.7,702.6 513.0,702.8 C519.3,702.9 525.8,703.7 532.0,704.7 C538.2,705.7 544.0,707.4 550.0,708.9 C556.0,710.4 562.0,712.4 568.0,714.0 C574.0,715.6 580.7,717.5 586.0,718.8 C591.3,720.1 595.5,720.9 600.0,721.8 C604.5,722.7 607.8,723.5 613.0,724.2 C618.2,724.9 625.0,726.0 631.0,726.0 C637.0,726.0 643.7,724.7 649.0,724.2 C654.3,723.7 658.5,723.3 663.0,723.0 C667.5,722.7 671.5,722.3 676.0,722.4 C680.5,722.5 685.5,722.9 690.0,723.5 C694.5,724.1 698.5,724.9 703.0,726.0 C707.5,727.1 712.5,728.5 717.0,730.0 C721.5,731.5 725.3,733.3 730.0,735.0 C734.7,736.7 740.5,738.5 745.0,740.0 C749.5,741.5 755.0,743.2 757.0,743.8 L757.4,762.2 L762.4,763.6 C762.8,766.0 764.4,773.3 765.0,778.0 C765.6,782.7 766.0,789.6 766.2,791.9 C763.5,792.4 756.0,793.4 750.0,794.6 C744.0,795.8 736.3,797.8 730.0,799.3 C723.7,800.8 719.5,801.9 712.0,803.4 C704.5,804.9 694.0,807.1 685.0,808.0 C676.0,808.9 665.5,808.4 658.0,808.8 C650.5,809.2 646.0,809.2 640.0,810.2 C634.0,811.2 628.0,813.0 622.0,815.0 C616.0,817.0 609.3,820.0 604.0,822.3 C598.7,824.5 594.5,826.5 590.0,828.5 C585.5,830.5 581.5,832.1 577.0,834.0 C572.5,835.9 567.5,838.2 563.0,840.0 C558.5,841.8 555.2,843.3 550.0,844.8 C544.8,846.3 538.2,848.0 532.0,849.2 C525.8,850.4 519.3,851.5 513.0,852.0 C506.7,852.5 500.3,852.5 494.0,852.0 C487.7,851.5 481.3,850.6 475.0,849.2 C468.7,847.8 459.2,844.5 456.0,843.5 C456.3,840.9 457.5,833.1 458.0,828.0 C458.5,822.9 458.8,817.7 459.0,813.0 C459.2,808.3 459.5,804.4 459.5,800.0 C459.5,795.6 459.4,791.3 459.0,786.5 C458.6,781.7 457.8,776.1 457.0,771.0 C456.2,765.9 455.1,761.2 454.0,756.0 C452.9,750.8 451.8,745.3 450.5,740.0 C449.2,734.7 447.2,726.7 446.5,724.0 Z"/></clipPath>
<path d="M446.5,724.0 C449.0,722.7 456.3,718.7 461.7,716.0 C467.1,713.3 473.5,709.6 478.9,707.6 C484.3,705.6 488.3,704.6 494.0,703.8 C499.7,703.0 506.7,702.6 513.0,702.8 C519.3,702.9 525.8,703.7 532.0,704.7 C538.2,705.7 544.0,707.4 550.0,708.9 C556.0,710.4 562.0,712.4 568.0,714.0 C574.0,715.6 580.7,717.5 586.0,718.8 C591.3,720.1 595.5,720.9 600.0,721.8 C604.5,722.7 607.8,723.5 613.0,724.2 C618.2,724.9 625.0,726.0 631.0,726.0 C637.0,726.0 643.7,724.7 649.0,724.2 C654.3,723.7 658.5,723.3 663.0,723.0 C667.5,722.7 671.5,722.3 676.0,722.4 C680.5,722.5 685.5,722.9 690.0,723.5 C694.5,724.1 698.5,724.9 703.0,726.0 C707.5,727.1 712.5,728.5 717.0,730.0 C721.5,731.5 725.3,733.3 730.0,735.0 C734.7,736.7 740.5,738.5 745.0,740.0 C749.5,741.5 755.0,743.2 757.0,743.8 L757.4,762.2 L762.4,763.6 C762.8,766.0 764.4,773.3 765.0,778.0 C765.6,782.7 766.0,789.6 766.2,791.9 C763.5,792.4 756.0,793.4 750.0,794.6 C744.0,795.8 736.3,797.8 730.0,799.3 C723.7,800.8 719.5,801.9 712.0,803.4 C704.5,804.9 694.0,807.1 685.0,808.0 C676.0,808.9 665.5,808.4 658.0,808.8 C650.5,809.2 646.0,809.2 640.0,810.2 C634.0,811.2 628.0,813.0 622.0,815.0 C616.0,817.0 609.3,820.0 604.0,822.3 C598.7,824.5 594.5,826.5 590.0,828.5 C585.5,830.5 581.5,832.1 577.0,834.0 C572.5,835.9 567.5,838.2 563.0,840.0 C558.5,841.8 555.2,843.3 550.0,844.8 C544.8,846.3 538.2,848.0 532.0,849.2 C525.8,850.4 519.3,851.5 513.0,852.0 C506.7,852.5 500.3,852.5 494.0,852.0 C487.7,851.5 481.3,850.6 475.0,849.2 C468.7,847.8 459.2,844.5 456.0,843.5 C456.3,840.9 457.5,833.1 458.0,828.0 C458.5,822.9 458.8,817.7 459.0,813.0 C459.2,808.3 459.5,804.4 459.5,800.0 C459.5,795.6 459.4,791.3 459.0,786.5 C458.6,781.7 457.8,776.1 457.0,771.0 C456.2,765.9 455.1,761.2 454.0,756.0 C452.9,750.8 451.8,745.3 450.5,740.0 C449.2,734.7 447.2,726.7 446.5,724.0 Z" fill="#e6d5f3"/>
<path d="M455.0,811.0 C455.8,811.0 455.8,810.3 459.8,811.0 C463.8,811.7 472.5,814.5 478.9,815.0 C485.2,815.5 492.2,815.0 497.9,814.0 C503.6,813.0 508.9,811.7 513.0,809.3 C517.1,806.9 520.7,803.6 522.6,799.8 C524.5,796.0 523.9,790.6 524.5,786.5 C525.1,782.4 525.0,779.1 526.0,775.0 C527.0,770.9 529.1,765.5 530.2,761.7 C531.3,757.9 531.9,755.2 532.5,752.0 C533.1,748.8 533.5,745.9 534.0,742.7 C534.5,739.5 535.0,735.7 535.5,733.0 C536.0,730.3 536.0,728.1 536.8,726.6 C537.5,725.1 538.9,724.3 540.0,724.0 C541.1,723.7 542.3,724.2 543.5,724.7 C544.7,725.2 545.8,726.2 547.0,727.0 C548.2,727.8 548.3,728.8 551.0,729.6 C553.7,730.4 558.7,731.3 563.0,732.0 C567.3,732.7 570.2,732.9 577.0,734.0 C583.8,735.1 595.0,736.9 604.0,738.6 C613.0,740.3 623.5,742.8 631.0,744.0 C638.5,745.2 643.0,745.8 649.0,745.8 C655.0,745.8 659.5,744.0 667.0,744.0 C674.5,744.0 686.5,744.9 694.0,745.8 C701.5,746.7 706.0,747.9 712.0,749.4 C718.0,750.9 723.7,753.4 730.0,754.8 C736.3,756.2 744.2,757.1 750.0,758.0 C755.8,758.9 762.5,759.7 765.0,760.0 L775.0,760.0 L775.0,870.0 L440.0,870.0 Z" fill="#cbbdeb" clip-path="url(#f3pt)"/>
<path d="M568.0,769.0 C571.0,768.4 580.0,766.5 586.0,765.6 C592.0,764.7 598.0,764.1 604.0,763.5 C610.0,762.9 616.0,762.5 622.0,762.0 C628.0,761.5 634.0,761.0 640.0,760.5 C646.0,760.0 650.5,759.6 658.0,759.3 C665.5,758.9 676.0,758.4 685.0,758.4 C694.0,758.4 704.5,758.9 712.0,759.3 C719.5,759.7 724.5,760.5 730.0,761.0 C735.5,761.5 739.6,761.8 745.0,762.2 C750.4,762.6 759.5,763.4 762.4,763.6 L764.5,779.0 C762.1,778.4 755.8,776.5 750.0,775.5 C744.2,774.5 737.8,773.8 730.0,772.8 C722.2,771.8 712.0,770.0 703.0,769.2 C694.0,768.5 685.0,768.2 676.0,768.3 C667.0,768.4 658.0,769.9 649.0,770.0 C640.0,770.1 632.5,769.3 622.0,769.2 C611.5,769.1 595.0,769.2 586.0,769.2 C577.0,769.2 571.0,769.0 568.0,769.0 Z" fill="#e6d5f3" clip-path="url(#f3pt)"/>
<path d="M446.5,724.0 C449.0,722.7 456.3,718.7 461.7,716.0 C467.1,713.3 473.5,709.6 478.9,707.6 C484.3,705.6 488.3,704.6 494.0,703.8 C499.7,703.0 506.7,702.6 513.0,702.8 C519.3,702.9 525.8,703.7 532.0,704.7 C538.2,705.7 544.0,707.4 550.0,708.9 C556.0,710.4 562.0,712.4 568.0,714.0 C574.0,715.6 580.7,717.5 586.0,718.8 C591.3,720.1 595.5,720.9 600.0,721.8 C604.5,722.7 607.8,723.5 613.0,724.2 C618.2,724.9 625.0,726.0 631.0,726.0 C637.0,726.0 643.7,724.7 649.0,724.2 C654.3,723.7 658.5,723.3 663.0,723.0 C667.5,722.7 671.5,722.3 676.0,722.4 C680.5,722.5 685.5,722.9 690.0,723.5 C694.5,724.1 698.5,724.9 703.0,726.0 C707.5,727.1 712.5,728.5 717.0,730.0 C721.5,731.5 725.3,733.3 730.0,735.0 C734.7,736.7 740.5,738.5 745.0,740.0 C749.5,741.5 755.0,743.2 757.0,743.8 L757.4,762.2 L762.4,763.6 C762.8,766.0 764.4,773.3 765.0,778.0 C765.6,782.7 766.0,789.6 766.2,791.9 C763.5,792.4 756.0,793.4 750.0,794.6 C744.0,795.8 736.3,797.8 730.0,799.3 C723.7,800.8 719.5,801.9 712.0,803.4 C704.5,804.9 694.0,807.1 685.0,808.0 C676.0,808.9 665.5,808.4 658.0,808.8 C650.5,809.2 646.0,809.2 640.0,810.2 C634.0,811.2 628.0,813.0 622.0,815.0 C616.0,817.0 609.3,820.0 604.0,822.3 C598.7,824.5 594.5,826.5 590.0,828.5 C585.5,830.5 581.5,832.1 577.0,834.0 C572.5,835.9 567.5,838.2 563.0,840.0 C558.5,841.8 555.2,843.3 550.0,844.8 C544.8,846.3 538.2,848.0 532.0,849.2 C525.8,850.4 519.3,851.5 513.0,852.0 C506.7,852.5 500.3,852.5 494.0,852.0 C487.7,851.5 481.3,850.6 475.0,849.2 C468.7,847.8 459.2,844.5 456.0,843.5 C456.3,840.9 457.5,833.1 458.0,828.0 C458.5,822.9 458.8,817.7 459.0,813.0 C459.2,808.3 459.5,804.4 459.5,800.0 C459.5,795.6 459.4,791.3 459.0,786.5 C458.6,781.7 457.8,776.1 457.0,771.0 C456.2,765.9 455.1,761.2 454.0,756.0 C452.9,750.8 451.8,745.3 450.5,740.0 C449.2,734.7 447.2,726.7 446.5,724.0 Z" fill="none" stroke="#932f30" stroke-width="1.35" stroke-linejoin="round"/>
<path d="M530.2,777.3 C531.8,776.9 536.7,775.9 540.0,775.2 C543.3,774.5 545.3,774.2 550.0,773.2 C554.7,772.2 562.0,770.3 568.0,769.0 C574.0,767.7 580.0,766.5 586.0,765.6 C592.0,764.7 598.0,764.1 604.0,763.5 C610.0,762.9 616.0,762.5 622.0,762.0 C628.0,761.5 634.0,761.0 640.0,760.5 C646.0,760.0 650.5,759.6 658.0,759.3 C665.5,758.9 676.0,758.4 685.0,758.4 C694.0,758.4 704.5,758.9 712.0,759.3 C719.5,759.7 724.5,760.5 730.0,761.0 C735.5,761.5 739.6,761.8 745.0,762.2 C750.4,762.6 759.5,763.4 762.4,763.6" fill="none" stroke="#932f30" stroke-width="1.35" stroke-linecap="round" stroke-linejoin="round"/>
<path d="M541.6,742.7 C541.1,744.9 539.8,751.6 538.7,756.0 C537.6,760.4 536.4,765.8 535.0,769.3 C533.6,772.8 531.0,776.0 530.2,777.3 C531.5,779.5 535.6,786.5 537.8,790.3 C540.0,794.0 541.7,796.3 543.5,799.8 C545.3,803.3 547.9,809.3 548.8,811.2" fill="none" stroke="#932f30" stroke-width="1.35" stroke-linecap="round" stroke-linejoin="round"/>
<clipPath id="f3hd"><path d="M255.6,790.9 C254.0,790.2 249.3,788.5 246.0,787.0 C242.7,785.5 241.0,783.5 236.0,782.0 C231.0,780.5 222.6,779.3 215.8,778.0 C209.1,776.7 201.1,775.5 195.5,774.0 C189.9,772.5 186.2,771.2 182.0,769.0 C177.8,766.8 172.7,764.2 170.0,761.0 C167.3,757.8 166.8,753.6 166.0,750.0 C165.2,746.4 165.0,743.1 165.1,739.6 C165.2,736.1 165.2,732.4 166.5,728.8 C167.8,725.2 170.7,720.6 172.6,718.0 C174.5,715.4 176.0,714.6 178.0,713.2 C180.0,711.9 182.2,710.9 184.7,709.9 C187.2,708.9 190.1,708.1 193.0,707.5 C195.9,706.9 199.3,706.5 202.3,706.5 C205.3,706.5 208.1,706.9 211.0,707.5 C213.9,708.1 217.0,708.8 219.8,709.9 C222.6,711.0 225.3,712.4 228.0,714.0 C230.7,715.6 232.9,716.6 236.0,719.3 C239.1,722.0 243.7,726.3 246.8,730.1 C250.0,733.9 253.0,739.1 254.9,742.3 C256.9,745.5 257.4,747.0 258.5,749.5 C259.6,752.0 260.8,754.0 261.7,757.1 C262.6,760.2 263.7,764.3 263.7,767.9 C263.7,771.5 262.7,775.3 261.7,778.7 C260.7,782.1 258.6,786.2 257.6,788.2 C256.6,790.2 255.9,790.5 255.6,790.9 Z"/></clipPath>
<path d="M255.6,790.9 C254.0,790.2 249.3,788.5 246.0,787.0 C242.7,785.5 241.0,783.5 236.0,782.0 C231.0,780.5 222.6,779.3 215.8,778.0 C209.1,776.7 201.1,775.5 195.5,774.0 C189.9,772.5 186.2,771.2 182.0,769.0 C177.8,766.8 172.7,764.2 170.0,761.0 C167.3,757.8 166.8,753.6 166.0,750.0 C165.2,746.4 165.0,743.1 165.1,739.6 C165.2,736.1 165.2,732.4 166.5,728.8 C167.8,725.2 170.7,720.6 172.6,718.0 C174.5,715.4 176.0,714.6 178.0,713.2 C180.0,711.9 182.2,710.9 184.7,709.9 C187.2,708.9 190.1,708.1 193.0,707.5 C195.9,706.9 199.3,706.5 202.3,706.5 C205.3,706.5 208.1,706.9 211.0,707.5 C213.9,708.1 217.0,708.8 219.8,709.9 C222.6,711.0 225.3,712.4 228.0,714.0 C230.7,715.6 232.9,716.6 236.0,719.3 C239.1,722.0 243.7,726.3 246.8,730.1 C250.0,733.9 253.0,739.1 254.9,742.3 C256.9,745.5 257.4,747.0 258.5,749.5 C259.6,752.0 260.8,754.0 261.7,757.1 C262.6,760.2 263.7,764.3 263.7,767.9 C263.7,771.5 262.7,775.3 261.7,778.7 C260.7,782.1 258.6,786.2 257.6,788.2 C256.6,790.2 255.9,790.5 255.6,790.9 Z" fill="#deb39a"/>
<path d="M172.0,726.0 C172.2,728.0 172.0,734.3 173.0,738.0 C174.0,741.7 175.3,745.0 178.0,748.0 C180.7,751.0 184.3,753.7 189.0,756.0 C193.7,758.3 205.3,762.0 206.0,762.0 C206.7,762.0 196.7,758.2 193.0,756.0 C189.3,753.8 186.5,751.2 184.0,748.5 C181.5,745.8 180.0,743.8 178.0,740.0 C176.0,736.2 173.0,728.3 172.0,726.0 Z" fill="#c99c86" clip-path="url(#f3hd)"/>
<path d="M194.0,738.0 C195.2,739.3 198.0,743.5 201.0,746.0 C204.0,748.5 206.7,750.7 212.0,753.0 C217.3,755.3 232.2,760.1 233.0,760.0 C233.8,759.9 221.5,754.8 217.0,752.5 C212.5,750.2 209.8,748.9 206.0,746.5 C202.2,744.1 196.0,739.4 194.0,738.0 Z" fill="#c99c86" clip-path="url(#f3hd)"/>
<path d="M255.6,790.9 C254.0,790.2 249.3,788.5 246.0,787.0 C242.7,785.5 241.0,783.5 236.0,782.0 C231.0,780.5 222.6,779.3 215.8,778.0 C209.1,776.7 201.1,775.5 195.5,774.0 C189.9,772.5 186.2,771.2 182.0,769.0 C177.8,766.8 172.7,764.2 170.0,761.0 C167.3,757.8 166.8,753.6 166.0,750.0 C165.2,746.4 165.0,743.1 165.1,739.6 C165.2,736.1 165.2,732.4 166.5,728.8 C167.8,725.2 170.7,720.6 172.6,718.0 C174.5,715.4 176.0,714.6 178.0,713.2 C180.0,711.9 182.2,710.9 184.7,709.9 C187.2,708.9 190.1,708.1 193.0,707.5 C195.9,706.9 199.3,706.5 202.3,706.5 C205.3,706.5 208.1,706.9 211.0,707.5 C213.9,708.1 217.0,708.8 219.8,709.9 C222.6,711.0 225.3,712.4 228.0,714.0 C230.7,715.6 232.9,716.6 236.0,719.3 C239.1,722.0 243.7,726.3 246.8,730.1 C250.0,733.9 253.0,739.1 254.9,742.3 C256.9,745.5 257.4,747.0 258.5,749.5 C259.6,752.0 260.8,754.0 261.7,757.1 C262.6,760.2 263.7,764.3 263.7,767.9 C263.7,771.5 262.7,775.3 261.7,778.7 C260.7,782.1 258.6,786.2 257.6,788.2 C256.6,790.2 255.9,790.5 255.6,790.9 Z" fill="none" stroke="#932f30" stroke-width="1.35" stroke-linejoin="round"/>
<path d="M109.8,797.5 C109.5,795.2 107.8,788.9 108.0,783.6 C108.2,778.3 109.2,770.7 110.7,765.6 C112.2,760.5 113.8,756.1 117.0,753.0 C120.2,749.9 125.1,747.6 129.6,746.7 C134.1,745.8 139.8,746.9 144.0,747.6 C148.2,748.3 150.9,749.4 155.0,751.0 C159.1,752.6 164.0,755.1 168.5,757.1 C173.0,759.1 177.5,761.4 182.0,763.2 C186.5,765.0 189.9,766.4 195.5,767.9 C201.1,769.4 209.1,770.6 215.8,772.0 C222.6,773.4 230.8,774.4 236.0,776.0 C241.2,777.6 243.7,779.1 246.8,781.4 C250.0,783.6 253.1,786.8 254.9,789.5 C256.7,792.2 257.1,794.9 257.6,797.6 C258.1,800.4 257.9,804.6 258.0,806.0 C255.8,805.3 249.7,803.1 245.0,802.0 C240.3,800.9 240.8,800.2 230.0,799.5 C219.2,798.8 200.0,797.8 180.0,797.5 C160.0,797.2 121.5,797.5 109.8,797.5 Z" fill="#94c7ea"/>
<path d="M109.8,797.5 C109.5,795.2 107.8,788.9 108.0,783.6 C108.2,778.3 109.2,770.7 110.7,765.6 C112.2,760.5 113.8,756.1 117.0,753.0 C120.2,749.9 125.1,747.6 129.6,746.7 C134.1,745.8 139.8,746.9 144.0,747.6 C148.2,748.3 150.9,749.4 155.0,751.0 C159.1,752.6 164.0,755.1 168.5,757.1 C173.0,759.1 177.5,761.4 182.0,763.2 C186.5,765.0 189.9,766.4 195.5,767.9 C201.1,769.4 209.1,770.6 215.8,772.0 C222.6,773.4 230.8,774.4 236.0,776.0 C241.2,777.6 243.7,779.1 246.8,781.4 C250.0,783.6 253.1,786.8 254.9,789.5 C256.7,792.2 257.1,794.9 257.6,797.6 C258.1,800.4 257.9,804.6 258.0,806.0" fill="none" stroke="#50616d" stroke-width="1.25" stroke-linejoin="round" stroke-linecap="round"/>
<path transform="translate(233.0,749.6) skewY(7.2) scale(7.00,10.50)" d="M0.42,-1 C0.46,-0.78 0.56,-0.62 0.74,-0.45 C0.86,-0.33 0.95,-0.15 1.02,0 C0.95,0.15 0.86,0.33 0.74,0.45 C0.56,0.62 0.46,0.78 0.42,1 C0.38,0.78 0.3,0.62 0.16,0.45 C0.06,0.33 0.04,0.15 0.16,0 C0.04,-0.15 0.06,-0.33 0.16,-0.45 C0.3,-0.62 0.38,-0.78 0.42,-1 Z" fill="#d94f52"/>
<path transform="translate(240.0,750.5) skewY(8.2) scale(8.00,10.38)" d="M0.42,-1 C0.46,-0.78 0.56,-0.62 0.74,-0.45 C0.86,-0.33 0.95,-0.15 1.02,0 C0.95,0.15 0.86,0.33 0.74,0.45 C0.56,0.62 0.46,0.78 0.42,1 C0.38,0.78 0.3,0.62 0.16,0.45 C0.06,0.33 0.04,0.15 0.16,0 C0.04,-0.15 0.06,-0.33 0.16,-0.45 C0.3,-0.62 0.38,-0.78 0.42,-1 Z" fill="#d94f52"/>
<path transform="translate(248.0,751.7) skewY(8.9) scale(7.50,10.24)" d="M0.42,-1 C0.46,-0.78 0.56,-0.62 0.74,-0.45 C0.86,-0.33 0.95,-0.15 1.02,0 C0.95,0.15 0.86,0.33 0.74,0.45 C0.56,0.62 0.46,0.78 0.42,1 C0.38,0.78 0.3,0.62 0.16,0.45 C0.06,0.33 0.04,0.15 0.16,0 C0.04,-0.15 0.06,-0.33 0.16,-0.45 C0.3,-0.62 0.38,-0.78 0.42,-1 Z" fill="#d94f52"/>
<path transform="translate(255.5,752.8) skewY(10.3) scale(8.00,10.11)" d="M0.42,-1 C0.46,-0.78 0.56,-0.62 0.74,-0.45 C0.86,-0.33 0.95,-0.15 1.02,0 C0.95,0.15 0.86,0.33 0.74,0.45 C0.56,0.62 0.46,0.78 0.42,1 C0.38,0.78 0.3,0.62 0.16,0.45 C0.06,0.33 0.04,0.15 0.16,0 C0.04,-0.15 0.06,-0.33 0.16,-0.45 C0.3,-0.62 0.38,-0.78 0.42,-1 Z" fill="#d94f52"/>
<path transform="translate(263.5,754.3) skewY(11.4) scale(7.50,9.99)" d="M0.42,-1 C0.46,-0.78 0.56,-0.62 0.74,-0.45 C0.86,-0.33 0.95,-0.15 1.02,0 C0.95,0.15 0.86,0.33 0.74,0.45 C0.56,0.62 0.46,0.78 0.42,1 C0.38,0.78 0.3,0.62 0.16,0.45 C0.06,0.33 0.04,0.15 0.16,0 C0.04,-0.15 0.06,-0.33 0.16,-0.45 C0.3,-0.62 0.38,-0.78 0.42,-1 Z" fill="#d94f52"/>
<path transform="translate(271.0,755.8) skewY(12.1) scale(8.00,9.94)" d="M0.000,-0.930 C0.010,-0.943 0.020,-0.997 0.060,-1.010 C0.100,-1.023 0.198,-1.023 0.240,-1.010 C0.282,-0.997 0.297,-0.982 0.310,-0.930 C0.323,-0.878 0.302,-0.755 0.320,-0.700 C0.338,-0.645 0.377,-0.627 0.420,-0.600 C0.463,-0.573 0.533,-0.577 0.580,-0.540 C0.627,-0.503 0.653,-0.430 0.700,-0.380 C0.747,-0.330 0.810,-0.283 0.860,-0.240 C0.910,-0.197 0.943,-0.160 1.000,-0.120 C1.057,-0.080 1.167,-0.020 1.200,0.000 C1.167,0.020 1.057,0.080 1.000,0.120 C0.943,0.160 0.910,0.197 0.860,0.240 C0.810,0.283 0.747,0.330 0.700,0.380 C0.653,0.430 0.627,0.503 0.580,0.540 C0.533,0.577 0.463,0.573 0.420,0.600 C0.377,0.627 0.338,0.645 0.320,0.700 C0.302,0.755 0.323,0.878 0.310,0.930 C0.297,0.982 0.282,0.997 0.240,1.010 C0.198,1.023 0.100,1.023 0.060,1.010 C0.020,0.997 0.010,0.943 0.000,0.930 C0.000,0.900 0.002,0.813 0.000,0.750 C-0.002,0.687 -0.005,0.622 -0.010,0.550 C-0.015,0.478 -0.057,0.385 -0.030,0.320 C-0.003,0.255 0.078,0.213 0.150,0.160 C0.222,0.107 0.358,0.027 0.400,0.000 C0.358,-0.027 0.222,-0.107 0.150,-0.160 C0.078,-0.213 -0.003,-0.255 -0.030,-0.320 C-0.057,-0.385 -0.015,-0.478 -0.010,-0.550 C-0.005,-0.622 -0.002,-0.687 0.000,-0.750 C0.002,-0.813 0.000,-0.900 0.000,-0.930 Z" fill="#d94f52"/>
<path transform="translate(279.0,757.5) skewY(12.2) scale(7.50,9.88)" d="M0.000,-0.930 C0.010,-0.943 0.020,-0.997 0.060,-1.010 C0.100,-1.023 0.198,-1.023 0.240,-1.010 C0.282,-0.997 0.297,-0.982 0.310,-0.930 C0.323,-0.878 0.302,-0.755 0.320,-0.700 C0.338,-0.645 0.377,-0.627 0.420,-0.600 C0.463,-0.573 0.533,-0.577 0.580,-0.540 C0.627,-0.503 0.653,-0.430 0.700,-0.380 C0.747,-0.330 0.810,-0.283 0.860,-0.240 C0.910,-0.197 0.943,-0.160 1.000,-0.120 C1.057,-0.080 1.167,-0.020 1.200,0.000 C1.167,0.020 1.057,0.080 1.000,0.120 C0.943,0.160 0.910,0.197 0.860,0.240 C0.810,0.283 0.747,0.330 0.700,0.380 C0.653,0.430 0.627,0.503 0.580,0.540 C0.533,0.577 0.463,0.573 0.420,0.600 C0.377,0.627 0.338,0.645 0.320,0.700 C0.302,0.755 0.323,0.878 0.310,0.930 C0.297,0.982 0.282,0.997 0.240,1.010 C0.198,1.023 0.100,1.023 0.060,1.010 C0.020,0.997 0.010,0.943 0.000,0.930 C0.000,0.900 0.002,0.813 0.000,0.750 C-0.002,0.687 -0.005,0.622 -0.010,0.550 C-0.015,0.478 -0.057,0.385 -0.030,0.320 C-0.003,0.255 0.078,0.213 0.150,0.160 C0.222,0.107 0.358,0.027 0.400,0.000 C0.358,-0.027 0.222,-0.107 0.150,-0.160 C0.078,-0.213 -0.003,-0.255 -0.030,-0.320 C-0.057,-0.385 -0.015,-0.478 -0.010,-0.550 C-0.005,-0.622 -0.002,-0.687 0.000,-0.750 C0.002,-0.813 0.000,-0.900 0.000,-0.930 Z" fill="#d94f52"/>
<path transform="translate(286.5,759.1) skewY(12.3) scale(8.00,9.83)" d="M0.000,-0.930 C0.010,-0.943 0.020,-0.997 0.060,-1.010 C0.100,-1.023 0.198,-1.023 0.240,-1.010 C0.282,-0.997 0.297,-0.982 0.310,-0.930 C0.323,-0.878 0.302,-0.755 0.320,-0.700 C0.338,-0.645 0.377,-0.627 0.420,-0.600 C0.463,-0.573 0.533,-0.577 0.580,-0.540 C0.627,-0.503 0.653,-0.430 0.700,-0.380 C0.747,-0.330 0.810,-0.283 0.860,-0.240 C0.910,-0.197 0.943,-0.160 1.000,-0.120 C1.057,-0.080 1.167,-0.020 1.200,0.000 C1.167,0.020 1.057,0.080 1.000,0.120 C0.943,0.160 0.910,0.197 0.860,0.240 C0.810,0.283 0.747,0.330 0.700,0.380 C0.653,0.430 0.627,0.503 0.580,0.540 C0.533,0.577 0.463,0.573 0.420,0.600 C0.377,0.627 0.338,0.645 0.320,0.700 C0.302,0.755 0.323,0.878 0.310,0.930 C0.297,0.982 0.282,0.997 0.240,1.010 C0.198,1.023 0.100,1.023 0.060,1.010 C0.020,0.997 0.010,0.943 0.000,0.930 C0.000,0.900 0.002,0.813 0.000,0.750 C-0.002,0.687 -0.005,0.622 -0.010,0.550 C-0.015,0.478 -0.057,0.385 -0.030,0.320 C-0.003,0.255 0.078,0.213 0.150,0.160 C0.222,0.107 0.358,0.027 0.400,0.000 C0.358,-0.027 0.222,-0.107 0.150,-0.160 C0.078,-0.213 -0.003,-0.255 -0.030,-0.320 C-0.057,-0.385 -0.015,-0.478 -0.010,-0.550 C-0.005,-0.622 -0.002,-0.687 0.000,-0.750 C0.002,-0.813 0.000,-0.900 0.000,-0.930 Z" fill="#d94f52"/>
<path transform="translate(294.5,760.9) skewY(14.1) scale(8.00,9.93)" d="M0.000,-0.930 C0.010,-0.943 0.020,-0.997 0.060,-1.010 C0.100,-1.023 0.198,-1.023 0.240,-1.010 C0.282,-0.997 0.297,-0.982 0.310,-0.930 C0.323,-0.878 0.302,-0.755 0.320,-0.700 C0.338,-0.645 0.377,-0.627 0.420,-0.600 C0.463,-0.573 0.533,-0.577 0.580,-0.540 C0.627,-0.503 0.653,-0.430 0.700,-0.380 C0.747,-0.330 0.810,-0.283 0.860,-0.240 C0.910,-0.197 0.943,-0.160 1.000,-0.120 C1.057,-0.080 1.167,-0.020 1.200,0.000 C1.167,0.020 1.057,0.080 1.000,0.120 C0.943,0.160 0.910,0.197 0.860,0.240 C0.810,0.283 0.747,0.330 0.700,0.380 C0.653,0.430 0.627,0.503 0.580,0.540 C0.533,0.577 0.463,0.573 0.420,0.600 C0.377,0.627 0.338,0.645 0.320,0.700 C0.302,0.755 0.323,0.878 0.310,0.930 C0.297,0.982 0.282,0.997 0.240,1.010 C0.198,1.023 0.100,1.023 0.060,1.010 C0.020,0.997 0.010,0.943 0.000,0.930 C0.000,0.900 0.002,0.813 0.000,0.750 C-0.002,0.687 -0.005,0.622 -0.010,0.550 C-0.015,0.478 -0.057,0.385 -0.030,0.320 C-0.003,0.255 0.078,0.213 0.150,0.160 C0.222,0.107 0.358,0.027 0.400,0.000 C0.358,-0.027 0.222,-0.107 0.150,-0.160 C0.078,-0.213 -0.003,-0.255 -0.030,-0.320 C-0.057,-0.385 -0.015,-0.478 -0.010,-0.550 C-0.005,-0.622 -0.002,-0.687 0.000,-0.750 C0.002,-0.813 0.000,-0.900 0.000,-0.930 Z" fill="#d94f52"/>
<path transform="translate(302.5,762.9) skewY(15.7) scale(8.50,10.16)" d="M0.000,-0.930 C0.010,-0.943 0.020,-0.997 0.060,-1.010 C0.100,-1.023 0.198,-1.023 0.240,-1.010 C0.282,-0.997 0.297,-0.982 0.310,-0.930 C0.323,-0.878 0.302,-0.755 0.320,-0.700 C0.338,-0.645 0.377,-0.627 0.420,-0.600 C0.463,-0.573 0.533,-0.577 0.580,-0.540 C0.627,-0.503 0.653,-0.430 0.700,-0.380 C0.747,-0.330 0.810,-0.283 0.860,-0.240 C0.910,-0.197 0.943,-0.160 1.000,-0.120 C1.057,-0.080 1.167,-0.020 1.200,0.000 C1.167,0.020 1.057,0.080 1.000,0.120 C0.943,0.160 0.910,0.197 0.860,0.240 C0.810,0.283 0.747,0.330 0.700,0.380 C0.653,0.430 0.627,0.503 0.580,0.540 C0.533,0.577 0.463,0.573 0.420,0.600 C0.377,0.627 0.338,0.645 0.320,0.700 C0.302,0.755 0.323,0.878 0.310,0.930 C0.297,0.982 0.282,0.997 0.240,1.010 C0.198,1.023 0.100,1.023 0.060,1.010 C0.020,0.997 0.010,0.943 0.000,0.930 C0.000,0.900 0.002,0.813 0.000,0.750 C-0.002,0.687 -0.005,0.622 -0.010,0.550 C-0.015,0.478 -0.057,0.385 -0.030,0.320 C-0.003,0.255 0.078,0.213 0.150,0.160 C0.222,0.107 0.358,0.027 0.400,0.000 C0.358,-0.027 0.222,-0.107 0.150,-0.160 C0.078,-0.213 -0.003,-0.255 -0.030,-0.320 C-0.057,-0.385 -0.015,-0.478 -0.010,-0.550 C-0.005,-0.622 -0.002,-0.687 0.000,-0.750 C0.002,-0.813 0.000,-0.900 0.000,-0.930 Z" fill="#d94f52"/>
<path transform="translate(311.0,765.3) skewY(17.9) scale(9.00,10.41)" d="M0.000,-0.930 C0.010,-0.943 0.020,-0.997 0.060,-1.010 C0.100,-1.023 0.198,-1.023 0.240,-1.010 C0.282,-0.997 0.297,-0.982 0.310,-0.930 C0.323,-0.878 0.302,-0.755 0.320,-0.700 C0.338,-0.645 0.377,-0.627 0.420,-0.600 C0.463,-0.573 0.533,-0.577 0.580,-0.540 C0.627,-0.503 0.653,-0.430 0.700,-0.380 C0.747,-0.330 0.810,-0.283 0.860,-0.240 C0.910,-0.197 0.943,-0.160 1.000,-0.120 C1.057,-0.080 1.167,-0.020 1.200,0.000 C1.167,0.020 1.057,0.080 1.000,0.120 C0.943,0.160 0.910,0.197 0.860,0.240 C0.810,0.283 0.747,0.330 0.700,0.380 C0.653,0.430 0.627,0.503 0.580,0.540 C0.533,0.577 0.463,0.573 0.420,0.600 C0.377,0.627 0.338,0.645 0.320,0.700 C0.302,0.755 0.323,0.878 0.310,0.930 C0.297,0.982 0.282,0.997 0.240,1.010 C0.198,1.023 0.100,1.023 0.060,1.010 C0.020,0.997 0.010,0.943 0.000,0.930 C0.000,0.900 0.002,0.813 0.000,0.750 C-0.002,0.687 -0.005,0.622 -0.010,0.550 C-0.015,0.478 -0.057,0.385 -0.030,0.320 C-0.003,0.255 0.078,0.213 0.150,0.160 C0.222,0.107 0.358,0.027 0.400,0.000 C0.358,-0.027 0.222,-0.107 0.150,-0.160 C0.078,-0.213 -0.003,-0.255 -0.030,-0.320 C-0.057,-0.385 -0.015,-0.478 -0.010,-0.550 C-0.005,-0.622 -0.002,-0.687 0.000,-0.750 C0.002,-0.813 0.000,-0.900 0.000,-0.930 Z" fill="#d94f52"/>
<path transform="translate(320.0,768.2) skewY(19.6) scale(9.50,10.67)" d="M0.000,-0.930 C0.010,-0.943 0.020,-0.997 0.060,-1.010 C0.100,-1.023 0.198,-1.023 0.240,-1.010 C0.282,-0.997 0.297,-0.982 0.310,-0.930 C0.323,-0.878 0.302,-0.755 0.320,-0.700 C0.338,-0.645 0.377,-0.627 0.420,-0.600 C0.463,-0.573 0.533,-0.577 0.580,-0.540 C0.627,-0.503 0.653,-0.430 0.700,-0.380 C0.747,-0.330 0.810,-0.283 0.860,-0.240 C0.910,-0.197 0.943,-0.160 1.000,-0.120 C1.057,-0.080 1.167,-0.020 1.200,0.000 C1.167,0.020 1.057,0.080 1.000,0.120 C0.943,0.160 0.910,0.197 0.860,0.240 C0.810,0.283 0.747,0.330 0.700,0.380 C0.653,0.430 0.627,0.503 0.580,0.540 C0.533,0.577 0.463,0.573 0.420,0.600 C0.377,0.627 0.338,0.645 0.320,0.700 C0.302,0.755 0.323,0.878 0.310,0.930 C0.297,0.982 0.282,0.997 0.240,1.010 C0.198,1.023 0.100,1.023 0.060,1.010 C0.020,0.997 0.010,0.943 0.000,0.930 C0.000,0.900 0.002,0.813 0.000,0.750 C-0.002,0.687 -0.005,0.622 -0.010,0.550 C-0.015,0.478 -0.057,0.385 -0.030,0.320 C-0.003,0.255 0.078,0.213 0.150,0.160 C0.222,0.107 0.358,0.027 0.400,0.000 C0.358,-0.027 0.222,-0.107 0.150,-0.160 C0.078,-0.213 -0.003,-0.255 -0.030,-0.320 C-0.057,-0.385 -0.015,-0.478 -0.010,-0.550 C-0.005,-0.622 -0.002,-0.687 0.000,-0.750 C0.002,-0.813 0.000,-0.900 0.000,-0.930 Z" fill="#d94f52"/>
<path transform="translate(329.5,771.6) skewY(20.3) scale(10.50,10.94)" d="M0.000,-0.930 C0.010,-0.943 0.020,-0.997 0.060,-1.010 C0.100,-1.023 0.198,-1.023 0.240,-1.010 C0.282,-0.997 0.297,-0.982 0.310,-0.930 C0.323,-0.878 0.302,-0.755 0.320,-0.700 C0.338,-0.645 0.377,-0.627 0.420,-0.600 C0.463,-0.573 0.533,-0.577 0.580,-0.540 C0.627,-0.503 0.653,-0.430 0.700,-0.380 C0.747,-0.330 0.810,-0.283 0.860,-0.240 C0.910,-0.197 0.943,-0.160 1.000,-0.120 C1.057,-0.080 1.167,-0.020 1.200,0.000 C1.167,0.020 1.057,0.080 1.000,0.120 C0.943,0.160 0.910,0.197 0.860,0.240 C0.810,0.283 0.747,0.330 0.700,0.380 C0.653,0.430 0.627,0.503 0.580,0.540 C0.533,0.577 0.463,0.573 0.420,0.600 C0.377,0.627 0.338,0.645 0.320,0.700 C0.302,0.755 0.323,0.878 0.310,0.930 C0.297,0.982 0.282,0.997 0.240,1.010 C0.198,1.023 0.100,1.023 0.060,1.010 C0.020,0.997 0.010,0.943 0.000,0.930 C0.000,0.900 0.002,0.813 0.000,0.750 C-0.002,0.687 -0.005,0.622 -0.010,0.550 C-0.015,0.478 -0.057,0.385 -0.030,0.320 C-0.003,0.255 0.078,0.213 0.150,0.160 C0.222,0.107 0.358,0.027 0.400,0.000 C0.358,-0.027 0.222,-0.107 0.150,-0.160 C0.078,-0.213 -0.003,-0.255 -0.030,-0.320 C-0.057,-0.385 -0.015,-0.478 -0.010,-0.550 C-0.005,-0.622 -0.002,-0.687 0.000,-0.750 C0.002,-0.813 0.000,-0.900 0.000,-0.930 Z" fill="#d94f52" stroke="#f5b4b3" stroke-width="0.7" vector-effect="non-scaling-stroke"/>
<path transform="translate(340.0,775.5) skewY(17.0) scale(9.50,11.38)" d="M0.000,-0.930 C0.010,-0.943 0.020,-0.997 0.060,-1.010 C0.100,-1.023 0.198,-1.023 0.240,-1.010 C0.282,-0.997 0.297,-0.982 0.310,-0.930 C0.323,-0.878 0.302,-0.755 0.320,-0.700 C0.338,-0.645 0.377,-0.627 0.420,-0.600 C0.463,-0.573 0.533,-0.577 0.580,-0.540 C0.627,-0.503 0.653,-0.430 0.700,-0.380 C0.747,-0.330 0.810,-0.283 0.860,-0.240 C0.910,-0.197 0.943,-0.160 1.000,-0.120 C1.057,-0.080 1.167,-0.020 1.200,0.000 C1.167,0.020 1.057,0.080 1.000,0.120 C0.943,0.160 0.910,0.197 0.860,0.240 C0.810,0.283 0.747,0.330 0.700,0.380 C0.653,0.430 0.627,0.503 0.580,0.540 C0.533,0.577 0.463,0.573 0.420,0.600 C0.377,0.627 0.338,0.645 0.320,0.700 C0.302,0.755 0.323,0.878 0.310,0.930 C0.297,0.982 0.282,0.997 0.240,1.010 C0.198,1.023 0.100,1.023 0.060,1.010 C0.020,0.997 0.010,0.943 0.000,0.930 C0.000,0.900 0.002,0.813 0.000,0.750 C-0.002,0.687 -0.005,0.622 -0.010,0.550 C-0.015,0.478 -0.057,0.385 -0.030,0.320 C-0.003,0.255 0.078,0.213 0.150,0.160 C0.222,0.107 0.358,0.027 0.400,0.000 C0.358,-0.027 0.222,-0.107 0.150,-0.160 C0.078,-0.213 -0.003,-0.255 -0.030,-0.320 C-0.057,-0.385 -0.015,-0.478 -0.010,-0.550 C-0.005,-0.622 -0.002,-0.687 0.000,-0.750 C0.002,-0.813 0.000,-0.900 0.000,-0.930 Z" fill="#d94f52" stroke="#f5b4b3" stroke-width="0.7" vector-effect="non-scaling-stroke"/>
<path transform="translate(349.5,778.4) skewY(14.1) scale(9.00,11.80)" d="M0.000,-0.930 C0.010,-0.943 0.020,-0.997 0.060,-1.010 C0.100,-1.023 0.198,-1.023 0.240,-1.010 C0.282,-0.997 0.297,-0.982 0.310,-0.930 C0.323,-0.878 0.302,-0.755 0.320,-0.700 C0.338,-0.645 0.377,-0.627 0.420,-0.600 C0.463,-0.573 0.533,-0.577 0.580,-0.540 C0.627,-0.503 0.653,-0.430 0.700,-0.380 C0.747,-0.330 0.810,-0.283 0.860,-0.240 C0.910,-0.197 0.943,-0.160 1.000,-0.120 C1.057,-0.080 1.167,-0.020 1.200,0.000 C1.167,0.020 1.057,0.080 1.000,0.120 C0.943,0.160 0.910,0.197 0.860,0.240 C0.810,0.283 0.747,0.330 0.700,0.380 C0.653,0.430 0.627,0.503 0.580,0.540 C0.533,0.577 0.463,0.573 0.420,0.600 C0.377,0.627 0.338,0.645 0.320,0.700 C0.302,0.755 0.323,0.878 0.310,0.930 C0.297,0.982 0.282,0.997 0.240,1.010 C0.198,1.023 0.100,1.023 0.060,1.010 C0.020,0.997 0.010,0.943 0.000,0.930 C0.000,0.900 0.002,0.813 0.000,0.750 C-0.002,0.687 -0.005,0.622 -0.010,0.550 C-0.015,0.478 -0.057,0.385 -0.030,0.320 C-0.003,0.255 0.078,0.213 0.150,0.160 C0.222,0.107 0.358,0.027 0.400,0.000 C0.358,-0.027 0.222,-0.107 0.150,-0.160 C0.078,-0.213 -0.003,-0.255 -0.030,-0.320 C-0.057,-0.385 -0.015,-0.478 -0.010,-0.550 C-0.005,-0.622 -0.002,-0.687 0.000,-0.750 C0.002,-0.813 0.000,-0.900 0.000,-0.930 Z" fill="#d94f52" stroke="#f5b4b3" stroke-width="0.7" vector-effect="non-scaling-stroke"/>
<path transform="translate(358.5,780.6) skewY(11.8) scale(9.50,12.14)" d="M0.000,-0.930 C0.010,-0.943 0.020,-0.997 0.060,-1.010 C0.100,-1.023 0.198,-1.023 0.240,-1.010 C0.282,-0.997 0.297,-0.982 0.310,-0.930 C0.323,-0.878 0.302,-0.755 0.320,-0.700 C0.338,-0.645 0.377,-0.627 0.420,-0.600 C0.463,-0.573 0.533,-0.577 0.580,-0.540 C0.627,-0.503 0.653,-0.430 0.700,-0.380 C0.747,-0.330 0.810,-0.283 0.860,-0.240 C0.910,-0.197 0.943,-0.160 1.000,-0.120 C1.057,-0.080 1.167,-0.020 1.200,0.000 C1.167,0.020 1.057,0.080 1.000,0.120 C0.943,0.160 0.910,0.197 0.860,0.240 C0.810,0.283 0.747,0.330 0.700,0.380 C0.653,0.430 0.627,0.503 0.580,0.540 C0.533,0.577 0.463,0.573 0.420,0.600 C0.377,0.627 0.338,0.645 0.320,0.700 C0.302,0.755 0.323,0.878 0.310,0.930 C0.297,0.982 0.282,0.997 0.240,1.010 C0.198,1.023 0.100,1.023 0.060,1.010 C0.020,0.997 0.010,0.943 0.000,0.930 C0.000,0.900 0.002,0.813 0.000,0.750 C-0.002,0.687 -0.005,0.622 -0.010,0.550 C-0.015,0.478 -0.057,0.385 -0.030,0.320 C-0.003,0.255 0.078,0.213 0.150,0.160 C0.222,0.107 0.358,0.027 0.400,0.000 C0.358,-0.027 0.222,-0.107 0.150,-0.160 C0.078,-0.213 -0.003,-0.255 -0.030,-0.320 C-0.057,-0.385 -0.015,-0.478 -0.010,-0.550 C-0.005,-0.622 -0.002,-0.687 0.000,-0.750 C0.002,-0.813 0.000,-0.900 0.000,-0.930 Z" fill="#d94f52" stroke="#f5b4b3" stroke-width="0.7" vector-effect="non-scaling-stroke"/>
<path transform="translate(368.0,782.6) skewY(10.8) scale(10.00,12.50)" d="M0.000,-0.930 C0.010,-0.943 0.020,-0.997 0.060,-1.010 C0.100,-1.023 0.198,-1.023 0.240,-1.010 C0.282,-0.997 0.297,-0.982 0.310,-0.930 C0.323,-0.878 0.302,-0.755 0.320,-0.700 C0.338,-0.645 0.377,-0.627 0.420,-0.600 C0.463,-0.573 0.533,-0.577 0.580,-0.540 C0.627,-0.503 0.653,-0.430 0.700,-0.380 C0.747,-0.330 0.810,-0.283 0.860,-0.240 C0.910,-0.197 0.943,-0.160 1.000,-0.120 C1.057,-0.080 1.167,-0.020 1.200,0.000 C1.167,0.020 1.057,0.080 1.000,0.120 C0.943,0.160 0.910,0.197 0.860,0.240 C0.810,0.283 0.747,0.330 0.700,0.380 C0.653,0.430 0.627,0.503 0.580,0.540 C0.533,0.577 0.463,0.573 0.420,0.600 C0.377,0.627 0.338,0.645 0.320,0.700 C0.302,0.755 0.323,0.878 0.310,0.930 C0.297,0.982 0.282,0.997 0.240,1.010 C0.198,1.023 0.100,1.023 0.060,1.010 C0.020,0.997 0.010,0.943 0.000,0.930 C0.000,0.900 0.002,0.813 0.000,0.750 C-0.002,0.687 -0.005,0.622 -0.010,0.550 C-0.015,0.478 -0.057,0.385 -0.030,0.320 C-0.003,0.255 0.078,0.213 0.150,0.160 C0.222,0.107 0.358,0.027 0.400,0.000 C0.358,-0.027 0.222,-0.107 0.150,-0.160 C0.078,-0.213 -0.003,-0.255 -0.030,-0.320 C-0.057,-0.385 -0.015,-0.478 -0.010,-0.550 C-0.005,-0.622 -0.002,-0.687 0.000,-0.750 C0.002,-0.813 0.000,-0.900 0.000,-0.930 Z" fill="#d94f52" stroke="#f5b4b3" stroke-width="0.7" vector-effect="non-scaling-stroke"/>
<path transform="translate(378.0,784.5) skewY(9.0) scale(10.50,13.23)" d="M0.000,-0.930 C0.010,-0.943 0.020,-0.997 0.060,-1.010 C0.100,-1.023 0.198,-1.023 0.240,-1.010 C0.282,-0.997 0.297,-0.982 0.310,-0.930 C0.323,-0.878 0.302,-0.755 0.320,-0.700 C0.338,-0.645 0.377,-0.627 0.420,-0.600 C0.463,-0.573 0.533,-0.577 0.580,-0.540 C0.627,-0.503 0.653,-0.430 0.700,-0.380 C0.747,-0.330 0.810,-0.283 0.860,-0.240 C0.910,-0.197 0.943,-0.160 1.000,-0.120 C1.057,-0.080 1.167,-0.020 1.200,0.000 C1.167,0.020 1.057,0.080 1.000,0.120 C0.943,0.160 0.910,0.197 0.860,0.240 C0.810,0.283 0.747,0.330 0.700,0.380 C0.653,0.430 0.627,0.503 0.580,0.540 C0.533,0.577 0.463,0.573 0.420,0.600 C0.377,0.627 0.338,0.645 0.320,0.700 C0.302,0.755 0.323,0.878 0.310,0.930 C0.297,0.982 0.282,0.997 0.240,1.010 C0.198,1.023 0.100,1.023 0.060,1.010 C0.020,0.997 0.010,0.943 0.000,0.930 C0.000,0.900 0.002,0.813 0.000,0.750 C-0.002,0.687 -0.005,0.622 -0.010,0.550 C-0.015,0.478 -0.057,0.385 -0.030,0.320 C-0.003,0.255 0.078,0.213 0.150,0.160 C0.222,0.107 0.358,0.027 0.400,0.000 C0.358,-0.027 0.222,-0.107 0.150,-0.160 C0.078,-0.213 -0.003,-0.255 -0.030,-0.320 C-0.057,-0.385 -0.015,-0.478 -0.010,-0.550 C-0.005,-0.622 -0.002,-0.687 0.000,-0.750 C0.002,-0.813 0.000,-0.900 0.000,-0.930 Z" fill="#d94f52" stroke="#f5b4b3" stroke-width="0.7" vector-effect="non-scaling-stroke"/>
<path transform="translate(388.5,786.2) skewY(6.8) scale(10.00,14.00)" d="M0.000,-0.930 C0.010,-0.943 0.020,-0.997 0.060,-1.010 C0.100,-1.023 0.198,-1.023 0.240,-1.010 C0.282,-0.997 0.297,-0.982 0.310,-0.930 C0.323,-0.878 0.302,-0.755 0.320,-0.700 C0.338,-0.645 0.377,-0.627 0.420,-0.600 C0.463,-0.573 0.533,-0.577 0.580,-0.540 C0.627,-0.503 0.653,-0.430 0.700,-0.380 C0.747,-0.330 0.810,-0.283 0.860,-0.240 C0.910,-0.197 0.943,-0.160 1.000,-0.120 C1.057,-0.080 1.167,-0.020 1.200,0.000 C1.167,0.020 1.057,0.080 1.000,0.120 C0.943,0.160 0.910,0.197 0.860,0.240 C0.810,0.283 0.747,0.330 0.700,0.380 C0.653,0.430 0.627,0.503 0.580,0.540 C0.533,0.577 0.463,0.573 0.420,0.600 C0.377,0.627 0.338,0.645 0.320,0.700 C0.302,0.755 0.323,0.878 0.310,0.930 C0.297,0.982 0.282,0.997 0.240,1.010 C0.198,1.023 0.100,1.023 0.060,1.010 C0.020,0.997 0.010,0.943 0.000,0.930 C0.000,0.900 0.002,0.813 0.000,0.750 C-0.002,0.687 -0.005,0.622 -0.010,0.550 C-0.015,0.478 -0.057,0.385 -0.030,0.320 C-0.003,0.255 0.078,0.213 0.150,0.160 C0.222,0.107 0.358,0.027 0.400,0.000 C0.358,-0.027 0.222,-0.107 0.150,-0.160 C0.078,-0.213 -0.003,-0.255 -0.030,-0.320 C-0.057,-0.385 -0.015,-0.478 -0.010,-0.550 C-0.005,-0.622 -0.002,-0.687 0.000,-0.750 C0.002,-0.813 0.000,-0.900 0.000,-0.930 Z" fill="#d94f52" stroke="#f5b4b3" stroke-width="0.7" vector-effect="non-scaling-stroke"/>
<path transform="translate(398.5,787.4) skewY(2.2) scale(11.50,15.57)" d="M0.030,-0.940 C0.045,-0.955 0.072,-1.017 0.120,-1.030 C0.168,-1.043 0.270,-1.038 0.320,-1.020 C0.370,-1.002 0.400,-0.970 0.420,-0.920 C0.440,-0.870 0.423,-0.773 0.440,-0.720 C0.457,-0.667 0.473,-0.630 0.520,-0.600 C0.567,-0.570 0.663,-0.573 0.720,-0.540 C0.777,-0.507 0.822,-0.450 0.860,-0.400 C0.898,-0.350 0.907,-0.288 0.950,-0.240 C0.993,-0.192 1.050,-0.150 1.120,-0.110 C1.190,-0.070 1.328,-0.018 1.370,0.000 C1.328,0.018 1.190,0.070 1.120,0.110 C1.050,0.150 0.993,0.192 0.950,0.240 C0.907,0.288 0.898,0.350 0.860,0.400 C0.822,0.450 0.777,0.507 0.720,0.540 C0.663,0.573 0.567,0.570 0.520,0.600 C0.473,0.630 0.457,0.667 0.440,0.720 C0.423,0.773 0.440,0.870 0.420,0.920 C0.400,0.970 0.370,1.002 0.320,1.020 C0.270,1.038 0.168,1.043 0.120,1.030 C0.072,1.017 0.045,0.955 0.030,0.940 C0.023,0.908 -0.005,0.820 -0.010,0.750 C-0.015,0.680 -0.013,0.595 0.000,0.520 C0.013,0.445 0.030,0.368 0.070,0.300 C0.110,0.232 0.173,0.160 0.240,0.110 C0.307,0.060 0.432,0.018 0.470,0.000 C0.432,-0.018 0.307,-0.060 0.240,-0.110 C0.173,-0.160 0.110,-0.232 0.070,-0.300 C0.030,-0.368 0.013,-0.445 0.000,-0.520 C-0.013,-0.595 -0.015,-0.680 -0.010,-0.750 C-0.005,-0.820 0.023,-0.908 0.030,-0.940 Z" fill="#d94f52" stroke="#f5b4b3" stroke-width="0.7" vector-effect="non-scaling-stroke"/>
<path transform="translate(410.0,787.8) skewY(-0.8) scale(13.50,17.05)" d="M0.030,-0.940 C0.045,-0.955 0.072,-1.017 0.120,-1.030 C0.168,-1.043 0.270,-1.038 0.320,-1.020 C0.370,-1.002 0.400,-0.970 0.420,-0.920 C0.440,-0.870 0.423,-0.773 0.440,-0.720 C0.457,-0.667 0.473,-0.630 0.520,-0.600 C0.567,-0.570 0.663,-0.573 0.720,-0.540 C0.777,-0.507 0.822,-0.450 0.860,-0.400 C0.898,-0.350 0.907,-0.288 0.950,-0.240 C0.993,-0.192 1.050,-0.150 1.120,-0.110 C1.190,-0.070 1.328,-0.018 1.370,0.000 C1.328,0.018 1.190,0.070 1.120,0.110 C1.050,0.150 0.993,0.192 0.950,0.240 C0.907,0.288 0.898,0.350 0.860,0.400 C0.822,0.450 0.777,0.507 0.720,0.540 C0.663,0.573 0.567,0.570 0.520,0.600 C0.473,0.630 0.457,0.667 0.440,0.720 C0.423,0.773 0.440,0.870 0.420,0.920 C0.400,0.970 0.370,1.002 0.320,1.020 C0.270,1.038 0.168,1.043 0.120,1.030 C0.072,1.017 0.045,0.955 0.030,0.940 C0.023,0.908 -0.005,0.820 -0.010,0.750 C-0.015,0.680 -0.013,0.595 0.000,0.520 C0.013,0.445 0.030,0.368 0.070,0.300 C0.110,0.232 0.173,0.160 0.240,0.110 C0.307,0.060 0.432,0.018 0.470,0.000 C0.432,-0.018 0.307,-0.060 0.240,-0.110 C0.173,-0.160 0.110,-0.232 0.070,-0.300 C0.030,-0.368 0.013,-0.445 0.000,-0.520 C-0.013,-0.595 -0.015,-0.680 -0.010,-0.750 C-0.005,-0.820 0.023,-0.908 0.030,-0.940 Z" fill="#d94f52" stroke="#f5b4b3" stroke-width="0.7" vector-effect="non-scaling-stroke"/>
<path transform="translate(423.5,787.6) skewY(-3.5) scale(13.00,18.38)" d="M0.030,-0.940 C0.045,-0.955 0.072,-1.017 0.120,-1.030 C0.168,-1.043 0.270,-1.038 0.320,-1.020 C0.370,-1.002 0.400,-0.970 0.420,-0.920 C0.440,-0.870 0.423,-0.773 0.440,-0.720 C0.457,-0.667 0.473,-0.630 0.520,-0.600 C0.567,-0.570 0.663,-0.573 0.720,-0.540 C0.777,-0.507 0.822,-0.450 0.860,-0.400 C0.898,-0.350 0.907,-0.288 0.950,-0.240 C0.993,-0.192 1.050,-0.150 1.120,-0.110 C1.190,-0.070 1.328,-0.018 1.370,0.000 C1.328,0.018 1.190,0.070 1.120,0.110 C1.050,0.150 0.993,0.192 0.950,0.240 C0.907,0.288 0.898,0.350 0.860,0.400 C0.822,0.450 0.777,0.507 0.720,0.540 C0.663,0.573 0.567,0.570 0.520,0.600 C0.473,0.630 0.457,0.667 0.440,0.720 C0.423,0.773 0.440,0.870 0.420,0.920 C0.400,0.970 0.370,1.002 0.320,1.020 C0.270,1.038 0.168,1.043 0.120,1.030 C0.072,1.017 0.045,0.955 0.030,0.940 C0.023,0.908 -0.005,0.820 -0.010,0.750 C-0.015,0.680 -0.013,0.595 0.000,0.520 C0.013,0.445 0.030,0.368 0.070,0.300 C0.110,0.232 0.173,0.160 0.240,0.110 C0.307,0.060 0.432,0.018 0.470,0.000 C0.432,-0.018 0.307,-0.060 0.240,-0.110 C0.173,-0.160 0.110,-0.232 0.070,-0.300 C0.030,-0.368 0.013,-0.445 0.000,-0.520 C-0.013,-0.595 -0.015,-0.680 -0.010,-0.750 C-0.005,-0.820 0.023,-0.908 0.030,-0.940 Z" fill="#d94f52" stroke="#f5b4b3" stroke-width="0.7" vector-effect="non-scaling-stroke"/>
<path transform="translate(436.5,786.8) skewY(-5.8) scale(12.50,18.50)" d="M0.030,-0.940 C0.045,-0.955 0.072,-1.017 0.120,-1.030 C0.168,-1.043 0.270,-1.038 0.320,-1.020 C0.370,-1.002 0.400,-0.970 0.420,-0.920 C0.440,-0.870 0.423,-0.773 0.440,-0.720 C0.457,-0.667 0.473,-0.630 0.520,-0.600 C0.567,-0.570 0.663,-0.573 0.720,-0.540 C0.777,-0.507 0.822,-0.450 0.860,-0.400 C0.898,-0.350 0.907,-0.288 0.950,-0.240 C0.993,-0.192 1.050,-0.150 1.120,-0.110 C1.190,-0.070 1.328,-0.018 1.370,0.000 C1.328,0.018 1.190,0.070 1.120,0.110 C1.050,0.150 0.993,0.192 0.950,0.240 C0.907,0.288 0.898,0.350 0.860,0.400 C0.822,0.450 0.777,0.507 0.720,0.540 C0.663,0.573 0.567,0.570 0.520,0.600 C0.473,0.630 0.457,0.667 0.440,0.720 C0.423,0.773 0.440,0.870 0.420,0.920 C0.400,0.970 0.370,1.002 0.320,1.020 C0.270,1.038 0.168,1.043 0.120,1.030 C0.072,1.017 0.045,0.955 0.030,0.940 C0.023,0.908 -0.005,0.820 -0.010,0.750 C-0.015,0.680 -0.013,0.595 0.000,0.520 C0.013,0.445 0.030,0.368 0.070,0.300 C0.110,0.232 0.173,0.160 0.240,0.110 C0.307,0.060 0.432,0.018 0.470,0.000 C0.432,-0.018 0.307,-0.060 0.240,-0.110 C0.173,-0.160 0.110,-0.232 0.070,-0.300 C0.030,-0.368 0.013,-0.445 0.000,-0.520 C-0.013,-0.595 -0.015,-0.680 -0.010,-0.750 C-0.005,-0.820 0.023,-0.908 0.030,-0.940 Z" fill="#d94f52" stroke="#f5b4b3" stroke-width="0.7" vector-effect="non-scaling-stroke"/>
<path transform="translate(449.0,785.5) skewY(-8.2) scale(13.00,18.20)" d="M0.030,-0.940 C0.045,-0.955 0.072,-1.017 0.120,-1.030 C0.168,-1.043 0.270,-1.038 0.320,-1.020 C0.370,-1.002 0.400,-0.970 0.420,-0.920 C0.440,-0.870 0.423,-0.773 0.440,-0.720 C0.457,-0.667 0.473,-0.630 0.520,-0.600 C0.567,-0.570 0.663,-0.573 0.720,-0.540 C0.777,-0.507 0.822,-0.450 0.860,-0.400 C0.898,-0.350 0.907,-0.288 0.950,-0.240 C0.993,-0.192 1.050,-0.150 1.120,-0.110 C1.190,-0.070 1.328,-0.018 1.370,0.000 C1.328,0.018 1.190,0.070 1.120,0.110 C1.050,0.150 0.993,0.192 0.950,0.240 C0.907,0.288 0.898,0.350 0.860,0.400 C0.822,0.450 0.777,0.507 0.720,0.540 C0.663,0.573 0.567,0.570 0.520,0.600 C0.473,0.630 0.457,0.667 0.440,0.720 C0.423,0.773 0.440,0.870 0.420,0.920 C0.400,0.970 0.370,1.002 0.320,1.020 C0.270,1.038 0.168,1.043 0.120,1.030 C0.072,1.017 0.045,0.955 0.030,0.940 C0.023,0.908 -0.005,0.820 -0.010,0.750 C-0.015,0.680 -0.013,0.595 0.000,0.520 C0.013,0.445 0.030,0.368 0.070,0.300 C0.110,0.232 0.173,0.160 0.240,0.110 C0.307,0.060 0.432,0.018 0.470,0.000 C0.432,-0.018 0.307,-0.060 0.240,-0.110 C0.173,-0.160 0.110,-0.232 0.070,-0.300 C0.030,-0.368 0.013,-0.445 0.000,-0.520 C-0.013,-0.595 -0.015,-0.680 -0.010,-0.750 C-0.005,-0.820 0.023,-0.908 0.030,-0.940 Z" fill="#d94f52" stroke="#f5b4b3" stroke-width="0.7" vector-effect="non-scaling-stroke"/>
<g transform="translate(464.6,783.2) skewY(-6.4) scale(41.00,18.20)"><path d="M0.054,0.000 C0.045,-0.041 0.009,-0.153 0.000,-0.245 C-0.009,-0.337 -0.009,-0.453 0.000,-0.550 C0.009,-0.647 0.027,-0.757 0.054,-0.825 C0.081,-0.892 0.121,-0.938 0.161,-0.955 C0.201,-0.972 0.255,-0.947 0.295,-0.925 C0.335,-0.903 0.371,-0.869 0.402,-0.825 C0.433,-0.781 0.456,-0.702 0.483,-0.660 C0.510,-0.618 0.536,-0.609 0.563,-0.575 C0.590,-0.541 0.619,-0.499 0.644,-0.455 C0.669,-0.411 0.691,-0.351 0.711,-0.310 C0.731,-0.269 0.749,-0.250 0.765,-0.210 C0.781,-0.170 0.796,-0.105 0.805,-0.070 C0.814,-0.035 0.818,-0.012 0.820,0.000 C0.818,0.012 0.814,0.035 0.805,0.070 C0.796,0.105 0.781,0.170 0.765,0.210 C0.749,0.250 0.731,0.269 0.711,0.310 C0.691,0.351 0.669,0.411 0.644,0.455 C0.619,0.499 0.590,0.541 0.563,0.575 C0.536,0.609 0.510,0.618 0.483,0.660 C0.456,0.702 0.433,0.781 0.402,0.825 C0.371,0.869 0.335,0.903 0.295,0.925 C0.255,0.947 0.201,0.972 0.161,0.955 C0.121,0.938 0.081,0.892 0.054,0.825 C0.027,0.757 0.009,0.647 0.000,0.550 C-0.009,0.453 -0.009,0.337 0.000,0.245 C0.009,0.153 0.045,0.041 0.054,0.000 Z" fill="#d94f52"/><path d="M0.835,-0.15 L0.895,-0.13 L0.895,0.13 L0.835,0.15 Z M0.925,-0.085 L0.962,-0.055 L0.962,0.055 L0.925,0.085 Z M0.975,-0.035 L0.995,0 L0.975,0.035 Z" fill="#d94f52"/><ellipse cx="0.241" cy="-0.370" rx="0.046" ry="0.145" fill="#fbeaf0"/><ellipse cx="0.241" cy="0.370" rx="0.046" ry="0.145" fill="#fbeaf0"/><ellipse cx="0.389" cy="-0.340" rx="0.044" ry="0.130" fill="#fbeaf0"/><ellipse cx="0.389" cy="0.340" rx="0.044" ry="0.130" fill="#fbeaf0"/><ellipse cx="0.523" cy="-0.220" rx="0.036" ry="0.100" fill="#fbeaf0"/><ellipse cx="0.523" cy="0.220" rx="0.036" ry="0.100" fill="#fbeaf0"/><ellipse cx="0.644" cy="-0.155" rx="0.025" ry="0.068" fill="#fbeaf0"/><ellipse cx="0.644" cy="0.155" rx="0.025" ry="0.068" fill="#fbeaf0"/></g>
<line x1="112.8" y1="696.5" x2="137.0" y2="736.5" stroke="#1a1a1a" stroke-width="1.5"/>
<g opacity="0.999">
<text x="499.5" y="306.5" font-size="30.0" text-anchor="middle" fill="#151515" textLength="321.0" lengthAdjust="spacingAndGlyphs" stroke="#ffffff" stroke-width="0.60">Correct Sleeping Position</text>
<text x="500.0" y="623.0" font-size="30.0" text-anchor="middle" fill="#151515" textLength="338.0" lengthAdjust="spacingAndGlyphs" stroke="#ffffff" stroke-width="0.60">Incorrect Sleeping Position</text>
<text x="500.3" y="653.0" font-size="19.5" text-anchor="middle" fill="#151515" textLength="152.0" lengthAdjust="spacingAndGlyphs" stroke="#ffffff" stroke-width="0.40">Mattress too firm</text>
<text x="500.0" y="920.3" font-size="30.0" text-anchor="middle" fill="#151515" textLength="338.0" lengthAdjust="spacingAndGlyphs" stroke="#ffffff" stroke-width="0.60">Incorrect Sleeping Position</text>
<text x="500.0" y="950.2" font-size="19.5" text-anchor="middle" fill="#151515" textLength="151.0" lengthAdjust="spacingAndGlyphs" stroke="#ffffff" stroke-width="0.40">Mattress too soft</text>
<text x="110.7" y="70.0" font-size="20.0" text-anchor="middle" fill="#151515" textLength="46.5" lengthAdjust="spacingAndGlyphs" stroke="#ffffff" stroke-width="0.40">Right</text>
<text x="110.5" y="94.0" font-size="20.0" text-anchor="middle" fill="#151515" textLength="91.0" lengthAdjust="spacingAndGlyphs" stroke="#ffffff" stroke-width="0.40">pillow size</text>
<text x="110.5" y="401.0" font-size="20.0" text-anchor="middle" fill="#151515" textLength="51.5" lengthAdjust="spacingAndGlyphs" stroke="#ffffff" stroke-width="0.40">Pillow</text>
<text x="111.2" y="424.0" font-size="20.0" text-anchor="middle" fill="#151515" textLength="67.5" lengthAdjust="spacingAndGlyphs" stroke="#ffffff" stroke-width="0.40">too low</text>
<text x="110.6" y="664.0" font-size="20.0" text-anchor="middle" fill="#151515" textLength="51.5" lengthAdjust="spacingAndGlyphs" stroke="#ffffff" stroke-width="0.40">Pillow</text>
<text x="110.5" y="687.5" font-size="20.0" text-anchor="middle" fill="#151515" textLength="76.0" lengthAdjust="spacingAndGlyphs" stroke="#ffffff" stroke-width="0.40">too high</text>
<text transform="translate(29,983) rotate(-90)" font-size="17.5" font-weight="bold" fill="#3a3a3a" textLength="225" lengthAdjust="spacingAndGlyphs">Adobe Stock | #1023188525</text>
</g>
</svg>
</body></html>
